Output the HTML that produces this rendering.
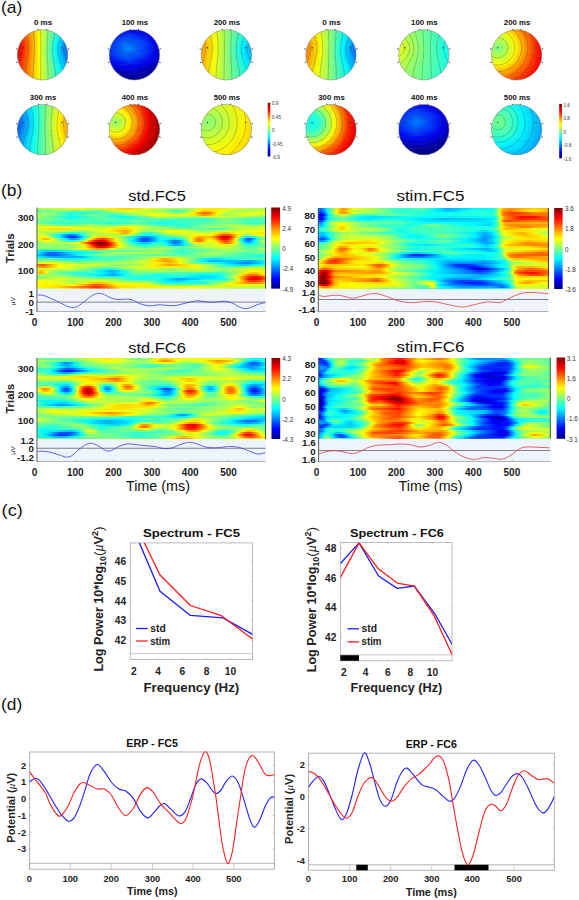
<!DOCTYPE html>
<html><head><meta charset="utf-8"><style>
html,body{margin:0;padding:0;background:#fff;width:579px;height:900px;overflow:hidden}
svg{display:block}
</style></head><body>
<svg width="579" height="900" viewBox="0 0 579 900" font-family="Liberation Sans, sans-serif">
<defs><clipPath id="c1"><circle cx="42.6" cy="54.8" r="25.2"/></clipPath>
<linearGradient id="g2"><stop offset=".000" stop-color="#ff0600"/><stop offset=".431" stop-color="#f6ff09"/><stop offset=".843" stop-color="#00faff"/><stop offset="1.000" stop-color="#009fff"/></linearGradient>
<linearGradient id="g3"><stop offset=".000" stop-color="#ff0200"/><stop offset=".431" stop-color="#f7ff08"/><stop offset=".843" stop-color="#00f4ff"/><stop offset="1.000" stop-color="#0099ff"/></linearGradient>
<linearGradient id="g4"><stop offset=".000" stop-color="#fc0000"/><stop offset=".431" stop-color="#f8ff07"/><stop offset=".824" stop-color="#00faff"/><stop offset="1.000" stop-color="#0091ff"/></linearGradient>
<linearGradient id="g5"><stop offset=".000" stop-color="#f70000"/><stop offset=".431" stop-color="#f9ff06"/><stop offset=".824" stop-color="#00f2ff"/><stop offset="1.000" stop-color="#0087ff"/></linearGradient>
<linearGradient id="g6"><stop offset=".000" stop-color="#f10000"/><stop offset=".176" stop-color="#ff5b00"/><stop offset=".431" stop-color="#faff05"/><stop offset=".804" stop-color="#00f7ff"/><stop offset="1.000" stop-color="#007dff"/></linearGradient>
<linearGradient id="g7"><stop offset=".000" stop-color="#ec0000"/><stop offset=".098" stop-color="#ff2500"/><stop offset=".431" stop-color="#fbff04"/><stop offset=".784" stop-color="#00feff"/><stop offset="1.000" stop-color="#0073ff"/></linearGradient>
<linearGradient id="g8"><stop offset=".000" stop-color="#e80000"/><stop offset=".078" stop-color="#ff1500"/><stop offset=".431" stop-color="#fbff04"/><stop offset=".784" stop-color="#00f6ff"/><stop offset="1.000" stop-color="#0068ff"/></linearGradient>
<linearGradient id="g9"><stop offset=".000" stop-color="#e50000"/><stop offset=".098" stop-color="#ff1d00"/><stop offset=".431" stop-color="#fcff03"/><stop offset=".765" stop-color="#01fffe"/><stop offset="1.000" stop-color="#005fff"/></linearGradient>
<linearGradient id="g10"><stop offset=".000" stop-color="#e20000"/><stop offset=".098" stop-color="#ff1b00"/><stop offset=".431" stop-color="#fcff03"/><stop offset=".765" stop-color="#00fbff"/><stop offset="1.000" stop-color="#0059ff"/></linearGradient>
<linearGradient id="g11"><stop offset=".000" stop-color="#e20000"/><stop offset=".078" stop-color="#ff0f00"/><stop offset=".431" stop-color="#fcff03"/><stop offset=".765" stop-color="#00f9ff"/><stop offset="1.000" stop-color="#0055ff"/></linearGradient>
<linearGradient id="g12"><stop offset=".000" stop-color="#e20000"/><stop offset=".098" stop-color="#ff1b00"/><stop offset=".431" stop-color="#fcff03"/><stop offset=".765" stop-color="#00f9ff"/><stop offset="1.000" stop-color="#0055ff"/></linearGradient>
<linearGradient id="g13"><stop offset=".000" stop-color="#e50000"/><stop offset=".098" stop-color="#ff1e00"/><stop offset=".431" stop-color="#fcff03"/><stop offset=".765" stop-color="#00fbff"/><stop offset="1.000" stop-color="#0058ff"/></linearGradient>
<linearGradient id="g14"><stop offset=".000" stop-color="#e80000"/><stop offset=".078" stop-color="#ff1500"/><stop offset=".431" stop-color="#fbff04"/><stop offset=".765" stop-color="#00ffff"/><stop offset="1.000" stop-color="#005eff"/></linearGradient>
<linearGradient id="g15"><stop offset=".000" stop-color="#ed0000"/><stop offset=".098" stop-color="#ff2600"/><stop offset=".431" stop-color="#faff05"/><stop offset=".784" stop-color="#00f5ff"/><stop offset="1.000" stop-color="#0067ff"/></linearGradient>
<linearGradient id="g16"><stop offset=".000" stop-color="#f20000"/><stop offset=".196" stop-color="#ff6900"/><stop offset=".431" stop-color="#f9ff06"/><stop offset=".784" stop-color="#00fcff"/><stop offset="1.000" stop-color="#0071ff"/></linearGradient>
<linearGradient id="g17"><stop offset=".000" stop-color="#f70000"/><stop offset=".431" stop-color="#f8ff07"/><stop offset=".804" stop-color="#00f6ff"/><stop offset="1.000" stop-color="#007bff"/></linearGradient>
<linearGradient id="g18"><stop offset=".000" stop-color="#fc0000"/><stop offset=".431" stop-color="#f7ff08"/><stop offset=".824" stop-color="#00f1ff"/><stop offset="1.000" stop-color="#0086ff"/></linearGradient>
<linearGradient id="g19"><stop offset=".000" stop-color="#ff0200"/><stop offset=".431" stop-color="#f7ff08"/><stop offset=".824" stop-color="#00f9ff"/><stop offset="1.000" stop-color="#008fff"/></linearGradient>
<linearGradient id="g20"><stop offset=".000" stop-color="#ff0600"/><stop offset=".431" stop-color="#f6ff09"/><stop offset=".843" stop-color="#00f3ff"/><stop offset="1.000" stop-color="#0097ff"/></linearGradient>
<linearGradient id="g21"><stop offset=".000" stop-color="#ff0a00"/><stop offset=".431" stop-color="#f5ff0a"/><stop offset=".843" stop-color="#00f9ff"/><stop offset="1.000" stop-color="#009eff"/></linearGradient>
<linearGradient id="g22"><stop offset=".000" stop-color="#ff0d00"/><stop offset=".431" stop-color="#f5ff0a"/><stop offset=".863" stop-color="#00f2ff"/><stop offset="1.000" stop-color="#00a3ff"/></linearGradient>
<linearGradient id="g23"><stop offset=".000" stop-color="#ff0f00"/><stop offset=".431" stop-color="#f4ff0b"/><stop offset=".863" stop-color="#00f5ff"/><stop offset="1.000" stop-color="#00a7ff"/></linearGradient>
<linearGradient id="g24"><stop offset=".000" stop-color="#ff1100"/><stop offset=".431" stop-color="#f4ff0b"/><stop offset=".863" stop-color="#00f8ff"/><stop offset="1.000" stop-color="#00a9ff"/></linearGradient>
<linearGradient id="g25"><stop offset=".000" stop-color="#ff1200"/><stop offset=".431" stop-color="#f4ff0b"/><stop offset=".863" stop-color="#00f9ff"/><stop offset="1.000" stop-color="#00abff"/></linearGradient>
<linearGradient id="g26"><stop offset=".000" stop-color="#ff1300"/><stop offset=".431" stop-color="#f4ff0b"/><stop offset=".863" stop-color="#00faff"/><stop offset="1.000" stop-color="#00acff"/></linearGradient>
<linearGradient id="g27"><stop offset=".000" stop-color="#ff1300"/><stop offset=".431" stop-color="#f3ff0c"/><stop offset=".863" stop-color="#00fbff"/><stop offset="1.000" stop-color="#00adff"/></linearGradient>
<clipPath id="c28"><circle cx="134.4" cy="54.8" r="25.2"/></clipPath>
<linearGradient id="g29"><stop offset=".000" stop-color="#0000df"/><stop offset=".294" stop-color="#000cff"/><stop offset=".667" stop-color="#0000f0"/><stop offset="1.000" stop-color="#0000a7"/></linearGradient>
<linearGradient id="g30"><stop offset=".000" stop-color="#0000ee"/><stop offset=".314" stop-color="#0021ff"/><stop offset=".745" stop-color="#0000ef"/><stop offset="1.000" stop-color="#0000b0"/></linearGradient>
<linearGradient id="g31"><stop offset=".000" stop-color="#0000fc"/><stop offset=".392" stop-color="#0036ff"/><stop offset=".784" stop-color="#0000f3"/><stop offset="1.000" stop-color="#0000b7"/></linearGradient>
<linearGradient id="g32"><stop offset=".000" stop-color="#000bff"/><stop offset=".353" stop-color="#004aff"/><stop offset=".686" stop-color="#001bff"/><stop offset=".863" stop-color="#0000e9"/><stop offset="1.000" stop-color="#0000be"/></linearGradient>
<linearGradient id="g33"><stop offset=".000" stop-color="#0016ff"/><stop offset=".314" stop-color="#0055ff"/><stop offset=".627" stop-color="#0038ff"/><stop offset=".863" stop-color="#0000f3"/><stop offset="1.000" stop-color="#0000c6"/></linearGradient>
<linearGradient id="g34"><stop offset=".000" stop-color="#0020ff"/><stop offset=".294" stop-color="#005eff"/><stop offset=".627" stop-color="#0045ff"/><stop offset=".882" stop-color="#0000f4"/><stop offset="1.000" stop-color="#0000cd"/></linearGradient>
<linearGradient id="g35"><stop offset=".000" stop-color="#0028ff"/><stop offset=".314" stop-color="#006aff"/><stop offset=".647" stop-color="#004aff"/><stop offset=".902" stop-color="#0000f4"/><stop offset="1.000" stop-color="#0000d2"/></linearGradient>
<linearGradient id="g36"><stop offset=".000" stop-color="#002eff"/><stop offset=".353" stop-color="#0077ff"/><stop offset=".706" stop-color="#003dff"/><stop offset=".922" stop-color="#0000f1"/><stop offset="1.000" stop-color="#0000d5"/></linearGradient>
<linearGradient id="g37"><stop offset=".000" stop-color="#0031ff"/><stop offset=".392" stop-color="#0082ff"/><stop offset=".765" stop-color="#002cff"/><stop offset=".941" stop-color="#0000ec"/><stop offset="1.000" stop-color="#0000d7"/></linearGradient>
<linearGradient id="g38"><stop offset=".000" stop-color="#0031ff"/><stop offset=".392" stop-color="#0084ff"/><stop offset=".784" stop-color="#0025ff"/><stop offset=".941" stop-color="#0000ec"/><stop offset="1.000" stop-color="#0000d7"/></linearGradient>
<linearGradient id="g39"><stop offset=".000" stop-color="#002fff"/><stop offset=".373" stop-color="#007aff"/><stop offset=".745" stop-color="#0031ff"/><stop offset=".922" stop-color="#0000f1"/><stop offset="1.000" stop-color="#0000d6"/></linearGradient>
<linearGradient id="g40"><stop offset=".000" stop-color="#0029ff"/><stop offset=".314" stop-color="#006cff"/><stop offset=".647" stop-color="#004bff"/><stop offset=".902" stop-color="#0000f5"/><stop offset="1.000" stop-color="#0000d2"/></linearGradient>
<linearGradient id="g41"><stop offset=".000" stop-color="#0022ff"/><stop offset=".294" stop-color="#0060ff"/><stop offset=".627" stop-color="#0047ff"/><stop offset=".882" stop-color="#0000f5"/><stop offset="1.000" stop-color="#0000ce"/></linearGradient>
<linearGradient id="g42"><stop offset=".000" stop-color="#0018ff"/><stop offset=".314" stop-color="#0056ff"/><stop offset=".627" stop-color="#003aff"/><stop offset=".863" stop-color="#0000f4"/><stop offset="1.000" stop-color="#0000c7"/></linearGradient>
<linearGradient id="g43"><stop offset=".000" stop-color="#000cff"/><stop offset=".353" stop-color="#004dff"/><stop offset=".686" stop-color="#001dff"/><stop offset=".863" stop-color="#0000ea"/><stop offset="1.000" stop-color="#0000bf"/></linearGradient>
<linearGradient id="g44"><stop offset=".000" stop-color="#0000fe"/><stop offset=".373" stop-color="#0039ff"/><stop offset=".784" stop-color="#0000f5"/><stop offset="1.000" stop-color="#0000b8"/></linearGradient>
<linearGradient id="g45"><stop offset=".000" stop-color="#0000f0"/><stop offset=".451" stop-color="#0023ff"/><stop offset=".745" stop-color="#0000f2"/><stop offset="1.000" stop-color="#0000b1"/></linearGradient>
<linearGradient id="g46"><stop offset=".000" stop-color="#0000e1"/><stop offset=".275" stop-color="#000eff"/><stop offset=".686" stop-color="#0000ef"/><stop offset="1.000" stop-color="#0000a9"/></linearGradient>
<linearGradient id="g47"><stop offset=".000" stop-color="#0000d2"/><stop offset=".412" stop-color="#0000fd"/><stop offset=".922" stop-color="#0000af"/><stop offset="1.000" stop-color="#0000a0"/></linearGradient>
<linearGradient id="g48"><stop offset=".000" stop-color="#0000c2"/><stop offset=".431" stop-color="#0000e8"/><stop offset="1.000" stop-color="#000097"/></linearGradient>
<linearGradient id="g49"><stop offset=".000" stop-color="#0000b4"/><stop offset=".471" stop-color="#0000d3"/><stop offset="1.000" stop-color="#00008d"/></linearGradient>
<linearGradient id="g50"><stop offset=".000" stop-color="#0000a8"/><stop offset=".510" stop-color="#0000bd"/><stop offset="1.000" stop-color="#000089"/></linearGradient>
<linearGradient id="g51"><stop offset=".000" stop-color="#00009c"/><stop offset=".549" stop-color="#0000ad"/><stop offset="1.000" stop-color="#000087"/></linearGradient>
<linearGradient id="g52"><stop offset=".000" stop-color="#00008f"/><stop offset=".569" stop-color="#00009f"/><stop offset="1.000" stop-color="#000086"/></linearGradient>
<linearGradient id="g53"><stop offset=".000" stop-color="#000089"/><stop offset=".647" stop-color="#00008c"/><stop offset="1.000" stop-color="#000084"/></linearGradient>
<linearGradient id="g54"><stop offset=".000" stop-color="#000087"/><stop offset="1.000" stop-color="#000083"/></linearGradient>
<clipPath id="c55"><circle cx="226.4" cy="54.8" r="25.2"/></clipPath>
<linearGradient id="g56"><stop offset=".000" stop-color="#ffb100"/><stop offset=".255" stop-color="#f1ff0e"/><stop offset=".922" stop-color="#00f7ff"/><stop offset="1.000" stop-color="#00dcff"/></linearGradient>
<linearGradient id="g57"><stop offset=".000" stop-color="#ffae00"/><stop offset=".255" stop-color="#f3ff0c"/><stop offset=".922" stop-color="#00f2ff"/><stop offset="1.000" stop-color="#00d8ff"/></linearGradient>
<linearGradient id="g58"><stop offset=".000" stop-color="#ffaa00"/><stop offset=".255" stop-color="#f6ff09"/><stop offset=".902" stop-color="#00f4ff"/><stop offset="1.000" stop-color="#00d2ff"/></linearGradient>
<linearGradient id="g59"><stop offset=".000" stop-color="#ffa600"/><stop offset=".275" stop-color="#f0ff0f"/><stop offset=".882" stop-color="#00f6ff"/><stop offset="1.000" stop-color="#00ccff"/></linearGradient>
<linearGradient id="g60"><stop offset=".000" stop-color="#ffa200"/><stop offset=".275" stop-color="#f3ff0c"/><stop offset=".863" stop-color="#00f7ff"/><stop offset="1.000" stop-color="#00c5ff"/></linearGradient>
<linearGradient id="g61"><stop offset=".000" stop-color="#ff9d00"/><stop offset=".275" stop-color="#f5ff0a"/><stop offset=".843" stop-color="#00f9ff"/><stop offset="1.000" stop-color="#00beff"/></linearGradient>
<linearGradient id="g62"><stop offset=".000" stop-color="#ff9a00"/><stop offset=".275" stop-color="#f8ff07"/><stop offset=".843" stop-color="#00f3ff"/><stop offset="1.000" stop-color="#00b7ff"/></linearGradient>
<linearGradient id="g63"><stop offset=".000" stop-color="#ff9700"/><stop offset=".294" stop-color="#f0ff0f"/><stop offset=".824" stop-color="#00f7ff"/><stop offset="1.000" stop-color="#00b1ff"/></linearGradient>
<linearGradient id="g64"><stop offset=".000" stop-color="#ff9500"/><stop offset=".294" stop-color="#f1ff0e"/><stop offset=".824" stop-color="#00f3ff"/><stop offset="1.000" stop-color="#00adff"/></linearGradient>
<linearGradient id="g65"><stop offset=".000" stop-color="#ff9500"/><stop offset=".294" stop-color="#f2ff0d"/><stop offset=".804" stop-color="#00fbff"/><stop offset="1.000" stop-color="#00abff"/></linearGradient>
<linearGradient id="g66"><stop offset=".000" stop-color="#ff9600"/><stop offset=".294" stop-color="#f1ff0e"/><stop offset=".804" stop-color="#00fbff"/><stop offset="1.000" stop-color="#00aaff"/></linearGradient>
<linearGradient id="g67"><stop offset=".000" stop-color="#ff9700"/><stop offset=".275" stop-color="#f9ff06"/><stop offset=".824" stop-color="#00f3ff"/><stop offset="1.000" stop-color="#00acff"/></linearGradient>
<linearGradient id="g68"><stop offset=".000" stop-color="#ff9a00"/><stop offset=".275" stop-color="#f7ff08"/><stop offset=".824" stop-color="#00f6ff"/><stop offset="1.000" stop-color="#00b1ff"/></linearGradient>
<linearGradient id="g69"><stop offset=".000" stop-color="#ff9e00"/><stop offset=".275" stop-color="#f5ff0a"/><stop offset=".843" stop-color="#00f2ff"/><stop offset="1.000" stop-color="#00b6ff"/></linearGradient>
<linearGradient id="g70"><stop offset=".000" stop-color="#ffa200"/><stop offset=".275" stop-color="#f3ff0c"/><stop offset=".843" stop-color="#00f8ff"/><stop offset="1.000" stop-color="#00bdff"/></linearGradient>
<linearGradient id="g71"><stop offset=".000" stop-color="#ffa600"/><stop offset=".255" stop-color="#f8ff07"/><stop offset=".863" stop-color="#00f6ff"/><stop offset="1.000" stop-color="#00c4ff"/></linearGradient>
<linearGradient id="g72"><stop offset=".000" stop-color="#ffaa00"/><stop offset=".255" stop-color="#f5ff0a"/><stop offset=".882" stop-color="#00f5ff"/><stop offset="1.000" stop-color="#00cbff"/></linearGradient>
<linearGradient id="g73"><stop offset=".000" stop-color="#ffae00"/><stop offset=".255" stop-color="#f3ff0c"/><stop offset=".902" stop-color="#00f3ff"/><stop offset="1.000" stop-color="#00d1ff"/></linearGradient>
<linearGradient id="g74"><stop offset=".000" stop-color="#ffb200"/><stop offset=".255" stop-color="#f0ff0f"/><stop offset=".902" stop-color="#00f9ff"/><stop offset="1.000" stop-color="#00d7ff"/></linearGradient>
<linearGradient id="g75"><stop offset=".000" stop-color="#ffb400"/><stop offset=".255" stop-color="#eeff11"/><stop offset=".922" stop-color="#00f6ff"/><stop offset="1.000" stop-color="#00dbff"/></linearGradient>
<linearGradient id="g76"><stop offset=".000" stop-color="#ffb700"/><stop offset=".235" stop-color="#f4ff0b"/><stop offset=".941" stop-color="#00f3ff"/><stop offset="1.000" stop-color="#00dfff"/></linearGradient>
<linearGradient id="g77"><stop offset=".000" stop-color="#ffb900"/><stop offset=".235" stop-color="#f3ff0c"/><stop offset=".941" stop-color="#00f5ff"/><stop offset="1.000" stop-color="#00e1ff"/></linearGradient>
<linearGradient id="g78"><stop offset=".000" stop-color="#ffba00"/><stop offset=".235" stop-color="#f2ff0d"/><stop offset=".941" stop-color="#00f7ff"/><stop offset="1.000" stop-color="#00e3ff"/></linearGradient>
<linearGradient id="g79"><stop offset=".000" stop-color="#ffbb00"/><stop offset=".235" stop-color="#f1ff0e"/><stop offset=".941" stop-color="#00f8ff"/><stop offset="1.000" stop-color="#00e4ff"/></linearGradient>
<linearGradient id="g80"><stop offset=".000" stop-color="#ffbc00"/><stop offset=".235" stop-color="#f1ff0e"/><stop offset=".961" stop-color="#00f2ff"/><stop offset="1.000" stop-color="#00e5ff"/></linearGradient>
<linearGradient id="g81"><stop offset=".000" stop-color="#ffbc00"/><stop offset=".235" stop-color="#f0ff0f"/><stop offset=".961" stop-color="#00f3ff"/><stop offset="1.000" stop-color="#00e5ff"/></linearGradient>
<clipPath id="c82"><circle cx="42.6" cy="129.6" r="25.2"/></clipPath>
<linearGradient id="g83"><stop offset=".000" stop-color="#0080ff"/><stop offset=".314" stop-color="#0bfff4"/><stop offset=".882" stop-color="#fff500"/><stop offset="1.000" stop-color="#ffc500"/></linearGradient>
<linearGradient id="g84"><stop offset=".000" stop-color="#007aff"/><stop offset=".314" stop-color="#08fff7"/><stop offset=".863" stop-color="#fffa00"/><stop offset="1.000" stop-color="#ffc100"/></linearGradient>
<linearGradient id="g85"><stop offset=".000" stop-color="#0073ff"/><stop offset=".333" stop-color="#0efff1"/><stop offset=".863" stop-color="#fff600"/><stop offset="1.000" stop-color="#ffbd00"/></linearGradient>
<linearGradient id="g86"><stop offset=".000" stop-color="#006cff"/><stop offset=".333" stop-color="#0bfff4"/><stop offset=".843" stop-color="#fffa00"/><stop offset="1.000" stop-color="#ffb800"/></linearGradient>
<linearGradient id="g87"><stop offset=".000" stop-color="#0064ff"/><stop offset=".333" stop-color="#08fff7"/><stop offset=".843" stop-color="#fff500"/><stop offset="1.000" stop-color="#ffb200"/></linearGradient>
<linearGradient id="g88"><stop offset=".000" stop-color="#005dff"/><stop offset=".333" stop-color="#04fffb"/><stop offset=".824" stop-color="#fffa00"/><stop offset="1.000" stop-color="#ffad00"/></linearGradient>
<linearGradient id="g89"><stop offset=".000" stop-color="#0057ff"/><stop offset=".353" stop-color="#0dfff2"/><stop offset=".824" stop-color="#fff600"/><stop offset="1.000" stop-color="#ffa800"/></linearGradient>
<linearGradient id="g90"><stop offset=".000" stop-color="#0052ff"/><stop offset=".353" stop-color="#0bfff4"/><stop offset=".804" stop-color="#fffc00"/><stop offset="1.000" stop-color="#ffa400"/></linearGradient>
<linearGradient id="g91"><stop offset=".000" stop-color="#004fff"/><stop offset=".353" stop-color="#0afff5"/><stop offset=".804" stop-color="#fffa00"/><stop offset="1.000" stop-color="#ffa100"/></linearGradient>
<linearGradient id="g92"><stop offset=".000" stop-color="#004eff"/><stop offset=".353" stop-color="#0afff5"/><stop offset=".804" stop-color="#fff800"/><stop offset="1.000" stop-color="#ffa000"/></linearGradient>
<linearGradient id="g93"><stop offset=".000" stop-color="#004fff"/><stop offset=".353" stop-color="#0afff5"/><stop offset=".804" stop-color="#fff800"/><stop offset="1.000" stop-color="#ff9f00"/></linearGradient>
<linearGradient id="g94"><stop offset=".000" stop-color="#0053ff"/><stop offset=".353" stop-color="#0bfff4"/><stop offset=".804" stop-color="#fff900"/><stop offset="1.000" stop-color="#ffa100"/></linearGradient>
<linearGradient id="g95"><stop offset=".000" stop-color="#0058ff"/><stop offset=".353" stop-color="#0dfff2"/><stop offset=".804" stop-color="#fffc00"/><stop offset="1.000" stop-color="#ffa400"/></linearGradient>
<linearGradient id="g96"><stop offset=".000" stop-color="#005eff"/><stop offset=".333" stop-color="#05fffa"/><stop offset=".824" stop-color="#fff500"/><stop offset="1.000" stop-color="#ffa800"/></linearGradient>
<linearGradient id="g97"><stop offset=".000" stop-color="#0065ff"/><stop offset=".333" stop-color="#08fff7"/><stop offset=".824" stop-color="#fff900"/><stop offset="1.000" stop-color="#ffac00"/></linearGradient>
<linearGradient id="g98"><stop offset=".000" stop-color="#006cff"/><stop offset=".333" stop-color="#0bfff4"/><stop offset=".843" stop-color="#fff400"/><stop offset="1.000" stop-color="#ffb200"/></linearGradient>
<linearGradient id="g99"><stop offset=".000" stop-color="#0074ff"/><stop offset=".314" stop-color="#05fffa"/><stop offset=".843" stop-color="#fff900"/><stop offset="1.000" stop-color="#ffb700"/></linearGradient>
<linearGradient id="g100"><stop offset=".000" stop-color="#007aff"/><stop offset=".314" stop-color="#08fff7"/><stop offset=".863" stop-color="#fff500"/><stop offset="1.000" stop-color="#ffbc00"/></linearGradient>
<linearGradient id="g101"><stop offset=".000" stop-color="#0080ff"/><stop offset=".314" stop-color="#0bfff4"/><stop offset=".863" stop-color="#fff900"/><stop offset="1.000" stop-color="#ffc100"/></linearGradient>
<linearGradient id="g102"><stop offset=".000" stop-color="#0085ff"/><stop offset=".314" stop-color="#0efff1"/><stop offset=".882" stop-color="#fff500"/><stop offset="1.000" stop-color="#ffc500"/></linearGradient>
<linearGradient id="g103"><stop offset=".000" stop-color="#0089ff"/><stop offset=".294" stop-color="#07fff8"/><stop offset=".882" stop-color="#fff800"/><stop offset="1.000" stop-color="#ffc800"/></linearGradient>
<linearGradient id="g104"><stop offset=".000" stop-color="#008dff"/><stop offset=".294" stop-color="#09fff6"/><stop offset=".902" stop-color="#fff300"/><stop offset="1.000" stop-color="#ffcb00"/></linearGradient>
<linearGradient id="g105"><stop offset=".000" stop-color="#008fff"/><stop offset=".294" stop-color="#0afff5"/><stop offset=".902" stop-color="#fff500"/><stop offset="1.000" stop-color="#ffcd00"/></linearGradient>
<linearGradient id="g106"><stop offset=".000" stop-color="#0091ff"/><stop offset=".294" stop-color="#0bfff4"/><stop offset=".902" stop-color="#fff600"/><stop offset="1.000" stop-color="#ffce00"/></linearGradient>
<linearGradient id="g107"><stop offset=".000" stop-color="#0092ff"/><stop offset=".294" stop-color="#0cfff3"/><stop offset=".902" stop-color="#fff700"/><stop offset="1.000" stop-color="#ffcf00"/></linearGradient>
<linearGradient id="g108"><stop offset=".000" stop-color="#0093ff"/><stop offset=".294" stop-color="#0cfff3"/><stop offset=".902" stop-color="#fff800"/><stop offset="1.000" stop-color="#ffd000"/></linearGradient>
<clipPath id="c109"><circle cx="134.4" cy="129.6" r="25.2"/></clipPath>
<linearGradient id="g110"><stop offset=".000" stop-color="#ffb900"/><stop offset=".235" stop-color="#ffbe00"/><stop offset=".529" stop-color="#ff4d00"/><stop offset=".686" stop-color="#f50000"/><stop offset=".961" stop-color="#970000"/><stop offset="1.000" stop-color="#910000"/></linearGradient>
<linearGradient id="g111"><stop offset=".000" stop-color="#ffce00"/><stop offset=".216" stop-color="#ffd700"/><stop offset=".471" stop-color="#ff7d00"/><stop offset=".706" stop-color="#f70000"/><stop offset=".980" stop-color="#960000"/><stop offset="1.000" stop-color="#930000"/></linearGradient>
<linearGradient id="g112"><stop offset=".000" stop-color="#ffe300"/><stop offset=".216" stop-color="#ffed00"/><stop offset=".471" stop-color="#ff8e00"/><stop offset=".725" stop-color="#f60000"/><stop offset="1.000" stop-color="#950000"/></linearGradient>
<linearGradient id="g113"><stop offset=".000" stop-color="#fff800"/><stop offset=".216" stop-color="#fbff04"/><stop offset=".471" stop-color="#ff9d00"/><stop offset=".745" stop-color="#f40000"/><stop offset="1.000" stop-color="#970000"/></linearGradient>
<linearGradient id="g114"><stop offset=".000" stop-color="#f3ff0c"/><stop offset=".176" stop-color="#dfff20"/><stop offset=".333" stop-color="#ffee00"/><stop offset=".745" stop-color="#fc0000"/><stop offset="1.000" stop-color="#980000"/></linearGradient>
<linearGradient id="g115"><stop offset=".000" stop-color="#e2ff1d"/><stop offset=".176" stop-color="#ccff33"/><stop offset=".353" stop-color="#fff300"/><stop offset=".765" stop-color="#f60000"/><stop offset="1.000" stop-color="#990000"/></linearGradient>
<linearGradient id="g116"><stop offset=".000" stop-color="#d4ff2b"/><stop offset=".157" stop-color="#b5ff4a"/><stop offset=".373" stop-color="#fff400"/><stop offset=".765" stop-color="#fb0000"/><stop offset="1.000" stop-color="#9a0000"/></linearGradient>
<linearGradient id="g117"><stop offset=".000" stop-color="#c9ff36"/><stop offset=".137" stop-color="#a0ff5f"/><stop offset=".392" stop-color="#fff000"/><stop offset=".784" stop-color="#f20000"/><stop offset="1.000" stop-color="#9b0000"/></linearGradient>
<linearGradient id="g118"><stop offset=".000" stop-color="#c3ff3c"/><stop offset=".137" stop-color="#8cff73"/><stop offset=".392" stop-color="#fff400"/><stop offset=".784" stop-color="#f30000"/><stop offset="1.000" stop-color="#9b0000"/></linearGradient>
<linearGradient id="g119"><stop offset=".000" stop-color="#c2ff3d"/><stop offset=".137" stop-color="#89ff76"/><stop offset=".392" stop-color="#fff400"/><stop offset=".784" stop-color="#f30000"/><stop offset="1.000" stop-color="#9b0000"/></linearGradient>
<linearGradient id="g120"><stop offset=".000" stop-color="#c8ff37"/><stop offset=".137" stop-color="#9dff62"/><stop offset=".392" stop-color="#fff100"/><stop offset=".784" stop-color="#f20000"/><stop offset="1.000" stop-color="#9b0000"/></linearGradient>
<linearGradient id="g121"><stop offset=".000" stop-color="#d2ff2d"/><stop offset=".157" stop-color="#b3ff4c"/><stop offset=".373" stop-color="#fff500"/><stop offset=".765" stop-color="#fc0000"/><stop offset="1.000" stop-color="#9a0000"/></linearGradient>
<linearGradient id="g122"><stop offset=".000" stop-color="#dfff20"/><stop offset=".176" stop-color="#c9ff36"/><stop offset=".353" stop-color="#fff500"/><stop offset=".765" stop-color="#f70000"/><stop offset="1.000" stop-color="#990000"/></linearGradient>
<linearGradient id="g123"><stop offset=".000" stop-color="#f0ff0f"/><stop offset=".176" stop-color="#dcff23"/><stop offset=".333" stop-color="#fff000"/><stop offset=".745" stop-color="#fe0000"/><stop offset="1.000" stop-color="#980000"/></linearGradient>
<linearGradient id="g124"><stop offset=".000" stop-color="#fffa00"/><stop offset=".216" stop-color="#f8ff07"/><stop offset=".451" stop-color="#ffab00"/><stop offset=".745" stop-color="#f50000"/><stop offset="1.000" stop-color="#970000"/></linearGradient>
<linearGradient id="g125"><stop offset=".000" stop-color="#ffe600"/><stop offset=".216" stop-color="#fff000"/><stop offset=".471" stop-color="#ff9000"/><stop offset=".725" stop-color="#f80000"/><stop offset="1.000" stop-color="#950000"/></linearGradient>
<linearGradient id="g126"><stop offset=".000" stop-color="#ffd100"/><stop offset=".216" stop-color="#ffda00"/><stop offset=".471" stop-color="#ff7f00"/><stop offset=".706" stop-color="#f90000"/><stop offset=".980" stop-color="#960000"/><stop offset="1.000" stop-color="#940000"/></linearGradient>
<linearGradient id="g127"><stop offset=".000" stop-color="#ffbc00"/><stop offset=".235" stop-color="#ffc100"/><stop offset=".510" stop-color="#ff5900"/><stop offset=".686" stop-color="#f70000"/><stop offset=".961" stop-color="#970000"/><stop offset="1.000" stop-color="#920000"/></linearGradient>
<linearGradient id="g128"><stop offset=".000" stop-color="#ffa400"/><stop offset=".235" stop-color="#ffa900"/><stop offset=".549" stop-color="#ff3400"/><stop offset=".667" stop-color="#f40000"/><stop offset=".961" stop-color="#950000"/><stop offset="1.000" stop-color="#8f0000"/></linearGradient>
<linearGradient id="g129"><stop offset=".000" stop-color="#ff8b00"/><stop offset=".235" stop-color="#ff8f00"/><stop offset=".549" stop-color="#ff2100"/><stop offset=".647" stop-color="#ee0000"/><stop offset=".941" stop-color="#950000"/><stop offset="1.000" stop-color="#8d0000"/></linearGradient>
<linearGradient id="g130"><stop offset=".000" stop-color="#ff7100"/><stop offset=".255" stop-color="#ff7200"/><stop offset=".588" stop-color="#fa0000"/><stop offset=".922" stop-color="#950000"/><stop offset="1.000" stop-color="#8a0000"/></linearGradient>
<linearGradient id="g131"><stop offset=".000" stop-color="#ff5700"/><stop offset=".275" stop-color="#ff5400"/><stop offset=".549" stop-color="#f80000"/><stop offset=".902" stop-color="#940000"/><stop offset="1.000" stop-color="#870000"/></linearGradient>
<linearGradient id="g132"><stop offset=".000" stop-color="#ff3d00"/><stop offset=".275" stop-color="#ff3a00"/><stop offset=".510" stop-color="#f40000"/><stop offset=".882" stop-color="#930000"/><stop offset="1.000" stop-color="#840000"/></linearGradient>
<linearGradient id="g133"><stop offset=".000" stop-color="#ff2200"/><stop offset=".294" stop-color="#ff1c00"/><stop offset=".471" stop-color="#eb0000"/><stop offset=".882" stop-color="#8f0000"/><stop offset="1.000" stop-color="#810000"/></linearGradient>
<linearGradient id="g134"><stop offset=".000" stop-color="#ff0800"/><stop offset=".294" stop-color="#ff0200"/><stop offset=".863" stop-color="#8e0000"/><stop offset="1.000" stop-color="#800000"/></linearGradient>
<linearGradient id="g135"><stop offset=".000" stop-color="#ec0000"/><stop offset=".314" stop-color="#e50000"/><stop offset=".941" stop-color="#810000"/><stop offset="1.000" stop-color="#800000"/></linearGradient>
<clipPath id="c136"><circle cx="226.4" cy="129.6" r="25.2"/></clipPath>
<linearGradient id="g137"><stop offset=".000" stop-color="#c9ff36"/><stop offset=".451" stop-color="#e1ff1e"/><stop offset=".824" stop-color="#ffea00"/><stop offset="1.000" stop-color="#ffcf00"/></linearGradient>
<linearGradient id="g138"><stop offset=".000" stop-color="#c1ff3e"/><stop offset=".412" stop-color="#d6ff29"/><stop offset=".824" stop-color="#ffec00"/><stop offset="1.000" stop-color="#ffd200"/></linearGradient>
<linearGradient id="g139"><stop offset=".000" stop-color="#baff45"/><stop offset=".392" stop-color="#cdff32"/><stop offset=".824" stop-color="#ffef00"/><stop offset="1.000" stop-color="#ffd400"/></linearGradient>
<linearGradient id="g140"><stop offset=".000" stop-color="#b2ff4d"/><stop offset=".373" stop-color="#c5ff3a"/><stop offset=".824" stop-color="#fff100"/><stop offset="1.000" stop-color="#ffd500"/></linearGradient>
<linearGradient id="g141"><stop offset=".000" stop-color="#abff54"/><stop offset=".333" stop-color="#b9ff46"/><stop offset=".824" stop-color="#fff300"/><stop offset="1.000" stop-color="#ffd700"/></linearGradient>
<linearGradient id="g142"><stop offset=".000" stop-color="#a5ff5a"/><stop offset=".294" stop-color="#aeff51"/><stop offset=".843" stop-color="#fff100"/><stop offset="1.000" stop-color="#ffd800"/></linearGradient>
<linearGradient id="g143"><stop offset=".000" stop-color="#9fff60"/><stop offset=".255" stop-color="#a3ff5c"/><stop offset=".843" stop-color="#fff200"/><stop offset="1.000" stop-color="#ffd900"/></linearGradient>
<linearGradient id="g144"><stop offset=".000" stop-color="#9aff65"/><stop offset=".216" stop-color="#98ff67"/><stop offset=".843" stop-color="#fff300"/><stop offset="1.000" stop-color="#ffd900"/></linearGradient>
<linearGradient id="g145"><stop offset=".000" stop-color="#97ff68"/><stop offset=".176" stop-color="#8dff72"/><stop offset=".824" stop-color="#fff600"/><stop offset="1.000" stop-color="#ffda00"/></linearGradient>
<linearGradient id="g146"><stop offset=".000" stop-color="#97ff68"/><stop offset=".157" stop-color="#89ff76"/><stop offset=".824" stop-color="#fff600"/><stop offset="1.000" stop-color="#ffda00"/></linearGradient>
<linearGradient id="g147"><stop offset=".000" stop-color="#9aff65"/><stop offset=".196" stop-color="#94ff6b"/><stop offset=".824" stop-color="#fff600"/><stop offset="1.000" stop-color="#ffd900"/></linearGradient>
<linearGradient id="g148"><stop offset=".000" stop-color="#9eff61"/><stop offset=".235" stop-color="#9fff60"/><stop offset=".843" stop-color="#fff200"/><stop offset="1.000" stop-color="#ffd900"/></linearGradient>
<linearGradient id="g149"><stop offset=".000" stop-color="#a4ff5b"/><stop offset=".294" stop-color="#adff52"/><stop offset=".843" stop-color="#fff100"/><stop offset="1.000" stop-color="#ffd800"/></linearGradient>
<linearGradient id="g150"><stop offset=".000" stop-color="#aaff55"/><stop offset=".333" stop-color="#b9ff46"/><stop offset=".824" stop-color="#fff300"/><stop offset="1.000" stop-color="#ffd700"/></linearGradient>
<linearGradient id="g151"><stop offset=".000" stop-color="#b1ff4e"/><stop offset=".353" stop-color="#c1ff3e"/><stop offset=".824" stop-color="#fff100"/><stop offset="1.000" stop-color="#ffd500"/></linearGradient>
<linearGradient id="g152"><stop offset=".000" stop-color="#b9ff46"/><stop offset=".392" stop-color="#ccff33"/><stop offset=".824" stop-color="#ffef00"/><stop offset="1.000" stop-color="#ffd400"/></linearGradient>
<linearGradient id="g153"><stop offset=".000" stop-color="#c0ff3f"/><stop offset=".412" stop-color="#d5ff2a"/><stop offset=".824" stop-color="#ffed00"/><stop offset="1.000" stop-color="#ffd200"/></linearGradient>
<linearGradient id="g154"><stop offset=".000" stop-color="#c8ff37"/><stop offset=".451" stop-color="#e0ff1f"/><stop offset=".824" stop-color="#ffea00"/><stop offset="1.000" stop-color="#ffd000"/></linearGradient>
<linearGradient id="g155"><stop offset=".000" stop-color="#cfff30"/><stop offset=".490" stop-color="#eaff15"/><stop offset=".863" stop-color="#ffe200"/><stop offset="1.000" stop-color="#ffcd00"/></linearGradient>
<linearGradient id="g156"><stop offset=".000" stop-color="#d7ff28"/><stop offset=".529" stop-color="#f3ff0c"/><stop offset="1.000" stop-color="#ffcb00"/></linearGradient>
<linearGradient id="g157"><stop offset=".000" stop-color="#dfff20"/><stop offset=".706" stop-color="#fff100"/><stop offset="1.000" stop-color="#ffc800"/></linearGradient>
<linearGradient id="g158"><stop offset=".000" stop-color="#e7ff18"/><stop offset=".686" stop-color="#ffef00"/><stop offset="1.000" stop-color="#ffc700"/></linearGradient>
<linearGradient id="g159"><stop offset=".000" stop-color="#edff12"/><stop offset=".647" stop-color="#ffef00"/><stop offset="1.000" stop-color="#ffc700"/></linearGradient>
<linearGradient id="g160"><stop offset=".000" stop-color="#f3ff0c"/><stop offset=".627" stop-color="#ffed00"/><stop offset="1.000" stop-color="#ffc700"/></linearGradient>
<linearGradient id="g161"><stop offset=".000" stop-color="#faff05"/><stop offset=".608" stop-color="#ffea00"/><stop offset="1.000" stop-color="#ffc700"/></linearGradient>
<linearGradient id="g162"><stop offset=".000" stop-color="#fffe00"/><stop offset=".706" stop-color="#ffdb00"/><stop offset="1.000" stop-color="#ffc700"/></linearGradient>
<clipPath id="c163"><circle cx="331" cy="54.8" r="25.2"/></clipPath>
<linearGradient id="g164"><stop offset=".000" stop-color="#ffa100"/><stop offset=".235" stop-color="#f8ff07"/><stop offset=".804" stop-color="#00f8ff"/><stop offset="1.000" stop-color="#00a6ff"/></linearGradient>
<linearGradient id="g165"><stop offset=".000" stop-color="#ff9c00"/><stop offset=".255" stop-color="#f3ff0c"/><stop offset=".804" stop-color="#00f4ff"/><stop offset="1.000" stop-color="#00a0ff"/></linearGradient>
<linearGradient id="g166"><stop offset=".000" stop-color="#ff9600"/><stop offset=".255" stop-color="#f7ff08"/><stop offset=".784" stop-color="#00f8ff"/><stop offset="1.000" stop-color="#0099ff"/></linearGradient>
<linearGradient id="g167"><stop offset=".000" stop-color="#ff9000"/><stop offset=".275" stop-color="#f1ff0e"/><stop offset=".784" stop-color="#00f2ff"/><stop offset="1.000" stop-color="#0091ff"/></linearGradient>
<linearGradient id="g168"><stop offset=".000" stop-color="#ff8a00"/><stop offset=".275" stop-color="#f5ff0a"/><stop offset=".765" stop-color="#00f6ff"/><stop offset="1.000" stop-color="#0088ff"/></linearGradient>
<linearGradient id="g169"><stop offset=".000" stop-color="#ff8400"/><stop offset=".275" stop-color="#f9ff06"/><stop offset=".745" stop-color="#00fbff"/><stop offset="1.000" stop-color="#007eff"/></linearGradient>
<linearGradient id="g170"><stop offset=".000" stop-color="#ff7e00"/><stop offset=".294" stop-color="#f1ff0e"/><stop offset=".745" stop-color="#00f5ff"/><stop offset="1.000" stop-color="#0075ff"/></linearGradient>
<linearGradient id="g171"><stop offset=".000" stop-color="#ff7a00"/><stop offset=".294" stop-color="#f3ff0c"/><stop offset=".725" stop-color="#00fdff"/><stop offset="1.000" stop-color="#006dff"/></linearGradient>
<linearGradient id="g172"><stop offset=".000" stop-color="#ff7800"/><stop offset=".294" stop-color="#f5ff0a"/><stop offset=".725" stop-color="#00faff"/><stop offset=".980" stop-color="#006eff"/><stop offset="1.000" stop-color="#0067ff"/></linearGradient>
<linearGradient id="g173"><stop offset=".000" stop-color="#ff7700"/><stop offset=".294" stop-color="#f5ff0a"/><stop offset=".725" stop-color="#00f8ff"/><stop offset=".980" stop-color="#006aff"/><stop offset="1.000" stop-color="#0064ff"/></linearGradient>
<linearGradient id="g174"><stop offset=".000" stop-color="#ff7800"/><stop offset=".294" stop-color="#f5ff0a"/><stop offset=".725" stop-color="#00f8ff"/><stop offset=".980" stop-color="#006aff"/><stop offset="1.000" stop-color="#0064ff"/></linearGradient>
<linearGradient id="g175"><stop offset=".000" stop-color="#ff7b00"/><stop offset=".294" stop-color="#f3ff0c"/><stop offset=".725" stop-color="#00f9ff"/><stop offset=".980" stop-color="#006dff"/><stop offset="1.000" stop-color="#0066ff"/></linearGradient>
<linearGradient id="g176"><stop offset=".000" stop-color="#ff7f00"/><stop offset=".294" stop-color="#f1ff0e"/><stop offset=".725" stop-color="#00fcff"/><stop offset="1.000" stop-color="#006cff"/></linearGradient>
<linearGradient id="g177"><stop offset=".000" stop-color="#ff8400"/><stop offset=".275" stop-color="#f8ff07"/><stop offset=".745" stop-color="#00f5ff"/><stop offset="1.000" stop-color="#0074ff"/></linearGradient>
<linearGradient id="g178"><stop offset=".000" stop-color="#ff8a00"/><stop offset=".275" stop-color="#f4ff0b"/><stop offset=".745" stop-color="#00faff"/><stop offset="1.000" stop-color="#007dff"/></linearGradient>
<linearGradient id="g179"><stop offset=".000" stop-color="#ff9100"/><stop offset=".275" stop-color="#f0ff0f"/><stop offset=".765" stop-color="#00f5ff"/><stop offset="1.000" stop-color="#0086ff"/></linearGradient>
<linearGradient id="g180"><stop offset=".000" stop-color="#ff9700"/><stop offset=".255" stop-color="#f6ff09"/><stop offset=".765" stop-color="#00fbff"/><stop offset="1.000" stop-color="#008fff"/></linearGradient>
<linearGradient id="g181"><stop offset=".000" stop-color="#ff9d00"/><stop offset=".255" stop-color="#f2ff0d"/><stop offset=".784" stop-color="#00f7ff"/><stop offset="1.000" stop-color="#0098ff"/></linearGradient>
<linearGradient id="g182"><stop offset=".000" stop-color="#ffa200"/><stop offset=".235" stop-color="#f8ff07"/><stop offset=".804" stop-color="#00f3ff"/><stop offset="1.000" stop-color="#009fff"/></linearGradient>
<linearGradient id="g183"><stop offset=".000" stop-color="#ffa600"/><stop offset=".235" stop-color="#f5ff0a"/><stop offset=".804" stop-color="#00f8ff"/><stop offset="1.000" stop-color="#00a5ff"/></linearGradient>
<linearGradient id="g184"><stop offset=".000" stop-color="#ffaa00"/><stop offset=".235" stop-color="#f2ff0d"/><stop offset=".824" stop-color="#00f3ff"/><stop offset="1.000" stop-color="#00a9ff"/></linearGradient>
<linearGradient id="g185"><stop offset=".000" stop-color="#ffac00"/><stop offset=".235" stop-color="#f0ff0f"/><stop offset=".824" stop-color="#00f5ff"/><stop offset="1.000" stop-color="#00acff"/></linearGradient>
<linearGradient id="g186"><stop offset=".000" stop-color="#ffae00"/><stop offset=".216" stop-color="#f7ff08"/><stop offset=".824" stop-color="#00f7ff"/><stop offset="1.000" stop-color="#00afff"/></linearGradient>
<linearGradient id="g187"><stop offset=".000" stop-color="#ffb000"/><stop offset=".216" stop-color="#f6ff09"/><stop offset=".824" stop-color="#00f9ff"/><stop offset="1.000" stop-color="#00b0ff"/></linearGradient>
<linearGradient id="g188"><stop offset=".000" stop-color="#ffb100"/><stop offset=".216" stop-color="#f5ff0a"/><stop offset=".824" stop-color="#00f9ff"/><stop offset="1.000" stop-color="#00b1ff"/></linearGradient>
<linearGradient id="g189"><stop offset=".000" stop-color="#ffb100"/><stop offset=".216" stop-color="#f4ff0b"/><stop offset=".843" stop-color="#00f2ff"/><stop offset="1.000" stop-color="#00b2ff"/></linearGradient>
<clipPath id="c190"><circle cx="423.8" cy="54.8" r="25.2"/></clipPath>
<linearGradient id="g191"><stop offset=".000" stop-color="#beff41"/><stop offset="1.000" stop-color="#17ffe8"/></linearGradient>
<linearGradient id="g192"><stop offset=".000" stop-color="#c3ff3c"/><stop offset="1.000" stop-color="#16ffe9"/></linearGradient>
<linearGradient id="g193"><stop offset=".000" stop-color="#c9ff36"/><stop offset="1.000" stop-color="#14ffeb"/></linearGradient>
<linearGradient id="g194"><stop offset=".000" stop-color="#cfff30"/><stop offset="1.000" stop-color="#12ffed"/></linearGradient>
<linearGradient id="g195"><stop offset=".000" stop-color="#d6ff29"/><stop offset="1.000" stop-color="#10ffef"/></linearGradient>
<linearGradient id="g196"><stop offset=".000" stop-color="#dcff23"/><stop offset="1.000" stop-color="#0dfff2"/></linearGradient>
<linearGradient id="g197"><stop offset=".000" stop-color="#e3ff1c"/><stop offset=".373" stop-color="#8aff75"/><stop offset="1.000" stop-color="#0bfff4"/></linearGradient>
<linearGradient id="g198"><stop offset=".000" stop-color="#e7ff18"/><stop offset=".314" stop-color="#9eff61"/><stop offset="1.000" stop-color="#09fff6"/></linearGradient>
<linearGradient id="g199"><stop offset=".000" stop-color="#ebff14"/><stop offset=".294" stop-color="#a6ff59"/><stop offset=".980" stop-color="#0afff5"/><stop offset="1.000" stop-color="#07fff8"/></linearGradient>
<linearGradient id="g200"><stop offset=".000" stop-color="#ecff13"/><stop offset=".294" stop-color="#a7ff58"/><stop offset=".980" stop-color="#09fff6"/><stop offset="1.000" stop-color="#07fff8"/></linearGradient>
<linearGradient id="g201"><stop offset=".000" stop-color="#eaff15"/><stop offset=".294" stop-color="#a6ff59"/><stop offset=".980" stop-color="#0afff5"/><stop offset="1.000" stop-color="#07fff8"/></linearGradient>
<linearGradient id="g202"><stop offset=".000" stop-color="#e7ff18"/><stop offset=".333" stop-color="#98ff67"/><stop offset="1.000" stop-color="#09fff6"/></linearGradient>
<linearGradient id="g203"><stop offset=".000" stop-color="#e2ff1d"/><stop offset=".392" stop-color="#85ff7a"/><stop offset="1.000" stop-color="#0bfff4"/></linearGradient>
<linearGradient id="g204"><stop offset=".000" stop-color="#dcff23"/><stop offset="1.000" stop-color="#0dfff2"/></linearGradient>
<linearGradient id="g205"><stop offset=".000" stop-color="#d5ff2a"/><stop offset="1.000" stop-color="#10ffef"/></linearGradient>
<linearGradient id="g206"><stop offset=".000" stop-color="#ceff31"/><stop offset="1.000" stop-color="#12ffed"/></linearGradient>
<linearGradient id="g207"><stop offset=".000" stop-color="#c8ff37"/><stop offset="1.000" stop-color="#14ffeb"/></linearGradient>
<linearGradient id="g208"><stop offset=".000" stop-color="#c2ff3d"/><stop offset="1.000" stop-color="#16ffe9"/></linearGradient>
<linearGradient id="g209"><stop offset=".000" stop-color="#beff41"/><stop offset="1.000" stop-color="#17ffe8"/></linearGradient>
<linearGradient id="g210"><stop offset=".000" stop-color="#baff45"/><stop offset="1.000" stop-color="#18ffe7"/></linearGradient>
<linearGradient id="g211"><stop offset=".000" stop-color="#b8ff47"/><stop offset="1.000" stop-color="#19ffe6"/></linearGradient>
<linearGradient id="g212"><stop offset=".000" stop-color="#b6ff49"/><stop offset="1.000" stop-color="#19ffe6"/></linearGradient>
<linearGradient id="g213"><stop offset=".000" stop-color="#b4ff4b"/><stop offset="1.000" stop-color="#19ffe6"/></linearGradient>
<linearGradient id="g214"><stop offset=".000" stop-color="#b4ff4b"/><stop offset="1.000" stop-color="#19ffe6"/></linearGradient>
<linearGradient id="g215"><stop offset=".000" stop-color="#b3ff4c"/><stop offset="1.000" stop-color="#19ffe6"/></linearGradient>
<linearGradient id="g216"><stop offset=".000" stop-color="#b3ff4c"/><stop offset="1.000" stop-color="#19ffe6"/></linearGradient>
<clipPath id="c217"><circle cx="516.6" cy="54.8" r="25.2"/></clipPath>
<linearGradient id="g218"><stop offset=".000" stop-color="#fff400"/><stop offset=".255" stop-color="#fff300"/><stop offset=".608" stop-color="#ff7a00"/><stop offset=".882" stop-color="#ff0e00"/><stop offset="1.000" stop-color="#f60000"/></linearGradient>
<linearGradient id="g219"><stop offset=".000" stop-color="#f8ff07"/><stop offset=".235" stop-color="#f5ff0a"/><stop offset=".471" stop-color="#ffc300"/><stop offset=".882" stop-color="#ff1200"/><stop offset="1.000" stop-color="#f70000"/></linearGradient>
<linearGradient id="g220"><stop offset=".000" stop-color="#e5ff1a"/><stop offset=".216" stop-color="#deff21"/><stop offset=".392" stop-color="#ffee00"/><stop offset=".902" stop-color="#ff1100"/><stop offset="1.000" stop-color="#f90000"/></linearGradient>
<linearGradient id="g221"><stop offset=".000" stop-color="#d3ff2c"/><stop offset=".235" stop-color="#d0ff2f"/><stop offset=".412" stop-color="#fff400"/><stop offset=".902" stop-color="#ff1400"/><stop offset="1.000" stop-color="#fa0000"/></linearGradient>
<linearGradient id="g222"><stop offset=".000" stop-color="#c5ff3a"/><stop offset=".216" stop-color="#beff41"/><stop offset=".431" stop-color="#fff700"/><stop offset=".902" stop-color="#ff1700"/><stop offset="1.000" stop-color="#fc0000"/></linearGradient>
<linearGradient id="g223"><stop offset=".000" stop-color="#b8ff47"/><stop offset=".196" stop-color="#acff53"/><stop offset=".451" stop-color="#fff700"/><stop offset=".922" stop-color="#ff1400"/><stop offset="1.000" stop-color="#fe0000"/></linearGradient>
<linearGradient id="g224"><stop offset=".000" stop-color="#adff52"/><stop offset=".176" stop-color="#9aff65"/><stop offset=".471" stop-color="#fff500"/><stop offset=".922" stop-color="#ff1500"/><stop offset="1.000" stop-color="#ff0000"/></linearGradient>
<linearGradient id="g225"><stop offset=".000" stop-color="#a4ff5b"/><stop offset=".157" stop-color="#88ff77"/><stop offset=".471" stop-color="#fff900"/><stop offset=".922" stop-color="#ff1600"/><stop offset="1.000" stop-color="#ff0100"/></linearGradient>
<linearGradient id="g226"><stop offset=".000" stop-color="#9fff60"/><stop offset=".137" stop-color="#76ff89"/><stop offset=".490" stop-color="#fff200"/><stop offset=".922" stop-color="#ff1700"/><stop offset="1.000" stop-color="#ff0200"/></linearGradient>
<linearGradient id="g227"><stop offset=".000" stop-color="#9fff60"/><stop offset=".137" stop-color="#74ff8b"/><stop offset=".490" stop-color="#fff200"/><stop offset=".922" stop-color="#ff1700"/><stop offset="1.000" stop-color="#ff0200"/></linearGradient>
<linearGradient id="g228"><stop offset=".000" stop-color="#a3ff5c"/><stop offset=".157" stop-color="#86ff79"/><stop offset=".471" stop-color="#fffa00"/><stop offset=".922" stop-color="#ff1600"/><stop offset="1.000" stop-color="#ff0100"/></linearGradient>
<linearGradient id="g229"><stop offset=".000" stop-color="#abff54"/><stop offset=".176" stop-color="#98ff67"/><stop offset=".471" stop-color="#fff500"/><stop offset=".922" stop-color="#ff1500"/><stop offset="1.000" stop-color="#ff0000"/></linearGradient>
<linearGradient id="g230"><stop offset=".000" stop-color="#b6ff49"/><stop offset=".196" stop-color="#aaff55"/><stop offset=".451" stop-color="#fff800"/><stop offset=".902" stop-color="#ff1900"/><stop offset="1.000" stop-color="#fe0000"/></linearGradient>
<linearGradient id="g231"><stop offset=".000" stop-color="#c3ff3c"/><stop offset=".216" stop-color="#bcff43"/><stop offset=".431" stop-color="#fff800"/><stop offset=".902" stop-color="#ff1700"/><stop offset="1.000" stop-color="#fc0000"/></linearGradient>
<linearGradient id="g232"><stop offset=".000" stop-color="#d1ff2e"/><stop offset=".235" stop-color="#ceff31"/><stop offset=".431" stop-color="#ffed00"/><stop offset=".902" stop-color="#ff1400"/><stop offset="1.000" stop-color="#fa0000"/></linearGradient>
<linearGradient id="g233"><stop offset=".000" stop-color="#e2ff1d"/><stop offset=".216" stop-color="#dcff23"/><stop offset=".392" stop-color="#fff000"/><stop offset=".902" stop-color="#ff1100"/><stop offset="1.000" stop-color="#f90000"/></linearGradient>
<linearGradient id="g234"><stop offset=".000" stop-color="#f5ff0a"/><stop offset=".235" stop-color="#f2ff0d"/><stop offset=".412" stop-color="#ffdb00"/><stop offset=".882" stop-color="#ff1300"/><stop offset="1.000" stop-color="#f80000"/></linearGradient>
<linearGradient id="g235"><stop offset=".000" stop-color="#fff600"/><stop offset=".275" stop-color="#fff200"/><stop offset=".647" stop-color="#ff6a00"/><stop offset=".882" stop-color="#ff0f00"/><stop offset="1.000" stop-color="#f60000"/></linearGradient>
<linearGradient id="g236"><stop offset=".000" stop-color="#ffe300"/><stop offset=".275" stop-color="#ffdf00"/><stop offset=".667" stop-color="#ff5600"/><stop offset=".922" stop-color="#ff0000"/><stop offset="1.000" stop-color="#f50000"/></linearGradient>
<linearGradient id="g237"><stop offset=".000" stop-color="#ffd000"/><stop offset=".275" stop-color="#ffcc00"/><stop offset=".667" stop-color="#ff4900"/><stop offset=".922" stop-color="#fb0000"/><stop offset="1.000" stop-color="#f30000"/></linearGradient>
<linearGradient id="g238"><stop offset=".000" stop-color="#ffbc00"/><stop offset=".294" stop-color="#ffb400"/><stop offset=".863" stop-color="#ff0400"/><stop offset="1.000" stop-color="#f10000"/></linearGradient>
<linearGradient id="g239"><stop offset=".000" stop-color="#ffa700"/><stop offset=".294" stop-color="#ffa000"/><stop offset=".863" stop-color="#fd0000"/><stop offset="1.000" stop-color="#ef0000"/></linearGradient>
<linearGradient id="g240"><stop offset=".000" stop-color="#ff9200"/><stop offset=".314" stop-color="#ff8800"/><stop offset=".843" stop-color="#fb0000"/><stop offset="1.000" stop-color="#ed0000"/></linearGradient>
<linearGradient id="g241"><stop offset=".000" stop-color="#ff7d00"/><stop offset=".314" stop-color="#ff7400"/><stop offset=".824" stop-color="#fa0000"/><stop offset="1.000" stop-color="#eb0000"/></linearGradient>
<linearGradient id="g242"><stop offset=".000" stop-color="#ff6800"/><stop offset=".333" stop-color="#ff5c00"/><stop offset=".804" stop-color="#f80000"/><stop offset="1.000" stop-color="#e90000"/></linearGradient>
<linearGradient id="g243"><stop offset=".000" stop-color="#ff5300"/><stop offset=".353" stop-color="#ff4400"/><stop offset=".804" stop-color="#f60000"/><stop offset="1.000" stop-color="#e60000"/></linearGradient>
<clipPath id="c244"><circle cx="331" cy="129.6" r="25.2"/></clipPath>
<linearGradient id="g245"><stop offset=".000" stop-color="#b7ff48"/><stop offset=".196" stop-color="#b0ff4f"/><stop offset=".431" stop-color="#fff200"/><stop offset=".784" stop-color="#ff1e00"/><stop offset=".902" stop-color="#ec0000"/><stop offset="1.000" stop-color="#d80000"/></linearGradient>
<linearGradient id="g246"><stop offset=".000" stop-color="#99ff66"/><stop offset=".196" stop-color="#91ff6e"/><stop offset=".471" stop-color="#fff200"/><stop offset=".804" stop-color="#ff1e00"/><stop offset=".922" stop-color="#eb0000"/><stop offset="1.000" stop-color="#db0000"/></linearGradient>
<linearGradient id="g247"><stop offset=".000" stop-color="#7cff83"/><stop offset=".196" stop-color="#74ff8b"/><stop offset=".412" stop-color="#d3ff2c"/><stop offset=".510" stop-color="#ffed00"/><stop offset=".804" stop-color="#ff2500"/><stop offset=".922" stop-color="#f10000"/><stop offset="1.000" stop-color="#dd0000"/></linearGradient>
<linearGradient id="g248"><stop offset=".000" stop-color="#64ff9b"/><stop offset=".176" stop-color="#58ffa7"/><stop offset=".373" stop-color="#a5ff5a"/><stop offset=".529" stop-color="#fff000"/><stop offset=".824" stop-color="#ff2300"/><stop offset=".941" stop-color="#ed0000"/><stop offset="1.000" stop-color="#df0000"/></linearGradient>
<linearGradient id="g249"><stop offset=".000" stop-color="#4dffb2"/><stop offset=".176" stop-color="#3fffc0"/><stop offset=".392" stop-color="#9eff61"/><stop offset=".549" stop-color="#fff000"/><stop offset=".824" stop-color="#ff2800"/><stop offset=".961" stop-color="#e90000"/><stop offset="1.000" stop-color="#e00000"/></linearGradient>
<linearGradient id="g250"><stop offset=".000" stop-color="#38ffc7"/><stop offset=".196" stop-color="#2dffd2"/><stop offset=".431" stop-color="#a9ff56"/><stop offset=".549" stop-color="#fffc00"/><stop offset=".843" stop-color="#ff2400"/><stop offset=".961" stop-color="#ed0000"/><stop offset="1.000" stop-color="#e10000"/></linearGradient>
<linearGradient id="g251"><stop offset=".000" stop-color="#2bffd4"/><stop offset=".235" stop-color="#2bffd4"/><stop offset=".471" stop-color="#bbff44"/><stop offset=".569" stop-color="#fff600"/><stop offset=".843" stop-color="#ff2700"/><stop offset=".961" stop-color="#f00000"/><stop offset="1.000" stop-color="#e30000"/></linearGradient>
<linearGradient id="g252"><stop offset=".000" stop-color="#25ffda"/><stop offset=".196" stop-color="#1effe1"/><stop offset=".314" stop-color="#46ffb9"/><stop offset=".569" stop-color="#fffc00"/><stop offset=".843" stop-color="#ff2900"/><stop offset=".961" stop-color="#f20000"/><stop offset="1.000" stop-color="#e30000"/></linearGradient>
<linearGradient id="g253"><stop offset=".000" stop-color="#21ffde"/><stop offset=".157" stop-color="#11ffee"/><stop offset=".314" stop-color="#3fffc0"/><stop offset=".569" stop-color="#feff01"/><stop offset=".843" stop-color="#ff2b00"/><stop offset=".980" stop-color="#ea0000"/><stop offset="1.000" stop-color="#e40000"/></linearGradient>
<linearGradient id="g254"><stop offset=".000" stop-color="#20ffdf"/><stop offset=".157" stop-color="#0ffff0"/><stop offset=".333" stop-color="#4affb5"/><stop offset=".569" stop-color="#fdff02"/><stop offset=".843" stop-color="#ff2b00"/><stop offset=".980" stop-color="#ea0000"/><stop offset="1.000" stop-color="#e40000"/></linearGradient>
<linearGradient id="g255"><stop offset=".000" stop-color="#22ffdd"/><stop offset=".176" stop-color="#17ffe8"/><stop offset=".314" stop-color="#41ffbe"/><stop offset=".569" stop-color="#ffff00"/><stop offset=".843" stop-color="#ff2a00"/><stop offset=".980" stop-color="#e90000"/><stop offset="1.000" stop-color="#e40000"/></linearGradient>
<linearGradient id="g256"><stop offset=".000" stop-color="#27ffd8"/><stop offset=".216" stop-color="#24ffdb"/><stop offset=".353" stop-color="#61ff9e"/><stop offset=".569" stop-color="#fffa00"/><stop offset=".843" stop-color="#ff2900"/><stop offset=".961" stop-color="#f10000"/><stop offset="1.000" stop-color="#e30000"/></linearGradient>
<linearGradient id="g257"><stop offset=".000" stop-color="#2dffd2"/><stop offset=".235" stop-color="#2effd1"/><stop offset=".471" stop-color="#bfff40"/><stop offset=".569" stop-color="#fff300"/><stop offset=".843" stop-color="#ff2600"/><stop offset=".961" stop-color="#ef0000"/><stop offset="1.000" stop-color="#e20000"/></linearGradient>
<linearGradient id="g258"><stop offset=".000" stop-color="#3fffc0"/><stop offset=".176" stop-color="#2fffd0"/><stop offset=".412" stop-color="#a0ff5f"/><stop offset=".549" stop-color="#fff800"/><stop offset=".843" stop-color="#ff2200"/><stop offset=".961" stop-color="#ec0000"/><stop offset="1.000" stop-color="#e10000"/></linearGradient>
<linearGradient id="g259"><stop offset=".000" stop-color="#55ffaa"/><stop offset=".176" stop-color="#48ffb7"/><stop offset=".392" stop-color="#a4ff5b"/><stop offset=".529" stop-color="#fffa00"/><stop offset=".824" stop-color="#ff2700"/><stop offset=".941" stop-color="#f10000"/><stop offset="1.000" stop-color="#e00000"/></linearGradient>
<linearGradient id="g260"><stop offset=".000" stop-color="#6cff93"/><stop offset=".196" stop-color="#64ff9b"/><stop offset=".392" stop-color="#b9ff46"/><stop offset=".510" stop-color="#fff800"/><stop offset=".824" stop-color="#ff2100"/><stop offset=".941" stop-color="#ec0000"/><stop offset="1.000" stop-color="#de0000"/></linearGradient>
<linearGradient id="g261"><stop offset=".000" stop-color="#85ff7a"/><stop offset=".196" stop-color="#7dff82"/><stop offset=".431" stop-color="#e6ff19"/><stop offset=".510" stop-color="#ffe600"/><stop offset=".804" stop-color="#ff2300"/><stop offset=".922" stop-color="#ef0000"/><stop offset="1.000" stop-color="#dc0000"/></linearGradient>
<linearGradient id="g262"><stop offset=".000" stop-color="#a4ff5b"/><stop offset=".196" stop-color="#9cff63"/><stop offset=".451" stop-color="#fff600"/><stop offset=".784" stop-color="#ff2400"/><stop offset=".902" stop-color="#f10000"/><stop offset="1.000" stop-color="#da0000"/></linearGradient>
<linearGradient id="g263"><stop offset=".000" stop-color="#c2ff3d"/><stop offset=".216" stop-color="#bfff40"/><stop offset=".412" stop-color="#fff400"/><stop offset=".784" stop-color="#ff1b00"/><stop offset=".922" stop-color="#e40000"/><stop offset="1.000" stop-color="#d70000"/></linearGradient>
<linearGradient id="g264"><stop offset=".000" stop-color="#e1ff1e"/><stop offset=".216" stop-color="#deff21"/><stop offset=".373" stop-color="#ffec00"/><stop offset=".765" stop-color="#ff1a00"/><stop offset=".902" stop-color="#e40000"/><stop offset="1.000" stop-color="#d40000"/></linearGradient>
<linearGradient id="g265"><stop offset=".000" stop-color="#fffd00"/><stop offset=".275" stop-color="#fff300"/><stop offset=".588" stop-color="#ff6200"/><stop offset=".804" stop-color="#ff0000"/><stop offset="1.000" stop-color="#d10000"/></linearGradient>
<linearGradient id="g266"><stop offset=".000" stop-color="#ffde00"/><stop offset=".235" stop-color="#ffdd00"/><stop offset=".529" stop-color="#ff6c00"/><stop offset=".784" stop-color="#fd0000"/><stop offset="1.000" stop-color="#ce0000"/></linearGradient>
<linearGradient id="g267"><stop offset=".000" stop-color="#ffbe00"/><stop offset=".255" stop-color="#ffba00"/><stop offset=".569" stop-color="#ff3e00"/><stop offset=".784" stop-color="#f10000"/><stop offset="1.000" stop-color="#cb0000"/></linearGradient>
<linearGradient id="g268"><stop offset=".000" stop-color="#ff9f00"/><stop offset=".255" stop-color="#ff9a00"/><stop offset=".745" stop-color="#f40000"/><stop offset="1.000" stop-color="#c70000"/></linearGradient>
<linearGradient id="g269"><stop offset=".000" stop-color="#ff7f00"/><stop offset=".275" stop-color="#ff7700"/><stop offset=".706" stop-color="#f40000"/><stop offset="1.000" stop-color="#c70000"/></linearGradient>
<linearGradient id="g270"><stop offset=".000" stop-color="#ff5f00"/><stop offset=".275" stop-color="#ff5800"/><stop offset=".667" stop-color="#f30000"/><stop offset="1.000" stop-color="#c70000"/></linearGradient>
<clipPath id="c271"><circle cx="423.8" cy="129.6" r="25.2"/></clipPath>
<linearGradient id="g272"><stop offset=".000" stop-color="#0000dc"/><stop offset=".333" stop-color="#0007ff"/><stop offset=".647" stop-color="#0000e7"/><stop offset="1.000" stop-color="#000099"/></linearGradient>
<linearGradient id="g273"><stop offset=".000" stop-color="#0000ec"/><stop offset=".275" stop-color="#0018ff"/><stop offset=".667" stop-color="#0000f3"/><stop offset="1.000" stop-color="#0000a1"/></linearGradient>
<linearGradient id="g274"><stop offset=".000" stop-color="#0000fa"/><stop offset=".392" stop-color="#002eff"/><stop offset=".745" stop-color="#0000ef"/><stop offset="1.000" stop-color="#0000a8"/></linearGradient>
<linearGradient id="g275"><stop offset=".000" stop-color="#0009ff"/><stop offset=".353" stop-color="#0042ff"/><stop offset=".706" stop-color="#0007ff"/><stop offset="1.000" stop-color="#0000ae"/></linearGradient>
<linearGradient id="g276"><stop offset=".000" stop-color="#0015ff"/><stop offset=".294" stop-color="#004cff"/><stop offset=".608" stop-color="#002eff"/><stop offset=".824" stop-color="#0000ee"/><stop offset="1.000" stop-color="#0000b4"/></linearGradient>
<linearGradient id="g277"><stop offset=".000" stop-color="#001fff"/><stop offset=".294" stop-color="#0057ff"/><stop offset=".627" stop-color="#0035ff"/><stop offset=".843" stop-color="#0000f0"/><stop offset="1.000" stop-color="#0000bb"/></linearGradient>
<linearGradient id="g278"><stop offset=".000" stop-color="#0028ff"/><stop offset=".333" stop-color="#0064ff"/><stop offset=".667" stop-color="#0033ff"/><stop offset=".863" stop-color="#0000ef"/><stop offset="1.000" stop-color="#0000bf"/></linearGradient>
<linearGradient id="g279"><stop offset=".000" stop-color="#002dff"/><stop offset=".373" stop-color="#006fff"/><stop offset=".725" stop-color="#0024ff"/><stop offset=".882" stop-color="#0000ec"/><stop offset="1.000" stop-color="#0000c3"/></linearGradient>
<linearGradient id="g280"><stop offset=".000" stop-color="#0030ff"/><stop offset=".373" stop-color="#0079ff"/><stop offset=".745" stop-color="#0020ff"/><stop offset=".902" stop-color="#0000e7"/><stop offset="1.000" stop-color="#0000c4"/></linearGradient>
<linearGradient id="g281"><stop offset=".000" stop-color="#0030ff"/><stop offset=".373" stop-color="#0078ff"/><stop offset=".745" stop-color="#0020ff"/><stop offset=".902" stop-color="#0000e7"/><stop offset="1.000" stop-color="#0000c4"/></linearGradient>
<linearGradient id="g282"><stop offset=".000" stop-color="#002dff"/><stop offset=".353" stop-color="#006eff"/><stop offset=".706" stop-color="#002bff"/><stop offset=".882" stop-color="#0000ec"/><stop offset="1.000" stop-color="#0000c2"/></linearGradient>
<linearGradient id="g283"><stop offset=".000" stop-color="#0027ff"/><stop offset=".333" stop-color="#0063ff"/><stop offset=".667" stop-color="#0032ff"/><stop offset=".863" stop-color="#0000ef"/><stop offset="1.000" stop-color="#0000bf"/></linearGradient>
<linearGradient id="g284"><stop offset=".000" stop-color="#001eff"/><stop offset=".294" stop-color="#0056ff"/><stop offset=".627" stop-color="#0034ff"/><stop offset=".843" stop-color="#0000ef"/><stop offset="1.000" stop-color="#0000ba"/></linearGradient>
<linearGradient id="g285"><stop offset=".000" stop-color="#0014ff"/><stop offset=".294" stop-color="#004bff"/><stop offset=".608" stop-color="#002dff"/><stop offset=".804" stop-color="#0000f3"/><stop offset="1.000" stop-color="#0000b4"/></linearGradient>
<linearGradient id="g286"><stop offset=".000" stop-color="#0007ff"/><stop offset=".353" stop-color="#0040ff"/><stop offset=".706" stop-color="#0006ff"/><stop offset="1.000" stop-color="#0000ae"/></linearGradient>
<linearGradient id="g287"><stop offset=".000" stop-color="#0000f9"/><stop offset=".392" stop-color="#002cff"/><stop offset=".725" stop-color="#0000f2"/><stop offset="1.000" stop-color="#0000a7"/></linearGradient>
<linearGradient id="g288"><stop offset=".000" stop-color="#0000ea"/><stop offset=".255" stop-color="#0015ff"/><stop offset=".667" stop-color="#0000f2"/><stop offset="1.000" stop-color="#0000a0"/></linearGradient>
<linearGradient id="g289"><stop offset=".000" stop-color="#0000db"/><stop offset=".353" stop-color="#0005ff"/><stop offset=".706" stop-color="#0000da"/><stop offset="1.000" stop-color="#000098"/></linearGradient>
<linearGradient id="g290"><stop offset=".000" stop-color="#0000cb"/><stop offset=".412" stop-color="#0000ef"/><stop offset="1.000" stop-color="#000090"/></linearGradient>
<linearGradient id="g291"><stop offset=".000" stop-color="#0000ba"/><stop offset=".412" stop-color="#0000dc"/><stop offset="1.000" stop-color="#000087"/></linearGradient>
<linearGradient id="g292"><stop offset=".000" stop-color="#0000ac"/><stop offset=".451" stop-color="#0000c6"/><stop offset="1.000" stop-color="#000080"/></linearGradient>
<linearGradient id="g293"><stop offset=".000" stop-color="#00009f"/><stop offset=".529" stop-color="#0000af"/><stop offset="1.000" stop-color="#000080"/></linearGradient>
<linearGradient id="g294"><stop offset=".000" stop-color="#000093"/><stop offset=".549" stop-color="#0000a0"/><stop offset="1.000" stop-color="#000080"/></linearGradient>
<linearGradient id="g295"><stop offset=".000" stop-color="#000086"/><stop offset=".569" stop-color="#000091"/><stop offset="1.000" stop-color="#000080"/></linearGradient>
<linearGradient id="g296"><stop offset=".000" stop-color="#000080"/><stop offset="1.000" stop-color="#000080"/></linearGradient>
<linearGradient id="g297"><stop offset=".000" stop-color="#000080"/><stop offset="1.000" stop-color="#000080"/></linearGradient>
<clipPath id="c298"><circle cx="516.6" cy="129.6" r="25.2"/></clipPath>
<linearGradient id="g299"><stop offset=".000" stop-color="#25ffda"/><stop offset=".314" stop-color="#1dffe2"/><stop offset=".588" stop-color="#00ecff"/><stop offset="1.000" stop-color="#009cff"/></linearGradient>
<linearGradient id="g300"><stop offset=".000" stop-color="#33ffcc"/><stop offset=".294" stop-color="#2dffd2"/><stop offset=".569" stop-color="#00f4ff"/><stop offset="1.000" stop-color="#009eff"/></linearGradient>
<linearGradient id="g301"><stop offset=".000" stop-color="#3fffc0"/><stop offset=".275" stop-color="#3dffc2"/><stop offset=".588" stop-color="#00f5ff"/><stop offset="1.000" stop-color="#00a0ff"/></linearGradient>
<linearGradient id="g302"><stop offset=".000" stop-color="#4cffb3"/><stop offset=".294" stop-color="#45ffba"/><stop offset=".588" stop-color="#00f9ff"/><stop offset="1.000" stop-color="#00a1ff"/></linearGradient>
<linearGradient id="g303"><stop offset=".000" stop-color="#53ffac"/><stop offset=".314" stop-color="#4bffb4"/><stop offset=".608" stop-color="#00f8ff"/><stop offset="1.000" stop-color="#00a3ff"/></linearGradient>
<linearGradient id="g304"><stop offset=".000" stop-color="#59ffa6"/><stop offset=".275" stop-color="#57ffa8"/><stop offset=".627" stop-color="#00f7ff"/><stop offset="1.000" stop-color="#00a4ff"/></linearGradient>
<linearGradient id="g305"><stop offset=".000" stop-color="#5effa1"/><stop offset=".235" stop-color="#62ff9d"/><stop offset=".627" stop-color="#00f9ff"/><stop offset="1.000" stop-color="#00a4ff"/></linearGradient>
<linearGradient id="g306"><stop offset=".000" stop-color="#63ff9c"/><stop offset=".216" stop-color="#6aff95"/><stop offset=".529" stop-color="#16ffe9"/><stop offset=".706" stop-color="#00eaff"/><stop offset="1.000" stop-color="#00a5ff"/></linearGradient>
<linearGradient id="g307"><stop offset=".000" stop-color="#65ff9a"/><stop offset=".176" stop-color="#75ff8a"/><stop offset=".510" stop-color="#1effe1"/><stop offset=".667" stop-color="#00f2ff"/><stop offset="1.000" stop-color="#00a5ff"/></linearGradient>
<linearGradient id="g308"><stop offset=".000" stop-color="#65ff9a"/><stop offset=".176" stop-color="#75ff8a"/><stop offset=".510" stop-color="#1effe1"/><stop offset=".667" stop-color="#00f2ff"/><stop offset="1.000" stop-color="#00a5ff"/></linearGradient>
<linearGradient id="g309"><stop offset=".000" stop-color="#62ff9d"/><stop offset=".216" stop-color="#6aff95"/><stop offset=".529" stop-color="#15ffea"/><stop offset=".706" stop-color="#00eaff"/><stop offset="1.000" stop-color="#00a5ff"/></linearGradient>
<linearGradient id="g310"><stop offset=".000" stop-color="#5effa1"/><stop offset=".255" stop-color="#5fffa0"/><stop offset=".627" stop-color="#00f8ff"/><stop offset="1.000" stop-color="#00a4ff"/></linearGradient>
<linearGradient id="g311"><stop offset=".000" stop-color="#58ffa7"/><stop offset=".294" stop-color="#53ffac"/><stop offset=".627" stop-color="#00f6ff"/><stop offset="1.000" stop-color="#00a4ff"/></linearGradient>
<linearGradient id="g312"><stop offset=".000" stop-color="#52ffad"/><stop offset=".314" stop-color="#4affb5"/><stop offset=".608" stop-color="#00f8ff"/><stop offset="1.000" stop-color="#00a2ff"/></linearGradient>
<linearGradient id="g313"><stop offset=".000" stop-color="#4affb5"/><stop offset=".294" stop-color="#44ffbb"/><stop offset=".588" stop-color="#00f8ff"/><stop offset="1.000" stop-color="#00a1ff"/></linearGradient>
<linearGradient id="g314"><stop offset=".000" stop-color="#3effc1"/><stop offset=".275" stop-color="#3cffc3"/><stop offset=".588" stop-color="#00f4ff"/><stop offset="1.000" stop-color="#009fff"/></linearGradient>
<linearGradient id="g315"><stop offset=".000" stop-color="#31ffce"/><stop offset=".294" stop-color="#2cffd3"/><stop offset=".569" stop-color="#00f4ff"/><stop offset="1.000" stop-color="#009eff"/></linearGradient>
<linearGradient id="g316"><stop offset=".000" stop-color="#24ffdb"/><stop offset=".314" stop-color="#1cffe3"/><stop offset=".588" stop-color="#00ecff"/><stop offset="1.000" stop-color="#009bff"/></linearGradient>
<linearGradient id="g317"><stop offset=".000" stop-color="#17ffe8"/><stop offset=".333" stop-color="#0cfff3"/><stop offset=".804" stop-color="#00bcff"/><stop offset="1.000" stop-color="#0099ff"/></linearGradient>
<linearGradient id="g318"><stop offset=".000" stop-color="#09fff6"/><stop offset=".490" stop-color="#00efff"/><stop offset="1.000" stop-color="#0097ff"/></linearGradient>
<linearGradient id="g319"><stop offset=".000" stop-color="#00ffff"/><stop offset=".510" stop-color="#00e6ff"/><stop offset="1.000" stop-color="#0094ff"/></linearGradient>
<linearGradient id="g320"><stop offset=".000" stop-color="#00f7ff"/><stop offset=".529" stop-color="#00deff"/><stop offset="1.000" stop-color="#0091ff"/></linearGradient>
<linearGradient id="g321"><stop offset=".000" stop-color="#00efff"/><stop offset=".529" stop-color="#00d6ff"/><stop offset="1.000" stop-color="#008eff"/></linearGradient>
<linearGradient id="g322"><stop offset=".000" stop-color="#00e7ff"/><stop offset=".529" stop-color="#00ceff"/><stop offset="1.000" stop-color="#008bff"/></linearGradient>
<linearGradient id="g323"><stop offset=".000" stop-color="#00dfff"/><stop offset=".529" stop-color="#00c6ff"/><stop offset="1.000" stop-color="#008aff"/></linearGradient>
<linearGradient id="g324"><stop offset=".000" stop-color="#00d6ff"/><stop offset=".529" stop-color="#00bdff"/><stop offset="1.000" stop-color="#008aff"/></linearGradient>
<linearGradient id="g325" x1="0" y1="0" x2="0" y2="1"><stop offset="0" stop-color="#800000"/><stop offset="0.06" stop-color="#bf0000"/><stop offset="0.12" stop-color="#ff0000"/><stop offset="0.19" stop-color="#ff4000"/><stop offset="0.25" stop-color="#ff8000"/><stop offset="0.31" stop-color="#ffbf00"/><stop offset="0.38" stop-color="#ffff00"/><stop offset="0.44" stop-color="#bfff40"/><stop offset="0.5" stop-color="#80ff80"/><stop offset="0.56" stop-color="#40ffbf"/><stop offset="0.62" stop-color="#00ffff"/><stop offset="0.69" stop-color="#00bfff"/><stop offset="0.75" stop-color="#0080ff"/><stop offset="0.81" stop-color="#0040ff"/><stop offset="0.88" stop-color="#0000ff"/><stop offset="0.94" stop-color="#0000bf"/><stop offset="1" stop-color="#000080"/></linearGradient>
<linearGradient id="g326" x1="0" y1="0" x2="0" y2="1"><stop offset="0" stop-color="#800000"/><stop offset="0.06" stop-color="#bf0000"/><stop offset="0.12" stop-color="#ff0000"/><stop offset="0.19" stop-color="#ff4000"/><stop offset="0.25" stop-color="#ff8000"/><stop offset="0.31" stop-color="#ffbf00"/><stop offset="0.38" stop-color="#ffff00"/><stop offset="0.44" stop-color="#bfff40"/><stop offset="0.5" stop-color="#80ff80"/><stop offset="0.56" stop-color="#40ffbf"/><stop offset="0.62" stop-color="#00ffff"/><stop offset="0.69" stop-color="#00bfff"/><stop offset="0.75" stop-color="#0080ff"/><stop offset="0.81" stop-color="#0040ff"/><stop offset="0.88" stop-color="#0000ff"/><stop offset="0.94" stop-color="#0000bf"/><stop offset="1" stop-color="#000080"/></linearGradient>
<linearGradient id="g327"><stop offset=".000" stop-color="#b1ff4e"/><stop offset=".100" stop-color="#c7ff38"/><stop offset=".175" stop-color="#ebff14"/><stop offset=".266" stop-color="#d1ff2e"/><stop offset=".328" stop-color="#fff000"/><stop offset=".384" stop-color="#ffd200"/><stop offset=".480" stop-color="#ebff14"/><stop offset=".594" stop-color="#9fff60"/><stop offset=".655" stop-color="#9dff62"/><stop offset=".721" stop-color="#fff400"/><stop offset=".782" stop-color="#ffe600"/><stop offset=".847" stop-color="#eaff15"/><stop offset=".926" stop-color="#baff45"/><stop offset="1.000" stop-color="#b5ff4a"/></linearGradient>
<linearGradient id="g328"><stop offset=".000" stop-color="#61ff9e"/><stop offset=".083" stop-color="#79ff86"/><stop offset=".192" stop-color="#6eff91"/><stop offset=".262" stop-color="#53ffac"/><stop offset=".345" stop-color="#c1ff3e"/><stop offset=".397" stop-color="#ebff14"/><stop offset=".541" stop-color="#91ff6e"/><stop offset=".616" stop-color="#36ffc9"/><stop offset=".655" stop-color="#69ff96"/><stop offset=".703" stop-color="#fff700"/><stop offset=".738" stop-color="#ffbe00"/><stop offset=".795" stop-color="#f1ff0e"/><stop offset=".869" stop-color="#a1ff5e"/><stop offset=".943" stop-color="#afff50"/><stop offset="1.000" stop-color="#cfff30"/></linearGradient>
<linearGradient id="g329"><stop offset=".000" stop-color="#78ff87"/><stop offset=".066" stop-color="#88ff77"/><stop offset=".153" stop-color="#1affe5"/><stop offset=".275" stop-color="#54ffab"/><stop offset=".349" stop-color="#83ff7c"/><stop offset=".445" stop-color="#caff35"/><stop offset=".541" stop-color="#d0ff2f"/><stop offset=".620" stop-color="#86ff79"/><stop offset=".659" stop-color="#c1ff3e"/><stop offset=".681" stop-color="#fff400"/><stop offset=".725" stop-color="#ff6800"/><stop offset=".751" stop-color="#ff7000"/><stop offset=".795" stop-color="#fbff04"/><stop offset=".830" stop-color="#b3ff4c"/><stop offset="1.000" stop-color="#f4ff0b"/></linearGradient>
<linearGradient id="g330"><stop offset=".000" stop-color="#b0ff4f"/><stop offset=".070" stop-color="#8bff74"/><stop offset=".144" stop-color="#1cffe3"/><stop offset=".192" stop-color="#41ffbe"/><stop offset=".245" stop-color="#78ff87"/><stop offset=".341" stop-color="#33ffcc"/><stop offset=".410" stop-color="#77ff88"/><stop offset=".511" stop-color="#ffff00"/><stop offset=".594" stop-color="#e3ff1c"/><stop offset=".655" stop-color="#e1ff1e"/><stop offset=".686" stop-color="#ffe800"/><stop offset=".729" stop-color="#ff9000"/><stop offset=".760" stop-color="#ffb700"/><stop offset=".786" stop-color="#ebff14"/><stop offset=".821" stop-color="#9bff64"/><stop offset=".865" stop-color="#c3ff3c"/><stop offset=".913" stop-color="#efff10"/><stop offset="1.000" stop-color="#aeff51"/></linearGradient>
<linearGradient id="g331"><stop offset=".000" stop-color="#a5ff5a"/><stop offset=".087" stop-color="#49ffb6"/><stop offset=".157" stop-color="#00fdff"/><stop offset=".214" stop-color="#32ffcd"/><stop offset=".271" stop-color="#62ff9d"/><stop offset=".376" stop-color="#00fdff"/><stop offset=".432" stop-color="#34ffcb"/><stop offset=".520" stop-color="#b7ff48"/><stop offset=".598" stop-color="#afff50"/><stop offset=".686" stop-color="#9cff63"/><stop offset=".782" stop-color="#d0ff2f"/><stop offset="1.000" stop-color="#7dff82"/></linearGradient>
<linearGradient id="g332"><stop offset=".000" stop-color="#85ff7a"/><stop offset=".061" stop-color="#6bff94"/><stop offset=".148" stop-color="#23ffdc"/><stop offset=".240" stop-color="#47ffb8"/><stop offset=".306" stop-color="#62ff9d"/><stop offset=".397" stop-color="#2dffd2"/><stop offset=".550" stop-color="#58ffa7"/><stop offset=".686" stop-color="#42ffbd"/><stop offset=".742" stop-color="#3cffc3"/><stop offset=".812" stop-color="#89ff76"/><stop offset=".908" stop-color="#51ffae"/><stop offset=".991" stop-color="#43ffbc"/><stop offset="1.000" stop-color="#3bffc4"/></linearGradient>
<linearGradient id="g333"><stop offset=".000" stop-color="#75ff8a"/><stop offset=".179" stop-color="#45ffba"/><stop offset=".293" stop-color="#52ffad"/><stop offset=".367" stop-color="#4affb5"/><stop offset=".454" stop-color="#76ff89"/><stop offset=".572" stop-color="#26ffd9"/><stop offset=".755" stop-color="#49ffb6"/><stop offset=".825" stop-color="#82ff7d"/><stop offset=".921" stop-color="#41ffbe"/><stop offset="1.000" stop-color="#4affb5"/></linearGradient>
<linearGradient id="g334"><stop offset=".000" stop-color="#7aff85"/><stop offset=".083" stop-color="#2fffd0"/><stop offset=".231" stop-color="#44ffbb"/><stop offset=".341" stop-color="#21ffde"/><stop offset=".441" stop-color="#4cffb3"/><stop offset=".546" stop-color="#16ffe9"/><stop offset=".786" stop-color="#68ff97"/><stop offset=".856" stop-color="#74ff8b"/><stop offset=".948" stop-color="#36ffc9"/><stop offset="1.000" stop-color="#4fffb0"/></linearGradient>
<linearGradient id="g335"><stop offset=".000" stop-color="#bdff42"/><stop offset=".127" stop-color="#5bffa4"/><stop offset=".231" stop-color="#9dff62"/><stop offset=".328" stop-color="#64ff9b"/><stop offset=".419" stop-color="#a0ff5f"/><stop offset=".515" stop-color="#46ffb9"/><stop offset=".633" stop-color="#26ffd9"/><stop offset=".734" stop-color="#65ff9a"/><stop offset=".808" stop-color="#92ff6d"/><stop offset=".865" stop-color="#b4ff4b"/><stop offset=".952" stop-color="#6cff93"/><stop offset="1.000" stop-color="#a3ff5c"/></linearGradient>
<linearGradient id="g336"><stop offset=".000" stop-color="#fbff04"/><stop offset=".293" stop-color="#b2ff4d"/><stop offset=".397" stop-color="#f8ff07"/><stop offset=".572" stop-color="#7eff81"/><stop offset=".638" stop-color="#3bffc4"/><stop offset=".751" stop-color="#8eff71"/><stop offset=".825" stop-color="#8fff70"/><stop offset=".900" stop-color="#bdff42"/><stop offset=".969" stop-color="#c1ff3e"/><stop offset="1.000" stop-color="#e9ff16"/></linearGradient>
<linearGradient id="g337"><stop offset=".000" stop-color="#d7ff28"/><stop offset=".070" stop-color="#ffe900"/><stop offset=".131" stop-color="#ffdf00"/><stop offset=".183" stop-color="#e8ff17"/><stop offset=".319" stop-color="#e5ff1a"/><stop offset=".358" stop-color="#ffe500"/><stop offset=".397" stop-color="#ffd800"/><stop offset=".428" stop-color="#f2ff0d"/><stop offset=".485" stop-color="#9dff62"/><stop offset=".581" stop-color="#91ff6e"/><stop offset=".803" stop-color="#4bffb4"/><stop offset=".900" stop-color="#c5ff3a"/><stop offset="1.000" stop-color="#d2ff2d"/></linearGradient>
<linearGradient id="g338"><stop offset=".000" stop-color="#c4ff3b"/><stop offset=".118" stop-color="#d1ff2e"/><stop offset=".197" stop-color="#8aff75"/><stop offset=".306" stop-color="#fbff04"/><stop offset=".349" stop-color="#ffd100"/><stop offset=".384" stop-color="#ff9e00"/><stop offset=".415" stop-color="#ffe000"/><stop offset=".428" stop-color="#f1ff0e"/><stop offset=".467" stop-color="#96ff69"/><stop offset=".511" stop-color="#a6ff59"/><stop offset=".576" stop-color="#fffb00"/><stop offset=".638" stop-color="#f0ff0f"/><stop offset=".721" stop-color="#8aff75"/><stop offset=".795" stop-color="#b5ff4a"/><stop offset=".882" stop-color="#ddff22"/><stop offset="1.000" stop-color="#fdff02"/></linearGradient>
<linearGradient id="g339"><stop offset=".000" stop-color="#cbff34"/><stop offset=".074" stop-color="#8dff72"/><stop offset=".148" stop-color="#13ffec"/><stop offset=".188" stop-color="#39ffc6"/><stop offset=".258" stop-color="#bfff40"/><stop offset=".332" stop-color="#deff21"/><stop offset=".349" stop-color="#fff400"/><stop offset=".380" stop-color="#ffa700"/><stop offset=".402" stop-color="#ffc300"/><stop offset=".419" stop-color="#f2ff0d"/><stop offset=".459" stop-color="#51ffae"/><stop offset=".489" stop-color="#29ffd6"/><stop offset=".533" stop-color="#79ff86"/><stop offset=".585" stop-color="#e0ff1f"/><stop offset=".659" stop-color="#e2ff1d"/><stop offset=".747" stop-color="#c7ff38"/><stop offset=".786" stop-color="#fff000"/><stop offset=".821" stop-color="#ffb800"/><stop offset=".878" stop-color="#efff10"/><stop offset=".921" stop-color="#d1ff2e"/><stop offset=".961" stop-color="#ffed00"/><stop offset="1.000" stop-color="#ffec00"/></linearGradient>
<linearGradient id="g340"><stop offset=".000" stop-color="#e2ff1d"/><stop offset=".035" stop-color="#c8ff37"/><stop offset=".096" stop-color="#00f9ff"/><stop offset=".140" stop-color="#0078ff"/><stop offset=".166" stop-color="#008dff"/><stop offset=".192" stop-color="#00fcff"/><stop offset=".231" stop-color="#9eff61"/><stop offset=".271" stop-color="#c3ff3c"/><stop offset=".341" stop-color="#aaff55"/><stop offset=".393" stop-color="#d6ff29"/><stop offset=".432" stop-color="#7bff84"/><stop offset=".476" stop-color="#0afff5"/><stop offset=".511" stop-color="#19ffe6"/><stop offset=".581" stop-color="#93ff6c"/><stop offset=".707" stop-color="#fff700"/><stop offset=".764" stop-color="#fff800"/><stop offset=".817" stop-color="#ff4800"/><stop offset=".838" stop-color="#ff4f00"/><stop offset=".886" stop-color="#f0ff0f"/><stop offset=".917" stop-color="#91ff6e"/><stop offset=".939" stop-color="#aaff55"/><stop offset=".969" stop-color="#fffd00"/><stop offset="1.000" stop-color="#fff700"/></linearGradient>
<linearGradient id="g341"><stop offset=".000" stop-color="#c3ff3c"/><stop offset=".026" stop-color="#fffd00"/><stop offset=".048" stop-color="#dbff24"/><stop offset=".096" stop-color="#05fffa"/><stop offset=".144" stop-color="#0030ff"/><stop offset=".166" stop-color="#002dff"/><stop offset=".192" stop-color="#00a3ff"/><stop offset=".205" stop-color="#00faff"/><stop offset=".245" stop-color="#deff21"/><stop offset=".258" stop-color="#fff100"/><stop offset=".288" stop-color="#ffcb00"/><stop offset=".323" stop-color="#f5ff0a"/><stop offset=".428" stop-color="#00f3ff"/><stop offset=".467" stop-color="#008cff"/><stop offset=".498" stop-color="#009fff"/><stop offset=".537" stop-color="#0dfff2"/><stop offset=".585" stop-color="#48ffb7"/><stop offset=".646" stop-color="#94ff6b"/><stop offset=".681" stop-color="#fff400"/><stop offset=".707" stop-color="#ffa400"/><stop offset=".755" stop-color="#ffc400"/><stop offset=".782" stop-color="#ff6b00"/><stop offset=".803" stop-color="#f80000"/><stop offset=".821" stop-color="#c90000"/><stop offset=".838" stop-color="#ea0000"/><stop offset=".847" stop-color="#ff1800"/><stop offset=".878" stop-color="#fffb00"/><stop offset=".908" stop-color="#16ffe9"/><stop offset=".917" stop-color="#00edff"/><stop offset=".934" stop-color="#00eeff"/><stop offset=".948" stop-color="#26ffd9"/><stop offset=".978" stop-color="#a4ff5b"/><stop offset="1.000" stop-color="#beff41"/></linearGradient>
<linearGradient id="g342"><stop offset=".000" stop-color="#b7ff48"/><stop offset=".013" stop-color="#fff600"/><stop offset=".031" stop-color="#ffaf00"/><stop offset=".048" stop-color="#ffbe00"/><stop offset=".066" stop-color="#f7ff08"/><stop offset=".122" stop-color="#00f9ff"/><stop offset=".153" stop-color="#0099ff"/><stop offset=".175" stop-color="#00adff"/><stop offset=".197" stop-color="#11ffee"/><stop offset=".231" stop-color="#f9ff06"/><stop offset=".266" stop-color="#ff5400"/><stop offset=".293" stop-color="#ff3f00"/><stop offset=".328" stop-color="#ffaa00"/><stop offset=".349" stop-color="#f9ff06"/><stop offset=".419" stop-color="#00f9ff"/><stop offset=".459" stop-color="#0053ff"/><stop offset=".480" stop-color="#0042ff"/><stop offset=".511" stop-color="#00a6ff"/><stop offset=".537" stop-color="#0bfff4"/><stop offset=".563" stop-color="#1bffe4"/><stop offset=".598" stop-color="#00e8ff"/><stop offset=".629" stop-color="#13ffec"/><stop offset=".664" stop-color="#b9ff46"/><stop offset=".677" stop-color="#fff200"/><stop offset=".699" stop-color="#ff8000"/><stop offset=".716" stop-color="#ff7e00"/><stop offset=".751" stop-color="#fff000"/><stop offset=".773" stop-color="#ffc900"/><stop offset=".812" stop-color="#ff0300"/><stop offset=".834" stop-color="#ff0c00"/><stop offset=".856" stop-color="#ff9300"/><stop offset=".869" stop-color="#fdff02"/><stop offset=".895" stop-color="#03fffc"/><stop offset=".913" stop-color="#0075ff"/><stop offset=".926" stop-color="#004fff"/><stop offset=".943" stop-color="#008eff"/><stop offset=".961" stop-color="#05fffa"/><stop offset=".987" stop-color="#78ff87"/><stop offset="1.000" stop-color="#96ff69"/></linearGradient>
<linearGradient id="g343"><stop offset=".000" stop-color="#8aff75"/><stop offset=".026" stop-color="#fcff03"/><stop offset=".057" stop-color="#efff10"/><stop offset=".135" stop-color="#26ffd9"/><stop offset=".166" stop-color="#28ffd7"/><stop offset=".197" stop-color="#9bff64"/><stop offset=".214" stop-color="#fffc00"/><stop offset=".253" stop-color="#ff1600"/><stop offset=".275" stop-color="#df0000"/><stop offset=".301" stop-color="#ff1000"/><stop offset=".345" stop-color="#fffa00"/><stop offset=".406" stop-color="#1dffe2"/><stop offset=".419" stop-color="#00ecff"/><stop offset=".463" stop-color="#0053ff"/><stop offset=".485" stop-color="#0057ff"/><stop offset=".537" stop-color="#02fffd"/><stop offset=".563" stop-color="#00e5ff"/><stop offset=".598" stop-color="#0078ff"/><stop offset=".620" stop-color="#008bff"/><stop offset=".642" stop-color="#00f8ff"/><stop offset=".677" stop-color="#feff01"/><stop offset=".699" stop-color="#ff7e00"/><stop offset=".716" stop-color="#ff7d00"/><stop offset=".747" stop-color="#feff01"/><stop offset=".764" stop-color="#eeff11"/><stop offset=".777" stop-color="#ffed00"/><stop offset=".817" stop-color="#ff4800"/><stop offset=".834" stop-color="#ff5100"/><stop offset=".860" stop-color="#ffdb00"/><stop offset=".869" stop-color="#e4ff1b"/><stop offset=".895" stop-color="#0cfff3"/><stop offset=".917" stop-color="#007fff"/><stop offset=".930" stop-color="#007eff"/><stop offset=".952" stop-color="#00fdff"/><stop offset=".978" stop-color="#91ff6e"/><stop offset="1.000" stop-color="#bfff40"/></linearGradient>
<linearGradient id="g344"><stop offset=".000" stop-color="#7eff81"/><stop offset=".044" stop-color="#bcff43"/><stop offset=".131" stop-color="#b5ff4a"/><stop offset=".179" stop-color="#f0ff0f"/><stop offset=".197" stop-color="#ffd300"/><stop offset=".236" stop-color="#f80000"/><stop offset=".262" stop-color="#800000"/><stop offset=".293" stop-color="#8b0000"/><stop offset=".314" stop-color="#fa0000"/><stop offset=".358" stop-color="#f8ff07"/><stop offset=".410" stop-color="#42ffbd"/><stop offset=".437" stop-color="#00f6ff"/><stop offset=".472" stop-color="#00c4ff"/><stop offset=".507" stop-color="#09fff6"/><stop offset=".537" stop-color="#3bffc4"/><stop offset=".563" stop-color="#00feff"/><stop offset=".598" stop-color="#007fff"/><stop offset=".620" stop-color="#008bff"/><stop offset=".646" stop-color="#05fffa"/><stop offset=".690" stop-color="#ffff00"/><stop offset=".712" stop-color="#ffdb00"/><stop offset=".734" stop-color="#ecff13"/><stop offset=".760" stop-color="#c1ff3e"/><stop offset=".786" stop-color="#fff900"/><stop offset=".821" stop-color="#ff7a00"/><stop offset=".843" stop-color="#ff8700"/><stop offset=".869" stop-color="#fffa00"/><stop offset=".908" stop-color="#00ffff"/><stop offset=".926" stop-color="#00c8ff"/><stop offset=".948" stop-color="#02fffd"/><stop offset=".983" stop-color="#84ff7b"/><stop offset="1.000" stop-color="#9cff63"/></linearGradient>
<linearGradient id="g345"><stop offset=".000" stop-color="#86ff79"/><stop offset=".157" stop-color="#9bff64"/><stop offset=".197" stop-color="#e6ff19"/><stop offset=".210" stop-color="#ffe200"/><stop offset=".249" stop-color="#ff0100"/><stop offset=".275" stop-color="#9e0000"/><stop offset=".297" stop-color="#ad0000"/><stop offset=".319" stop-color="#ff0d00"/><stop offset=".362" stop-color="#feff01"/><stop offset=".410" stop-color="#61ff9e"/><stop offset=".463" stop-color="#0efff1"/><stop offset=".537" stop-color="#56ffa9"/><stop offset=".572" stop-color="#00fdff"/><stop offset=".603" stop-color="#00a9ff"/><stop offset=".629" stop-color="#00bfff"/><stop offset=".651" stop-color="#0afff5"/><stop offset=".699" stop-color="#b0ff4f"/><stop offset=".738" stop-color="#beff41"/><stop offset=".782" stop-color="#d7ff28"/><stop offset=".817" stop-color="#fff200"/><stop offset=".852" stop-color="#edff12"/><stop offset=".917" stop-color="#27ffd8"/><stop offset=".943" stop-color="#30ffcf"/><stop offset=".987" stop-color="#62ff9d"/><stop offset="1.000" stop-color="#5bffa4"/></linearGradient>
<linearGradient id="g346"><stop offset=".000" stop-color="#9cff63"/><stop offset=".153" stop-color="#8bff74"/><stop offset=".197" stop-color="#cfff30"/><stop offset=".214" stop-color="#fff000"/><stop offset=".266" stop-color="#ff0300"/><stop offset=".293" stop-color="#f40000"/><stop offset=".314" stop-color="#ff3a00"/><stop offset=".358" stop-color="#fbff04"/><stop offset=".402" stop-color="#99ff66"/><stop offset=".476" stop-color="#41ffbe"/><stop offset=".550" stop-color="#84ff7b"/><stop offset=".616" stop-color="#50ffaf"/><stop offset=".738" stop-color="#c6ff39"/><stop offset=".834" stop-color="#daff25"/><stop offset=".926" stop-color="#4fffb0"/><stop offset=".965" stop-color="#6dff92"/><stop offset=".987" stop-color="#79ff86"/><stop offset="1.000" stop-color="#59ffa6"/></linearGradient>
<linearGradient id="g347"><stop offset=".000" stop-color="#6eff91"/><stop offset=".122" stop-color="#7eff81"/><stop offset=".214" stop-color="#fff700"/><stop offset=".266" stop-color="#ff9300"/><stop offset=".297" stop-color="#ffb000"/><stop offset=".323" stop-color="#f9ff06"/><stop offset=".362" stop-color="#90ff6f"/><stop offset=".502" stop-color="#97ff68"/><stop offset=".555" stop-color="#a9ff56"/><stop offset=".629" stop-color="#46ffb9"/><stop offset=".777" stop-color="#9dff62"/><stop offset=".838" stop-color="#b4ff4b"/><stop offset=".943" stop-color="#4effb1"/><stop offset=".965" stop-color="#88ff77"/><stop offset=".983" stop-color="#bdff42"/><stop offset="1.000" stop-color="#82ff7d"/></linearGradient>
<linearGradient id="g348"><stop offset=".000" stop-color="#00f7ff"/><stop offset=".066" stop-color="#00d4ff"/><stop offset=".140" stop-color="#13ffec"/><stop offset=".293" stop-color="#68ff97"/><stop offset=".419" stop-color="#6bff94"/><stop offset=".528" stop-color="#94ff6b"/><stop offset=".629" stop-color="#2cffd3"/><stop offset=".838" stop-color="#a0ff5f"/><stop offset=".917" stop-color="#7fff80"/><stop offset=".961" stop-color="#71ff8e"/><stop offset=".987" stop-color="#85ff7a"/><stop offset="1.000" stop-color="#6aff95"/></linearGradient>
<linearGradient id="g349"><stop offset=".000" stop-color="#00f9ff"/><stop offset=".048" stop-color="#0074ff"/><stop offset=".083" stop-color="#0071ff"/><stop offset=".170" stop-color="#00eeff"/><stop offset=".240" stop-color="#23ffdc"/><stop offset=".341" stop-color="#a4ff5b"/><stop offset=".445" stop-color="#a7ff58"/><stop offset=".520" stop-color="#b4ff4b"/><stop offset=".629" stop-color="#3bffc4"/><stop offset=".699" stop-color="#6fff90"/><stop offset=".769" stop-color="#aaff55"/><stop offset=".904" stop-color="#52ffad"/><stop offset="1.000" stop-color="#68ff97"/></linearGradient>
<linearGradient id="g350"><stop offset=".000" stop-color="#00daff"/><stop offset=".048" stop-color="#005cff"/><stop offset=".087" stop-color="#0063ff"/><stop offset=".192" stop-color="#0dfff2"/><stop offset=".284" stop-color="#98ff67"/><stop offset=".354" stop-color="#76ff89"/><stop offset=".485" stop-color="#5effa1"/><stop offset=".655" stop-color="#55ffaa"/><stop offset=".738" stop-color="#99ff66"/><stop offset=".978" stop-color="#23ffdc"/><stop offset="1.000" stop-color="#2fffd0"/></linearGradient>
<linearGradient id="g351"><stop offset=".000" stop-color="#00f5ff"/><stop offset=".074" stop-color="#00a1ff"/><stop offset=".188" stop-color="#00b2ff"/><stop offset=".240" stop-color="#0ffff0"/><stop offset=".293" stop-color="#46ffb9"/><stop offset=".380" stop-color="#4fffb0"/><stop offset=".563" stop-color="#c7ff38"/><stop offset=".681" stop-color="#77ff88"/><stop offset=".760" stop-color="#5fffa0"/><stop offset=".834" stop-color="#4affb5"/><stop offset="1.000" stop-color="#2bffd4"/></linearGradient>
<linearGradient id="g352"><stop offset=".000" stop-color="#66ff99"/><stop offset=".061" stop-color="#54ffab"/><stop offset=".140" stop-color="#00f5ff"/><stop offset=".201" stop-color="#10ffef"/><stop offset=".262" stop-color="#3dffc2"/><stop offset=".349" stop-color="#45ffba"/><stop offset=".472" stop-color="#95ff6a"/><stop offset=".520" stop-color="#ffee00"/><stop offset=".559" stop-color="#ffa400"/><stop offset=".598" stop-color="#ffd200"/><stop offset=".620" stop-color="#f4ff0b"/><stop offset=".742" stop-color="#00f4ff"/><stop offset=".786" stop-color="#00e3ff"/><stop offset=".830" stop-color="#18ffe7"/><stop offset=".895" stop-color="#3cffc3"/><stop offset=".983" stop-color="#5effa1"/><stop offset="1.000" stop-color="#69ff96"/></linearGradient>
<linearGradient id="g353"><stop offset=".000" stop-color="#7cff83"/><stop offset=".070" stop-color="#91ff6e"/><stop offset=".175" stop-color="#5affa5"/><stop offset=".253" stop-color="#60ff9f"/><stop offset=".314" stop-color="#59ffa6"/><stop offset=".463" stop-color="#caff35"/><stop offset=".507" stop-color="#ffeb00"/><stop offset=".563" stop-color="#ff9800"/><stop offset=".603" stop-color="#ffc500"/><stop offset=".629" stop-color="#f0ff0f"/><stop offset=".721" stop-color="#00f9ff"/><stop offset=".764" stop-color="#00b7ff"/><stop offset=".860" stop-color="#00caff"/><stop offset=".934" stop-color="#00abff"/><stop offset="1.000" stop-color="#01fffe"/></linearGradient>
<linearGradient id="g354"><stop offset=".000" stop-color="#e2ff1d"/><stop offset=".070" stop-color="#f2ff0d"/><stop offset=".179" stop-color="#8eff71"/><stop offset=".262" stop-color="#a4ff5b"/><stop offset=".345" stop-color="#a5ff5a"/><stop offset=".441" stop-color="#bdff42"/><stop offset=".528" stop-color="#ffef00"/><stop offset=".585" stop-color="#ffbe00"/><stop offset=".629" stop-color="#f4ff0b"/><stop offset=".686" stop-color="#76ff89"/><stop offset=".808" stop-color="#00f1ff"/><stop offset=".913" stop-color="#007eff"/><stop offset=".965" stop-color="#00bfff"/><stop offset="1.000" stop-color="#00ffff"/></linearGradient>
<linearGradient id="g355"><stop offset=".000" stop-color="#ff7200"/><stop offset=".026" stop-color="#ff5500"/><stop offset=".096" stop-color="#feff01"/><stop offset=".183" stop-color="#d1ff2e"/><stop offset=".262" stop-color="#cbff34"/><stop offset=".349" stop-color="#8cff73"/><stop offset=".428" stop-color="#98ff67"/><stop offset=".511" stop-color="#fff300"/><stop offset=".581" stop-color="#ffa000"/><stop offset=".659" stop-color="#ffe900"/><stop offset=".712" stop-color="#ddff22"/><stop offset=".847" stop-color="#00f6ff"/><stop offset=".908" stop-color="#00d1ff"/><stop offset=".974" stop-color="#12ffed"/><stop offset="1.000" stop-color="#28ffd7"/></linearGradient>
<linearGradient id="g356"><stop offset=".000" stop-color="#ffb500"/><stop offset=".026" stop-color="#ff8900"/><stop offset=".096" stop-color="#f9ff06"/><stop offset=".314" stop-color="#72ff8d"/><stop offset=".428" stop-color="#d3ff2c"/><stop offset=".520" stop-color="#ffeb00"/><stop offset=".638" stop-color="#ffe400"/><stop offset=".703" stop-color="#eeff11"/><stop offset=".803" stop-color="#5cffa3"/><stop offset=".882" stop-color="#5cffa3"/><stop offset=".978" stop-color="#a1ff5e"/><stop offset="1.000" stop-color="#9aff65"/></linearGradient>
<linearGradient id="g357"><stop offset=".000" stop-color="#baff45"/><stop offset=".035" stop-color="#dcff23"/><stop offset=".148" stop-color="#cfff30"/><stop offset=".258" stop-color="#4cffb3"/><stop offset=".314" stop-color="#13ffec"/><stop offset=".371" stop-color="#65ff9a"/><stop offset=".441" stop-color="#bdff42"/><stop offset=".511" stop-color="#c8ff37"/><stop offset=".590" stop-color="#8dff72"/><stop offset=".699" stop-color="#c9ff36"/><stop offset=".817" stop-color="#90ff6f"/><stop offset=".948" stop-color="#ecff13"/><stop offset="1.000" stop-color="#c5ff3a"/></linearGradient>
<linearGradient id="g358"><stop offset=".000" stop-color="#fffc00"/><stop offset=".017" stop-color="#ffb700"/><stop offset=".035" stop-color="#ffea00"/><stop offset=".044" stop-color="#e5ff1a"/><stop offset=".066" stop-color="#99ff66"/><stop offset=".236" stop-color="#4affb5"/><stop offset=".284" stop-color="#00f0ff"/><stop offset=".328" stop-color="#00b2ff"/><stop offset=".362" stop-color="#00e4ff"/><stop offset=".380" stop-color="#17ffe8"/><stop offset=".432" stop-color="#8aff75"/><stop offset=".533" stop-color="#a6ff59"/><stop offset=".629" stop-color="#9bff64"/><stop offset=".712" stop-color="#b7ff48"/><stop offset=".817" stop-color="#74ff8b"/><stop offset=".886" stop-color="#baff45"/><stop offset=".952" stop-color="#fcff03"/><stop offset="1.000" stop-color="#daff25"/></linearGradient>
<linearGradient id="g359"><stop offset=".000" stop-color="#ffdf00"/><stop offset=".017" stop-color="#ffa600"/><stop offset=".035" stop-color="#ffe700"/><stop offset=".044" stop-color="#e0ff1f"/><stop offset=".066" stop-color="#85ff7a"/><stop offset=".175" stop-color="#1fffe0"/><stop offset=".253" stop-color="#2fffd0"/><stop offset=".288" stop-color="#00f6ff"/><stop offset=".332" stop-color="#00b9ff"/><stop offset=".371" stop-color="#00f6ff"/><stop offset=".428" stop-color="#72ff8d"/><stop offset=".563" stop-color="#5affa5"/><stop offset=".668" stop-color="#40ffbf"/><stop offset=".803" stop-color="#34ffcb"/><stop offset=".860" stop-color="#89ff76"/><stop offset=".908" stop-color="#fff300"/><stop offset=".948" stop-color="#ffbe00"/><stop offset=".996" stop-color="#f1ff0e"/><stop offset="1.000" stop-color="#e6ff19"/></linearGradient>
<linearGradient id="g360"><stop offset=".000" stop-color="#a5ff5a"/><stop offset=".035" stop-color="#aaff55"/><stop offset=".100" stop-color="#85ff7a"/><stop offset=".266" stop-color="#00f4ff"/><stop offset=".332" stop-color="#00a7ff"/><stop offset=".371" stop-color="#00e0ff"/><stop offset=".393" stop-color="#19ffe6"/><stop offset=".432" stop-color="#50ffaf"/><stop offset=".528" stop-color="#12ffed"/><stop offset=".633" stop-color="#3effc1"/><stop offset=".725" stop-color="#00eeff"/><stop offset=".795" stop-color="#10ffef"/><stop offset=".852" stop-color="#7dff82"/><stop offset=".891" stop-color="#fff300"/><stop offset=".930" stop-color="#ff7500"/><stop offset=".961" stop-color="#ff7700"/><stop offset="1.000" stop-color="#fff500"/></linearGradient>
<linearGradient id="g361"><stop offset=".000" stop-color="#78ff87"/><stop offset=".092" stop-color="#bbff44"/><stop offset=".223" stop-color="#54ffab"/><stop offset=".297" stop-color="#22ffdd"/><stop offset=".603" stop-color="#14ffeb"/><stop offset=".721" stop-color="#00deff"/><stop offset=".777" stop-color="#00e1ff"/><stop offset=".808" stop-color="#14ffeb"/><stop offset=".860" stop-color="#c0ff3f"/><stop offset=".878" stop-color="#fff100"/><stop offset=".926" stop-color="#ff2500"/><stop offset=".956" stop-color="#ff0000"/><stop offset=".987" stop-color="#ff4600"/><stop offset="1.000" stop-color="#ff7900"/></linearGradient>
<linearGradient id="g362"><stop offset=".000" stop-color="#a4ff5b"/><stop offset=".100" stop-color="#ddff22"/><stop offset=".205" stop-color="#a9ff56"/><stop offset=".336" stop-color="#94ff6b"/><stop offset=".428" stop-color="#1cffe3"/><stop offset=".520" stop-color="#29ffd6"/><stop offset=".559" stop-color="#00f0ff"/><stop offset=".624" stop-color="#00a4ff"/><stop offset=".742" stop-color="#00f3ff"/><stop offset=".812" stop-color="#0dfff2"/><stop offset=".852" stop-color="#76ff89"/><stop offset=".882" stop-color="#ffef00"/><stop offset=".926" stop-color="#ff1000"/><stop offset=".956" stop-color="#e40000"/><stop offset=".978" stop-color="#ff1400"/><stop offset="1.000" stop-color="#ff6b00"/></linearGradient>
<linearGradient id="g363"><stop offset=".000" stop-color="#fffc00"/><stop offset=".066" stop-color="#e9ff16"/><stop offset=".162" stop-color="#a7ff58"/><stop offset=".271" stop-color="#e6ff19"/><stop offset=".402" stop-color="#78ff87"/><stop offset=".489" stop-color="#65ff9a"/><stop offset=".568" stop-color="#00f0ff"/><stop offset=".620" stop-color="#00c9ff"/><stop offset=".677" stop-color="#10ffef"/><stop offset=".747" stop-color="#54ffab"/><stop offset=".825" stop-color="#5effa1"/><stop offset=".865" stop-color="#c1ff3e"/><stop offset=".882" stop-color="#fff300"/><stop offset=".926" stop-color="#ff4600"/><stop offset=".956" stop-color="#ff2d00"/><stop offset="1.000" stop-color="#ff9500"/></linearGradient>
<linearGradient id="g364"><stop offset=".000" stop-color="#fff700"/><stop offset=".079" stop-color="#f2ff0d"/><stop offset=".148" stop-color="#b4ff4b"/><stop offset=".201" stop-color="#eaff15"/><stop offset=".236" stop-color="#ffd300"/><stop offset=".279" stop-color="#ffbf00"/><stop offset=".336" stop-color="#efff10"/><stop offset=".406" stop-color="#dbff24"/><stop offset=".472" stop-color="#d6ff29"/><stop offset=".563" stop-color="#20ffdf"/><stop offset=".729" stop-color="#21ffde"/><stop offset=".803" stop-color="#99ff66"/><stop offset=".852" stop-color="#fff800"/><stop offset=".926" stop-color="#ff7e00"/><stop offset=".974" stop-color="#ff8f00"/><stop offset="1.000" stop-color="#ffbd00"/></linearGradient>
<linearGradient id="g365"><stop offset=".000" stop-color="#fdff02"/><stop offset=".092" stop-color="#ffe700"/><stop offset=".170" stop-color="#fffc00"/><stop offset=".253" stop-color="#ff5300"/><stop offset=".288" stop-color="#ff7500"/><stop offset=".349" stop-color="#fff300"/><stop offset=".472" stop-color="#fff000"/><stop offset=".507" stop-color="#daff25"/><stop offset=".568" stop-color="#83ff7c"/><stop offset=".686" stop-color="#77ff88"/><stop offset=".755" stop-color="#8bff74"/><stop offset=".843" stop-color="#fff600"/><stop offset=".987" stop-color="#f1ff0e"/><stop offset="1.000" stop-color="#e0ff1f"/></linearGradient>
<linearGradient id="g366"><stop offset=".000" stop-color="#f9ff06"/><stop offset=".087" stop-color="#ffdf00"/><stop offset=".266" stop-color="#ff2f00"/><stop offset=".310" stop-color="#ff7700"/><stop offset=".362" stop-color="#ffe400"/><stop offset=".559" stop-color="#eeff11"/><stop offset=".716" stop-color="#e9ff16"/><stop offset=".860" stop-color="#cfff30"/><stop offset="1.000" stop-color="#c4ff3b"/></linearGradient>
<linearGradient id="g367"><stop offset=".000" stop-color="#acff53"/><stop offset=".074" stop-color="#bcff43"/><stop offset=".122" stop-color="#ffef00"/><stop offset=".266" stop-color="#ff4400"/><stop offset=".314" stop-color="#ff7400"/><stop offset=".384" stop-color="#f6ff09"/><stop offset=".441" stop-color="#cbff34"/><stop offset=".594" stop-color="#cdff32"/><stop offset=".664" stop-color="#fff600"/><stop offset=".738" stop-color="#e0ff1f"/><stop offset=".812" stop-color="#c4ff3b"/><stop offset=".900" stop-color="#a6ff59"/><stop offset=".991" stop-color="#beff41"/><stop offset="1.000" stop-color="#c2ff3d"/></linearGradient>
<linearGradient id="g368" x1="0" y1="0" x2="0" y2="1"><stop offset="0" stop-color="#800000"/><stop offset="0.06" stop-color="#bf0000"/><stop offset="0.12" stop-color="#ff0000"/><stop offset="0.19" stop-color="#ff4000"/><stop offset="0.25" stop-color="#ff8000"/><stop offset="0.31" stop-color="#ffbf00"/><stop offset="0.38" stop-color="#ffff00"/><stop offset="0.44" stop-color="#bfff40"/><stop offset="0.5" stop-color="#80ff80"/><stop offset="0.56" stop-color="#40ffbf"/><stop offset="0.62" stop-color="#00ffff"/><stop offset="0.69" stop-color="#00bfff"/><stop offset="0.75" stop-color="#0080ff"/><stop offset="0.81" stop-color="#0040ff"/><stop offset="0.88" stop-color="#0000ff"/><stop offset="0.94" stop-color="#0000bf"/><stop offset="1" stop-color="#000080"/></linearGradient>
<linearGradient id="g369"><stop offset=".000" stop-color="#007fff"/><stop offset=".013" stop-color="#0066ff"/><stop offset=".030" stop-color="#00bcff"/><stop offset=".039" stop-color="#00fcff"/><stop offset=".082" stop-color="#fff100"/><stop offset=".104" stop-color="#ff9a00"/><stop offset=".121" stop-color="#ffae00"/><stop offset=".147" stop-color="#f5ff0a"/><stop offset=".238" stop-color="#acff53"/><stop offset=".329" stop-color="#38ffc7"/><stop offset=".403" stop-color="#3bffc4"/><stop offset=".459" stop-color="#51ffae"/><stop offset=".515" stop-color="#00efff"/><stop offset=".563" stop-color="#00afff"/><stop offset=".667" stop-color="#00f2ff"/><stop offset=".758" stop-color="#08fff7"/><stop offset=".775" stop-color="#58ffa7"/><stop offset=".792" stop-color="#fff900"/><stop offset=".805" stop-color="#ffad00"/><stop offset=".840" stop-color="#ff9100"/><stop offset=".939" stop-color="#ffd600"/><stop offset="1.000" stop-color="#ffb100"/></linearGradient>
<linearGradient id="g370"><stop offset=".000" stop-color="#007fff"/><stop offset=".013" stop-color="#005bff"/><stop offset=".026" stop-color="#0096ff"/><stop offset=".039" stop-color="#00feff"/><stop offset=".082" stop-color="#fff100"/><stop offset=".100" stop-color="#ffa600"/><stop offset=".117" stop-color="#ffae00"/><stop offset=".139" stop-color="#f1ff0e"/><stop offset=".165" stop-color="#baff45"/><stop offset=".242" stop-color="#a8ff57"/><stop offset=".351" stop-color="#23ffdc"/><stop offset=".455" stop-color="#34ffcb"/><stop offset=".511" stop-color="#00edff"/><stop offset=".571" stop-color="#00c2ff"/><stop offset=".641" stop-color="#10ffef"/><stop offset=".701" stop-color="#26ffd9"/><stop offset=".753" stop-color="#17ffe8"/><stop offset=".771" stop-color="#4bffb4"/><stop offset=".784" stop-color="#bfff40"/><stop offset=".788" stop-color="#f1ff0e"/><stop offset=".805" stop-color="#ff8d00"/><stop offset=".835" stop-color="#ff7700"/><stop offset=".926" stop-color="#fffb00"/><stop offset=".991" stop-color="#ffc000"/><stop offset="1.000" stop-color="#ffb600"/></linearGradient>
<linearGradient id="g371"><stop offset=".000" stop-color="#0044ff"/><stop offset=".013" stop-color="#001eff"/><stop offset=".026" stop-color="#0067ff"/><stop offset=".043" stop-color="#0cfff3"/><stop offset=".078" stop-color="#f6ff09"/><stop offset=".104" stop-color="#ff9500"/><stop offset=".121" stop-color="#ffaa00"/><stop offset=".143" stop-color="#fbff04"/><stop offset=".177" stop-color="#b7ff48"/><stop offset=".351" stop-color="#40ffbf"/><stop offset=".545" stop-color="#02fffd"/><stop offset=".714" stop-color="#27ffd8"/><stop offset=".758" stop-color="#24ffdb"/><stop offset=".771" stop-color="#4dffb2"/><stop offset=".784" stop-color="#c4ff3b"/><stop offset=".788" stop-color="#faff05"/><stop offset=".801" stop-color="#ff8800"/><stop offset=".823" stop-color="#ff4500"/><stop offset=".870" stop-color="#ff3b00"/><stop offset=".948" stop-color="#ff8700"/><stop offset="1.000" stop-color="#ff7600"/></linearGradient>
<linearGradient id="g372"><stop offset=".000" stop-color="#0000fb"/><stop offset=".013" stop-color="#0000d8"/><stop offset=".022" stop-color="#0006ff"/><stop offset=".048" stop-color="#00ffff"/><stop offset=".082" stop-color="#a7ff58"/><stop offset=".108" stop-color="#d9ff26"/><stop offset=".169" stop-color="#49ffb6"/><stop offset=".229" stop-color="#39ffc6"/><stop offset=".320" stop-color="#67ff98"/><stop offset=".489" stop-color="#13ffec"/><stop offset=".619" stop-color="#20ffdf"/><stop offset=".753" stop-color="#27ffd8"/><stop offset=".771" stop-color="#4fffb0"/><stop offset=".784" stop-color="#bfff40"/><stop offset=".788" stop-color="#f4ff0b"/><stop offset=".805" stop-color="#ff7900"/><stop offset=".840" stop-color="#ff4600"/><stop offset=".922" stop-color="#ff6000"/><stop offset="1.000" stop-color="#ff7200"/></linearGradient>
<linearGradient id="g373"><stop offset=".000" stop-color="#002aff"/><stop offset=".013" stop-color="#0005ff"/><stop offset=".026" stop-color="#0055ff"/><stop offset=".043" stop-color="#00f9ff"/><stop offset=".065" stop-color="#5affa5"/><stop offset=".108" stop-color="#90ff6f"/><stop offset=".190" stop-color="#00f6ff"/><stop offset=".251" stop-color="#00e3ff"/><stop offset=".403" stop-color="#11ffee"/><stop offset=".468" stop-color="#04fffb"/><stop offset=".567" stop-color="#00f0ff"/><stop offset=".766" stop-color="#0afff5"/><stop offset=".779" stop-color="#59ffa6"/><stop offset=".792" stop-color="#f3ff0c"/><stop offset=".810" stop-color="#ff9100"/><stop offset=".883" stop-color="#ff0400"/><stop offset=".939" stop-color="#ff1300"/><stop offset="1.000" stop-color="#ff6100"/></linearGradient>
<linearGradient id="g374"><stop offset=".000" stop-color="#0021ff"/><stop offset=".009" stop-color="#0000f6"/><stop offset=".017" stop-color="#0004ff"/><stop offset=".048" stop-color="#00fcff"/><stop offset=".074" stop-color="#44ffbb"/><stop offset=".121" stop-color="#55ffaa"/><stop offset=".182" stop-color="#00f2ff"/><stop offset=".225" stop-color="#00eaff"/><stop offset=".299" stop-color="#19ffe6"/><stop offset=".433" stop-color="#00edff"/><stop offset=".545" stop-color="#00b9ff"/><stop offset=".667" stop-color="#00c9ff"/><stop offset=".762" stop-color="#00ecff"/><stop offset=".771" stop-color="#0afff5"/><stop offset=".784" stop-color="#7dff82"/><stop offset=".792" stop-color="#edff12"/><stop offset=".810" stop-color="#ff8d00"/><stop offset=".874" stop-color="#ff1e00"/><stop offset=".961" stop-color="#ff3500"/><stop offset="1.000" stop-color="#ff4a00"/></linearGradient>
<linearGradient id="g375"><stop offset=".000" stop-color="#0058ff"/><stop offset=".013" stop-color="#003cff"/><stop offset=".026" stop-color="#008bff"/><stop offset=".039" stop-color="#05fffa"/><stop offset=".056" stop-color="#69ff96"/><stop offset=".095" stop-color="#8eff71"/><stop offset=".134" stop-color="#68ff97"/><stop offset=".199" stop-color="#22ffdd"/><stop offset=".333" stop-color="#44ffbb"/><stop offset=".446" stop-color="#00f0ff"/><stop offset=".532" stop-color="#00d9ff"/><stop offset=".688" stop-color="#00deff"/><stop offset=".745" stop-color="#00ecff"/><stop offset=".762" stop-color="#14ffeb"/><stop offset=".775" stop-color="#58ffa7"/><stop offset=".788" stop-color="#efff10"/><stop offset=".805" stop-color="#ff6700"/><stop offset=".827" stop-color="#ff4600"/><stop offset=".931" stop-color="#ff7900"/><stop offset="1.000" stop-color="#ff6700"/></linearGradient>
<linearGradient id="g376"><stop offset=".000" stop-color="#009aff"/><stop offset=".013" stop-color="#008dff"/><stop offset=".030" stop-color="#02fffd"/><stop offset=".052" stop-color="#a2ff5d"/><stop offset=".082" stop-color="#e9ff16"/><stop offset=".117" stop-color="#f0ff0f"/><stop offset=".195" stop-color="#7dff82"/><stop offset=".359" stop-color="#51ffae"/><stop offset=".437" stop-color="#13ffec"/><stop offset=".528" stop-color="#17ffe8"/><stop offset=".602" stop-color="#07fff8"/><stop offset=".697" stop-color="#00f1ff"/><stop offset=".749" stop-color="#00e3ff"/><stop offset=".771" stop-color="#17ffe8"/><stop offset=".784" stop-color="#7dff82"/><stop offset=".797" stop-color="#fff200"/><stop offset=".810" stop-color="#ffac00"/><stop offset=".861" stop-color="#ffac00"/><stop offset="1.000" stop-color="#ffb700"/></linearGradient>
<linearGradient id="g377"><stop offset=".000" stop-color="#00b8ff"/><stop offset=".013" stop-color="#00aeff"/><stop offset=".030" stop-color="#0cfff3"/><stop offset=".052" stop-color="#8cff73"/><stop offset=".100" stop-color="#fffc00"/><stop offset=".121" stop-color="#e5ff1a"/><stop offset=".165" stop-color="#8eff71"/><stop offset=".277" stop-color="#37ffc8"/><stop offset=".351" stop-color="#36ffc9"/><stop offset=".411" stop-color="#14ffeb"/><stop offset=".494" stop-color="#7eff81"/><stop offset=".602" stop-color="#17ffe8"/><stop offset=".693" stop-color="#00f3ff"/><stop offset=".740" stop-color="#00d7ff"/><stop offset=".766" stop-color="#09fff6"/><stop offset=".779" stop-color="#55ffaa"/><stop offset=".797" stop-color="#fff500"/><stop offset=".810" stop-color="#ffab00"/><stop offset=".853" stop-color="#ff8700"/><stop offset="1.000" stop-color="#ffa000"/></linearGradient>
<linearGradient id="g378"><stop offset=".000" stop-color="#00eaff"/><stop offset=".017" stop-color="#00e4ff"/><stop offset=".030" stop-color="#1bffe4"/><stop offset=".061" stop-color="#8eff71"/><stop offset=".091" stop-color="#fff000"/><stop offset=".104" stop-color="#ffc900"/><stop offset=".126" stop-color="#f3ff0c"/><stop offset=".152" stop-color="#b2ff4d"/><stop offset=".281" stop-color="#48ffb7"/><stop offset=".372" stop-color="#1effe1"/><stop offset=".528" stop-color="#58ffa7"/><stop offset=".649" stop-color="#1affe5"/><stop offset=".758" stop-color="#1cffe3"/><stop offset=".775" stop-color="#48ffb7"/><stop offset=".797" stop-color="#f8ff07"/><stop offset=".818" stop-color="#ffb400"/><stop offset=".892" stop-color="#ff7b00"/><stop offset=".983" stop-color="#ffb700"/><stop offset="1.000" stop-color="#ffae00"/></linearGradient>
<linearGradient id="g379"><stop offset=".000" stop-color="#36ffc9"/><stop offset=".022" stop-color="#45ffba"/><stop offset=".061" stop-color="#b9ff46"/><stop offset=".087" stop-color="#fff600"/><stop offset=".104" stop-color="#ffc800"/><stop offset=".126" stop-color="#f8ff07"/><stop offset=".156" stop-color="#b1ff4e"/><stop offset=".216" stop-color="#bfff40"/><stop offset=".268" stop-color="#a8ff57"/><stop offset=".351" stop-color="#0dfff2"/><stop offset=".424" stop-color="#46ffb9"/><stop offset=".563" stop-color="#41ffbe"/><stop offset=".649" stop-color="#34ffcb"/><stop offset=".710" stop-color="#20ffdf"/><stop offset=".749" stop-color="#2cffd3"/><stop offset=".775" stop-color="#6eff91"/><stop offset=".797" stop-color="#ffef00"/><stop offset=".814" stop-color="#ffb400"/><stop offset=".896" stop-color="#ffd700"/><stop offset=".939" stop-color="#eaff15"/><stop offset=".996" stop-color="#dcff23"/><stop offset="1.000" stop-color="#dfff20"/></linearGradient>
<linearGradient id="g380"><stop offset=".000" stop-color="#00ffff"/><stop offset=".022" stop-color="#19ffe6"/><stop offset=".065" stop-color="#a2ff5d"/><stop offset=".108" stop-color="#e8ff17"/><stop offset=".186" stop-color="#a0ff5f"/><stop offset=".273" stop-color="#8fff70"/><stop offset=".329" stop-color="#34ffcb"/><stop offset=".359" stop-color="#12ffed"/><stop offset=".433" stop-color="#3fffc0"/><stop offset=".554" stop-color="#46ffb9"/><stop offset=".684" stop-color="#15ffea"/><stop offset=".719" stop-color="#00ddff"/><stop offset=".762" stop-color="#10ffef"/><stop offset=".779" stop-color="#54ffab"/><stop offset=".801" stop-color="#f0ff0f"/><stop offset=".848" stop-color="#ffde00"/><stop offset=".918" stop-color="#ffe700"/><stop offset=".965" stop-color="#d9ff26"/><stop offset="1.000" stop-color="#caff35"/></linearGradient>
<linearGradient id="g381"><stop offset=".000" stop-color="#00caff"/><stop offset=".022" stop-color="#00c7ff"/><stop offset=".043" stop-color="#0afff5"/><stop offset=".104" stop-color="#99ff66"/><stop offset=".143" stop-color="#a2ff5d"/><stop offset=".277" stop-color="#3dffc2"/><stop offset=".385" stop-color="#1bffe4"/><stop offset=".498" stop-color="#40ffbf"/><stop offset=".563" stop-color="#42ffbd"/><stop offset=".675" stop-color="#00efff"/><stop offset=".727" stop-color="#00abff"/><stop offset=".766" stop-color="#02fffd"/><stop offset=".784" stop-color="#5bffa4"/><stop offset=".805" stop-color="#f3ff0c"/><stop offset=".887" stop-color="#ffb300"/><stop offset=".931" stop-color="#ffe400"/><stop offset=".957" stop-color="#dcff23"/><stop offset="1.000" stop-color="#a0ff5f"/></linearGradient>
<linearGradient id="g382"><stop offset=".000" stop-color="#00ddff"/><stop offset=".022" stop-color="#00bdff"/><stop offset=".043" stop-color="#03fffc"/><stop offset=".082" stop-color="#81ff7e"/><stop offset=".130" stop-color="#caff35"/><stop offset=".195" stop-color="#adff52"/><stop offset=".320" stop-color="#65ff9a"/><stop offset=".394" stop-color="#02fffd"/><stop offset=".468" stop-color="#26ffd9"/><stop offset=".532" stop-color="#87ff78"/><stop offset=".684" stop-color="#00f2ff"/><stop offset=".723" stop-color="#00a1ff"/><stop offset=".753" stop-color="#00d0ff"/><stop offset=".771" stop-color="#0bfff4"/><stop offset=".792" stop-color="#9bff64"/><stop offset=".810" stop-color="#fbff04"/><stop offset=".892" stop-color="#ffb700"/><stop offset=".944" stop-color="#ffec00"/><stop offset=".996" stop-color="#ccff33"/><stop offset="1.000" stop-color="#caff35"/></linearGradient>
<linearGradient id="g383"><stop offset=".000" stop-color="#00b8ff"/><stop offset=".017" stop-color="#0085ff"/><stop offset=".035" stop-color="#00b5ff"/><stop offset=".048" stop-color="#05fffa"/><stop offset=".074" stop-color="#84ff7b"/><stop offset=".121" stop-color="#cbff34"/><stop offset=".247" stop-color="#c4ff3b"/><stop offset=".299" stop-color="#b1ff4e"/><stop offset=".381" stop-color="#00ffff"/><stop offset=".433" stop-color="#00f1ff"/><stop offset=".476" stop-color="#1dffe2"/><stop offset=".541" stop-color="#7bff84"/><stop offset=".684" stop-color="#00f2ff"/><stop offset=".723" stop-color="#0093ff"/><stop offset=".753" stop-color="#00b6ff"/><stop offset=".779" stop-color="#0dfff2"/><stop offset=".805" stop-color="#aeff51"/><stop offset=".866" stop-color="#fff300"/><stop offset=".918" stop-color="#ffc900"/><stop offset="1.000" stop-color="#fdff02"/></linearGradient>
<linearGradient id="g384"><stop offset=".000" stop-color="#007dff"/><stop offset=".017" stop-color="#0040ff"/><stop offset=".030" stop-color="#005cff"/><stop offset=".056" stop-color="#0dfff2"/><stop offset=".082" stop-color="#81ff7e"/><stop offset=".130" stop-color="#cbff34"/><stop offset=".238" stop-color="#e6ff19"/><stop offset=".320" stop-color="#87ff78"/><stop offset=".407" stop-color="#2effd1"/><stop offset=".481" stop-color="#18ffe7"/><stop offset=".550" stop-color="#3dffc2"/><stop offset=".649" stop-color="#00f2ff"/><stop offset=".723" stop-color="#008fff"/><stop offset=".758" stop-color="#00d9ff"/><stop offset=".775" stop-color="#12ffed"/><stop offset=".805" stop-color="#c3ff3c"/><stop offset=".883" stop-color="#ffee00"/><stop offset=".939" stop-color="#ffe500"/><stop offset="1.000" stop-color="#ffe900"/></linearGradient>
<linearGradient id="g385"><stop offset=".000" stop-color="#00afff"/><stop offset=".017" stop-color="#008fff"/><stop offset=".035" stop-color="#00cbff"/><stop offset=".043" stop-color="#03fffc"/><stop offset=".069" stop-color="#97ff68"/><stop offset=".117" stop-color="#f9ff06"/><stop offset=".208" stop-color="#ffe300"/><stop offset=".255" stop-color="#eaff15"/><stop offset=".450" stop-color="#2dffd2"/><stop offset=".545" stop-color="#73ff8c"/><stop offset=".649" stop-color="#00f2ff"/><stop offset=".723" stop-color="#0093ff"/><stop offset=".758" stop-color="#00d9ff"/><stop offset=".775" stop-color="#15ffea"/><stop offset=".805" stop-color="#e2ff1d"/><stop offset=".827" stop-color="#fff300"/><stop offset=".918" stop-color="#ffc100"/><stop offset="1.000" stop-color="#ffe200"/></linearGradient>
<linearGradient id="g386"><stop offset=".000" stop-color="#29ffd6"/><stop offset=".026" stop-color="#32ffcd"/><stop offset=".078" stop-color="#f6ff09"/><stop offset=".130" stop-color="#ffb600"/><stop offset=".247" stop-color="#ffdd00"/><stop offset=".281" stop-color="#edff12"/><stop offset=".377" stop-color="#2bffd4"/><stop offset=".429" stop-color="#23ffdc"/><stop offset=".528" stop-color="#40ffbf"/><stop offset=".632" stop-color="#02fffd"/><stop offset=".684" stop-color="#00e9ff"/><stop offset=".727" stop-color="#009aff"/><stop offset=".758" stop-color="#00bfff"/><stop offset=".779" stop-color="#0ffff0"/><stop offset=".805" stop-color="#deff21"/><stop offset=".818" stop-color="#fff000"/><stop offset=".905" stop-color="#ff8b00"/><stop offset="1.000" stop-color="#ffab00"/></linearGradient>
<linearGradient id="g387"><stop offset=".000" stop-color="#58ffa7"/><stop offset=".035" stop-color="#7dff82"/><stop offset=".087" stop-color="#fff600"/><stop offset=".121" stop-color="#ffdc00"/><stop offset=".190" stop-color="#fff800"/><stop offset=".247" stop-color="#f4ff0b"/><stop offset=".359" stop-color="#53ffac"/><stop offset=".407" stop-color="#00f9ff"/><stop offset=".468" stop-color="#00e4ff"/><stop offset=".563" stop-color="#19ffe6"/><stop offset=".658" stop-color="#3effc1"/><stop offset=".701" stop-color="#00f3ff"/><stop offset=".732" stop-color="#00c9ff"/><stop offset=".766" stop-color="#0efff1"/><stop offset=".784" stop-color="#64ff9b"/><stop offset=".801" stop-color="#f6ff09"/><stop offset=".823" stop-color="#ffbf00"/><stop offset=".944" stop-color="#ff8200"/><stop offset="1.000" stop-color="#ff8b00"/></linearGradient>
<linearGradient id="g388"><stop offset=".000" stop-color="#51ffae"/><stop offset=".039" stop-color="#7cff83"/><stop offset=".074" stop-color="#fff900"/><stop offset=".100" stop-color="#ff9d00"/><stop offset=".121" stop-color="#ffb500"/><stop offset=".147" stop-color="#fbff04"/><stop offset=".182" stop-color="#e2ff1d"/><stop offset=".221" stop-color="#ffe200"/><stop offset=".251" stop-color="#edff12"/><stop offset=".286" stop-color="#afff50"/><stop offset=".355" stop-color="#7eff81"/><stop offset=".429" stop-color="#1effe1"/><stop offset=".541" stop-color="#37ffc8"/><stop offset=".680" stop-color="#0efff1"/><stop offset=".736" stop-color="#00e1ff"/><stop offset=".762" stop-color="#0ffff0"/><stop offset=".784" stop-color="#62ff9d"/><stop offset=".805" stop-color="#f9ff06"/><stop offset=".835" stop-color="#ffe500"/><stop offset=".909" stop-color="#ffe600"/><stop offset=".991" stop-color="#ffa000"/><stop offset="1.000" stop-color="#ffa200"/></linearGradient>
<linearGradient id="g389"><stop offset=".000" stop-color="#6eff91"/><stop offset=".039" stop-color="#82ff7d"/><stop offset=".065" stop-color="#e8ff17"/><stop offset=".074" stop-color="#ffe000"/><stop offset=".095" stop-color="#ff6e00"/><stop offset=".113" stop-color="#ff6600"/><stop offset=".156" stop-color="#fff100"/><stop offset=".186" stop-color="#ffe700"/><stop offset=".225" stop-color="#ff7300"/><stop offset=".247" stop-color="#ffa500"/><stop offset=".268" stop-color="#f9ff06"/><stop offset=".307" stop-color="#adff52"/><stop offset=".411" stop-color="#0afff5"/><stop offset=".485" stop-color="#2affd5"/><stop offset=".545" stop-color="#37ffc8"/><stop offset=".606" stop-color="#00efff"/><stop offset=".732" stop-color="#00a9ff"/><stop offset=".779" stop-color="#0bfff4"/><stop offset=".810" stop-color="#c5ff3a"/><stop offset=".857" stop-color="#deff21"/><stop offset=".957" stop-color="#ffed00"/><stop offset="1.000" stop-color="#ffd600"/></linearGradient>
<linearGradient id="g390"><stop offset=".000" stop-color="#7fff80"/><stop offset=".061" stop-color="#fffc00"/><stop offset=".095" stop-color="#ff8600"/><stop offset=".117" stop-color="#ff9900"/><stop offset=".147" stop-color="#fbff04"/><stop offset=".177" stop-color="#e4ff1b"/><stop offset=".195" stop-color="#fff300"/><stop offset=".225" stop-color="#ff9200"/><stop offset=".247" stop-color="#ffaf00"/><stop offset=".273" stop-color="#f9ff06"/><stop offset=".411" stop-color="#39ffc6"/><stop offset=".554" stop-color="#44ffbb"/><stop offset=".628" stop-color="#07fff8"/><stop offset=".697" stop-color="#00f3ff"/><stop offset=".749" stop-color="#00bbff"/><stop offset=".779" stop-color="#00efff"/><stop offset=".788" stop-color="#22ffdd"/><stop offset=".810" stop-color="#d9ff26"/><stop offset=".823" stop-color="#fff800"/><stop offset=".983" stop-color="#ffaa00"/><stop offset="1.000" stop-color="#ffab00"/></linearGradient>
<linearGradient id="g391"><stop offset=".000" stop-color="#71ff8e"/><stop offset=".065" stop-color="#fff800"/><stop offset=".100" stop-color="#ffad00"/><stop offset=".126" stop-color="#ffc500"/><stop offset=".156" stop-color="#f6ff09"/><stop offset=".195" stop-color="#dcff23"/><stop offset=".238" stop-color="#ecff13"/><stop offset=".355" stop-color="#32ffcd"/><stop offset=".381" stop-color="#00f6ff"/><stop offset=".424" stop-color="#00bfff"/><stop offset=".489" stop-color="#00f8ff"/><stop offset=".567" stop-color="#5fffa0"/><stop offset=".753" stop-color="#09fff6"/><stop offset=".784" stop-color="#2bffd4"/><stop offset=".797" stop-color="#74ff8b"/><stop offset=".810" stop-color="#f3ff0c"/><stop offset=".827" stop-color="#ffb300"/><stop offset=".970" stop-color="#ff6300"/><stop offset="1.000" stop-color="#ff7100"/></linearGradient>
<linearGradient id="g392"><stop offset=".000" stop-color="#55ffaa"/><stop offset=".069" stop-color="#fff000"/><stop offset=".113" stop-color="#ffb300"/><stop offset=".203" stop-color="#f5ff0a"/><stop offset=".294" stop-color="#86ff79"/><stop offset=".346" stop-color="#00f5ff"/><stop offset=".407" stop-color="#003bff"/><stop offset=".446" stop-color="#0024ff"/><stop offset=".494" stop-color="#007eff"/><stop offset=".545" stop-color="#03fffc"/><stop offset=".593" stop-color="#1effe1"/><stop offset=".662" stop-color="#00ecff"/><stop offset=".766" stop-color="#11ffee"/><stop offset=".792" stop-color="#3dffc2"/><stop offset=".805" stop-color="#9fff60"/><stop offset=".814" stop-color="#fff800"/><stop offset=".827" stop-color="#ff8e00"/><stop offset=".853" stop-color="#ff6400"/><stop offset="1.000" stop-color="#ff6000"/></linearGradient>
<linearGradient id="g393"><stop offset=".000" stop-color="#5cffa3"/><stop offset=".043" stop-color="#fffb00"/><stop offset=".078" stop-color="#ffab00"/><stop offset=".130" stop-color="#ffb700"/><stop offset=".255" stop-color="#f7ff08"/><stop offset=".307" stop-color="#68ff97"/><stop offset=".338" stop-color="#00fcff"/><stop offset=".390" stop-color="#007aff"/><stop offset=".446" stop-color="#0069ff"/><stop offset=".511" stop-color="#00b9ff"/><stop offset=".563" stop-color="#07fff8"/><stop offset=".723" stop-color="#00edff"/><stop offset=".775" stop-color="#1cffe3"/><stop offset=".801" stop-color="#59ffa6"/><stop offset=".814" stop-color="#c6ff39"/><stop offset=".818" stop-color="#f6ff09"/><stop offset=".831" stop-color="#ff9900"/><stop offset=".853" stop-color="#ff6f00"/><stop offset="1.000" stop-color="#ffaa00"/></linearGradient>
<linearGradient id="g394"><stop offset=".000" stop-color="#75ff8a"/><stop offset=".026" stop-color="#fff800"/><stop offset=".056" stop-color="#ff6800"/><stop offset=".082" stop-color="#ff4800"/><stop offset=".173" stop-color="#ffbf00"/><stop offset=".247" stop-color="#f2ff0d"/><stop offset=".333" stop-color="#27ffd8"/><stop offset=".463" stop-color="#00eeff"/><stop offset=".541" stop-color="#00e6ff"/><stop offset=".645" stop-color="#00e5ff"/><stop offset=".727" stop-color="#00f5ff"/><stop offset=".805" stop-color="#46ffb9"/><stop offset=".823" stop-color="#b7ff48"/><stop offset=".831" stop-color="#f9ff06"/><stop offset=".853" stop-color="#ffce00"/><stop offset="1.000" stop-color="#ff9b00"/></linearGradient>
<linearGradient id="g395"><stop offset=".000" stop-color="#caff35"/><stop offset=".013" stop-color="#ffec00"/><stop offset=".048" stop-color="#ff4100"/><stop offset=".074" stop-color="#ff2400"/><stop offset=".152" stop-color="#ffdc00"/><stop offset=".268" stop-color="#edff12"/><stop offset=".372" stop-color="#5dffa2"/><stop offset=".472" stop-color="#1affe5"/><stop offset=".506" stop-color="#00e6ff"/><stop offset=".567" stop-color="#00bbff"/><stop offset=".645" stop-color="#00ceff"/><stop offset=".719" stop-color="#00a5ff"/><stop offset=".810" stop-color="#01fffe"/><stop offset=".827" stop-color="#6bff94"/><stop offset=".844" stop-color="#ccff33"/><stop offset=".926" stop-color="#ffef00"/><stop offset="1.000" stop-color="#ffa600"/></linearGradient>
<linearGradient id="g396"><stop offset=".000" stop-color="#f8ff07"/><stop offset=".048" stop-color="#ff4b00"/><stop offset=".078" stop-color="#ff3c00"/><stop offset=".165" stop-color="#fff600"/><stop offset=".229" stop-color="#fff200"/><stop offset=".273" stop-color="#ffd200"/><stop offset=".303" stop-color="#eeff11"/><stop offset=".359" stop-color="#72ff8d"/><stop offset=".424" stop-color="#57ffa8"/><stop offset=".481" stop-color="#27ffd8"/><stop offset=".511" stop-color="#00eeff"/><stop offset=".580" stop-color="#0090ff"/><stop offset=".732" stop-color="#008cff"/><stop offset=".814" stop-color="#08fff7"/><stop offset=".844" stop-color="#a7ff58"/><stop offset=".944" stop-color="#ccff33"/><stop offset=".996" stop-color="#ffea00"/><stop offset="1.000" stop-color="#ffe600"/></linearGradient>
<linearGradient id="g397"><stop offset=".000" stop-color="#d4ff2b"/><stop offset=".017" stop-color="#fff200"/><stop offset=".056" stop-color="#ffbc00"/><stop offset=".134" stop-color="#ffd600"/><stop offset=".195" stop-color="#ffea00"/><stop offset=".238" stop-color="#ff8500"/><stop offset=".264" stop-color="#ff5400"/><stop offset=".290" stop-color="#ff8800"/><stop offset=".320" stop-color="#f7ff08"/><stop offset=".355" stop-color="#a4ff5b"/><stop offset=".459" stop-color="#61ff9e"/><stop offset=".515" stop-color="#00f7ff"/><stop offset=".597" stop-color="#0036ff"/><stop offset=".645" stop-color="#0029ff"/><stop offset=".797" stop-color="#02fffd"/><stop offset=".823" stop-color="#29ffd6"/><stop offset=".848" stop-color="#c3ff3c"/><stop offset=".883" stop-color="#d6ff29"/><stop offset=".991" stop-color="#d4ff2b"/><stop offset="1.000" stop-color="#d7ff28"/></linearGradient>
<linearGradient id="g398"><stop offset=".000" stop-color="#fbff04"/><stop offset=".026" stop-color="#ffb100"/><stop offset=".143" stop-color="#f4ff0b"/><stop offset=".195" stop-color="#efff10"/><stop offset=".216" stop-color="#ffe500"/><stop offset=".260" stop-color="#ff6a00"/><stop offset=".281" stop-color="#ff7c00"/><stop offset=".316" stop-color="#f4ff0b"/><stop offset=".351" stop-color="#9aff65"/><stop offset=".446" stop-color="#73ff8c"/><stop offset=".519" stop-color="#00f6ff"/><stop offset=".615" stop-color="#0035ff"/><stop offset=".684" stop-color="#0017ff"/><stop offset=".732" stop-color="#0071ff"/><stop offset=".792" stop-color="#00ffff"/><stop offset=".823" stop-color="#37ffc8"/><stop offset=".840" stop-color="#b8ff47"/><stop offset=".848" stop-color="#fffc00"/><stop offset=".866" stop-color="#ffbc00"/><stop offset=".931" stop-color="#ffb800"/><stop offset="1.000" stop-color="#fff900"/></linearGradient>
<linearGradient id="g399"><stop offset=".000" stop-color="#ffc600"/><stop offset=".017" stop-color="#ff6700"/><stop offset=".035" stop-color="#ff5c00"/><stop offset=".078" stop-color="#ffc500"/><stop offset=".208" stop-color="#ffdd00"/><stop offset=".264" stop-color="#ffa300"/><stop offset=".294" stop-color="#ffef00"/><stop offset=".329" stop-color="#9eff61"/><stop offset=".381" stop-color="#86ff79"/><stop offset=".446" stop-color="#5affa5"/><stop offset=".519" stop-color="#00f4ff"/><stop offset=".628" stop-color="#0070ff"/><stop offset=".675" stop-color="#0000f8"/><stop offset=".706" stop-color="#0000d9"/><stop offset=".736" stop-color="#0012ff"/><stop offset=".801" stop-color="#00bbff"/><stop offset=".827" stop-color="#0afff5"/><stop offset=".844" stop-color="#b2ff4d"/><stop offset=".853" stop-color="#fff600"/><stop offset=".870" stop-color="#ffa500"/><stop offset=".922" stop-color="#ff6100"/><stop offset=".974" stop-color="#ff9300"/><stop offset="1.000" stop-color="#ffc100"/></linearGradient>
<linearGradient id="g400"><stop offset=".000" stop-color="#ff5400"/><stop offset=".009" stop-color="#ff0600"/><stop offset=".022" stop-color="#c50000"/><stop offset=".035" stop-color="#d10000"/><stop offset=".048" stop-color="#ff1000"/><stop offset=".074" stop-color="#ff7a00"/><stop offset=".212" stop-color="#ffad00"/><stop offset=".264" stop-color="#ff9500"/><stop offset=".303" stop-color="#f8ff07"/><stop offset=".346" stop-color="#81ff7e"/><stop offset=".502" stop-color="#00f8ff"/><stop offset=".649" stop-color="#007dff"/><stop offset=".701" stop-color="#0026ff"/><stop offset=".740" stop-color="#0052ff"/><stop offset=".814" stop-color="#0bfff4"/><stop offset=".831" stop-color="#5fffa0"/><stop offset=".844" stop-color="#eeff11"/><stop offset=".861" stop-color="#ff7f00"/><stop offset=".896" stop-color="#ff4b00"/><stop offset=".970" stop-color="#ff4d00"/><stop offset="1.000" stop-color="#ff6d00"/></linearGradient>
<linearGradient id="g401"><stop offset=".000" stop-color="#ff3300"/><stop offset=".004" stop-color="#ff0700"/><stop offset=".017" stop-color="#ad0000"/><stop offset=".030" stop-color="#ac0000"/><stop offset=".043" stop-color="#f60000"/><stop offset=".069" stop-color="#ff9600"/><stop offset=".095" stop-color="#ffb600"/><stop offset=".225" stop-color="#ff9900"/><stop offset=".273" stop-color="#ffa100"/><stop offset=".325" stop-color="#faff05"/><stop offset=".398" stop-color="#acff53"/><stop offset=".489" stop-color="#08fff7"/><stop offset=".706" stop-color="#0055ff"/><stop offset=".753" stop-color="#009cff"/><stop offset=".797" stop-color="#05fffa"/><stop offset=".827" stop-color="#59ffa6"/><stop offset=".840" stop-color="#cbff34"/><stop offset=".844" stop-color="#ffff00"/><stop offset=".857" stop-color="#ff7d00"/><stop offset=".879" stop-color="#ff3200"/><stop offset=".935" stop-color="#ff0800"/><stop offset=".987" stop-color="#ff5900"/><stop offset="1.000" stop-color="#ff7600"/></linearGradient>
<linearGradient id="g402"><stop offset=".000" stop-color="#ff2300"/><stop offset=".004" stop-color="#f80000"/><stop offset=".017" stop-color="#a20000"/><stop offset=".030" stop-color="#a70000"/><stop offset=".043" stop-color="#f70000"/><stop offset=".069" stop-color="#ffa500"/><stop offset=".095" stop-color="#ffd200"/><stop offset=".221" stop-color="#ffd100"/><stop offset=".273" stop-color="#ffe500"/><stop offset=".307" stop-color="#dbff24"/><stop offset=".368" stop-color="#b5ff4a"/><stop offset=".442" stop-color="#68ff97"/><stop offset=".511" stop-color="#00f8ff"/><stop offset=".580" stop-color="#00e1ff"/><stop offset=".654" stop-color="#00c8ff"/><stop offset=".719" stop-color="#00a1ff"/><stop offset=".818" stop-color="#07fff8"/><stop offset=".835" stop-color="#57ffa8"/><stop offset=".853" stop-color="#fff700"/><stop offset=".870" stop-color="#ff9900"/><stop offset=".926" stop-color="#ff3d00"/><stop offset=".970" stop-color="#ff5200"/><stop offset="1.000" stop-color="#ff8e00"/></linearGradient>
<linearGradient id="g403"><stop offset=".000" stop-color="#f10000"/><stop offset=".013" stop-color="#8d0000"/><stop offset=".030" stop-color="#850000"/><stop offset=".048" stop-color="#f60000"/><stop offset=".074" stop-color="#ff8c00"/><stop offset=".108" stop-color="#ffa600"/><stop offset=".208" stop-color="#ffeb00"/><stop offset=".264" stop-color="#ffe400"/><stop offset=".290" stop-color="#ecff13"/><stop offset=".346" stop-color="#98ff67"/><stop offset=".502" stop-color="#00f7ff"/><stop offset=".688" stop-color="#00adff"/><stop offset=".801" stop-color="#0efff1"/><stop offset=".831" stop-color="#3fffc0"/><stop offset=".857" stop-color="#f9ff06"/><stop offset=".883" stop-color="#ffd800"/><stop offset="1.000" stop-color="#ffde00"/></linearGradient>
<linearGradient id="g404"><stop offset=".000" stop-color="#ff0200"/><stop offset=".013" stop-color="#9d0000"/><stop offset=".026" stop-color="#8c0000"/><stop offset=".043" stop-color="#f10000"/><stop offset=".069" stop-color="#ff9f00"/><stop offset=".095" stop-color="#ffbe00"/><stop offset=".169" stop-color="#ffa900"/><stop offset=".216" stop-color="#ff9200"/><stop offset=".255" stop-color="#ff6b00"/><stop offset=".290" stop-color="#ffc200"/><stop offset=".312" stop-color="#f2ff0d"/><stop offset=".364" stop-color="#a0ff5f"/><stop offset=".459" stop-color="#29ffd6"/><stop offset=".506" stop-color="#00f6ff"/><stop offset=".584" stop-color="#0091ff"/><stop offset=".654" stop-color="#0096ff"/><stop offset=".758" stop-color="#0cfff3"/><stop offset=".831" stop-color="#5fffa0"/><stop offset=".857" stop-color="#f7ff08"/><stop offset=".892" stop-color="#fff300"/><stop offset=".996" stop-color="#f9ff06"/><stop offset="1.000" stop-color="#fcff03"/></linearGradient>
<linearGradient id="g405"><stop offset=".000" stop-color="#e60000"/><stop offset=".009" stop-color="#910000"/><stop offset=".026" stop-color="#800000"/><stop offset=".035" stop-color="#8c0000"/><stop offset=".048" stop-color="#fe0000"/><stop offset=".069" stop-color="#ffa300"/><stop offset=".091" stop-color="#ffd800"/><stop offset=".212" stop-color="#ff8400"/><stop offset=".255" stop-color="#ff5800"/><stop offset=".290" stop-color="#ffab00"/><stop offset=".320" stop-color="#f3ff0c"/><stop offset=".416" stop-color="#6aff95"/><stop offset=".476" stop-color="#a4ff5b"/><stop offset=".498" stop-color="#7aff85"/><stop offset=".519" stop-color="#00f6ff"/><stop offset=".554" stop-color="#0089ff"/><stop offset=".615" stop-color="#003fff"/><stop offset=".697" stop-color="#0048ff"/><stop offset=".814" stop-color="#02fffd"/><stop offset=".835" stop-color="#3effc1"/><stop offset=".861" stop-color="#fbff04"/><stop offset=".909" stop-color="#ffbc00"/><stop offset=".991" stop-color="#ffcc00"/><stop offset="1.000" stop-color="#ffc700"/></linearGradient>
<linearGradient id="g406"><stop offset=".000" stop-color="#d70000"/><stop offset=".009" stop-color="#800000"/><stop offset=".039" stop-color="#8b0000"/><stop offset=".052" stop-color="#ff0c00"/><stop offset=".069" stop-color="#ff9a00"/><stop offset=".091" stop-color="#ffe800"/><stop offset=".139" stop-color="#fff700"/><stop offset=".273" stop-color="#ffcc00"/><stop offset=".329" stop-color="#edff12"/><stop offset=".416" stop-color="#73ff8c"/><stop offset=".442" stop-color="#a5ff5a"/><stop offset=".472" stop-color="#fffd00"/><stop offset=".494" stop-color="#ffeb00"/><stop offset=".498" stop-color="#fffd00"/><stop offset=".524" stop-color="#0efff1"/><stop offset=".584" stop-color="#0067ff"/><stop offset=".654" stop-color="#0019ff"/><stop offset=".719" stop-color="#002cff"/><stop offset=".797" stop-color="#00c2ff"/><stop offset=".823" stop-color="#06fff9"/><stop offset=".840" stop-color="#65ff9a"/><stop offset=".857" stop-color="#fffd00"/><stop offset=".874" stop-color="#ffbd00"/><stop offset=".913" stop-color="#ff9f00"/><stop offset=".974" stop-color="#fdff02"/><stop offset="1.000" stop-color="#fffd00"/></linearGradient>
<linearGradient id="g407"><stop offset=".000" stop-color="#ff5a00"/><stop offset=".009" stop-color="#ff0100"/><stop offset=".022" stop-color="#b90000"/><stop offset=".035" stop-color="#d30000"/><stop offset=".043" stop-color="#ff0b00"/><stop offset=".069" stop-color="#ffb800"/><stop offset=".100" stop-color="#fdff02"/><stop offset=".169" stop-color="#f5ff0a"/><stop offset=".303" stop-color="#ffea00"/><stop offset=".351" stop-color="#ebff14"/><stop offset=".424" stop-color="#5effa1"/><stop offset=".472" stop-color="#98ff67"/><stop offset=".494" stop-color="#f9ff06"/><stop offset=".502" stop-color="#dbff24"/><stop offset=".519" stop-color="#19ffe6"/><stop offset=".528" stop-color="#00ddff"/><stop offset=".567" stop-color="#0094ff"/><stop offset=".697" stop-color="#003eff"/><stop offset=".797" stop-color="#007cff"/><stop offset=".827" stop-color="#00ddff"/><stop offset=".835" stop-color="#11ffee"/><stop offset=".861" stop-color="#e3ff1c"/><stop offset=".879" stop-color="#fff600"/><stop offset=".935" stop-color="#f1ff0e"/><stop offset=".978" stop-color="#d8ff27"/><stop offset="1.000" stop-color="#e7ff18"/></linearGradient>
<linearGradient id="g408"><stop offset=".000" stop-color="#fff900"/><stop offset=".017" stop-color="#ff8700"/><stop offset=".035" stop-color="#ff7c00"/><stop offset=".074" stop-color="#ffe900"/><stop offset=".156" stop-color="#fffb00"/><stop offset=".307" stop-color="#bfff40"/><stop offset=".368" stop-color="#acff53"/><stop offset=".446" stop-color="#41ffbe"/><stop offset=".472" stop-color="#53ffac"/><stop offset=".494" stop-color="#dfff20"/><stop offset=".502" stop-color="#dbff24"/><stop offset=".524" stop-color="#2affd5"/><stop offset=".541" stop-color="#00fbff"/><stop offset=".623" stop-color="#009dff"/><stop offset=".758" stop-color="#00afff"/><stop offset=".801" stop-color="#006eff"/><stop offset=".827" stop-color="#00bdff"/><stop offset=".840" stop-color="#11ffee"/><stop offset=".861" stop-color="#b8ff47"/><stop offset=".887" stop-color="#d9ff26"/><stop offset="1.000" stop-color="#d2ff2d"/></linearGradient>
<linearGradient id="g409"><stop offset=".000" stop-color="#c9ff36"/><stop offset=".013" stop-color="#fffa00"/><stop offset=".035" stop-color="#ffe000"/><stop offset=".074" stop-color="#f3ff0c"/><stop offset=".169" stop-color="#f0ff0f"/><stop offset=".247" stop-color="#aeff51"/><stop offset=".312" stop-color="#78ff87"/><stop offset=".394" stop-color="#71ff8e"/><stop offset=".472" stop-color="#33ffcc"/><stop offset=".498" stop-color="#88ff77"/><stop offset=".528" stop-color="#05fffa"/><stop offset=".654" stop-color="#00d4ff"/><stop offset=".771" stop-color="#00feff"/><stop offset=".814" stop-color="#0afff5"/><stop offset=".840" stop-color="#67ff98"/><stop offset=".861" stop-color="#efff10"/><stop offset=".896" stop-color="#f8ff07"/><stop offset="1.000" stop-color="#e1ff1e"/></linearGradient>
<linearGradient id="g410" x1="0" y1="0" x2="0" y2="1"><stop offset="0" stop-color="#800000"/><stop offset="0.06" stop-color="#bf0000"/><stop offset="0.12" stop-color="#ff0000"/><stop offset="0.19" stop-color="#ff4000"/><stop offset="0.25" stop-color="#ff8000"/><stop offset="0.31" stop-color="#ffbf00"/><stop offset="0.38" stop-color="#ffff00"/><stop offset="0.44" stop-color="#bfff40"/><stop offset="0.5" stop-color="#80ff80"/><stop offset="0.56" stop-color="#40ffbf"/><stop offset="0.62" stop-color="#00ffff"/><stop offset="0.69" stop-color="#00bfff"/><stop offset="0.75" stop-color="#0080ff"/><stop offset="0.81" stop-color="#0040ff"/><stop offset="0.88" stop-color="#0000ff"/><stop offset="0.94" stop-color="#0000bf"/><stop offset="1" stop-color="#000080"/></linearGradient>
<linearGradient id="g411"><stop offset=".000" stop-color="#74ff8b"/><stop offset=".079" stop-color="#56ffa9"/><stop offset=".144" stop-color="#7dff82"/><stop offset=".240" stop-color="#e3ff1c"/><stop offset=".301" stop-color="#ffea00"/><stop offset=".358" stop-color="#f1ff0e"/><stop offset=".437" stop-color="#75ff8a"/><stop offset=".480" stop-color="#96ff69"/><stop offset=".524" stop-color="#fff700"/><stop offset=".559" stop-color="#ffc000"/><stop offset=".620" stop-color="#f2ff0d"/><stop offset=".830" stop-color="#f3ff0c"/><stop offset=".891" stop-color="#8aff75"/><stop offset=".943" stop-color="#03fffc"/><stop offset=".983" stop-color="#16ffe9"/><stop offset="1.000" stop-color="#33ffcc"/></linearGradient>
<linearGradient id="g412"><stop offset=".000" stop-color="#aaff55"/><stop offset=".087" stop-color="#81ff7e"/><stop offset=".135" stop-color="#3fffc0"/><stop offset=".301" stop-color="#fff900"/><stop offset=".362" stop-color="#e4ff1b"/><stop offset=".459" stop-color="#8eff71"/><stop offset=".498" stop-color="#c0ff3f"/><stop offset=".520" stop-color="#fff300"/><stop offset=".555" stop-color="#ff8e00"/><stop offset=".581" stop-color="#ffa600"/><stop offset=".616" stop-color="#f8ff07"/><stop offset=".659" stop-color="#c5ff3a"/><stop offset=".721" stop-color="#faff05"/><stop offset=".790" stop-color="#ff9300"/><stop offset=".834" stop-color="#ffb800"/><stop offset=".869" stop-color="#ecff13"/><stop offset=".926" stop-color="#00f6ff"/><stop offset=".952" stop-color="#00c2ff"/><stop offset=".987" stop-color="#10ffef"/><stop offset="1.000" stop-color="#3cffc3"/></linearGradient>
<linearGradient id="g413"><stop offset=".000" stop-color="#95ff6a"/><stop offset=".061" stop-color="#4effb1"/><stop offset=".087" stop-color="#00feff"/><stop offset=".122" stop-color="#0091ff"/><stop offset=".144" stop-color="#00a0ff"/><stop offset=".170" stop-color="#02fffd"/><stop offset=".210" stop-color="#73ff8c"/><stop offset=".319" stop-color="#d9ff26"/><stop offset=".393" stop-color="#adff52"/><stop offset=".467" stop-color="#8cff73"/><stop offset=".524" stop-color="#d8ff27"/><stop offset=".563" stop-color="#feff01"/><stop offset=".646" stop-color="#86ff79"/><stop offset=".707" stop-color="#9dff62"/><stop offset=".755" stop-color="#fff700"/><stop offset=".795" stop-color="#ffb700"/><stop offset=".830" stop-color="#ffe600"/><stop offset=".847" stop-color="#e6ff19"/><stop offset=".895" stop-color="#21ffde"/><stop offset=".908" stop-color="#00dbff"/><stop offset=".939" stop-color="#005fff"/><stop offset=".961" stop-color="#005fff"/><stop offset="1.000" stop-color="#00f7ff"/></linearGradient>
<linearGradient id="g414"><stop offset=".000" stop-color="#8dff72"/><stop offset=".048" stop-color="#73ff8c"/><stop offset=".092" stop-color="#00f0ff"/><stop offset=".122" stop-color="#00a6ff"/><stop offset=".148" stop-color="#00cbff"/><stop offset=".166" stop-color="#0afff5"/><stop offset=".205" stop-color="#72ff8d"/><stop offset=".362" stop-color="#9bff64"/><stop offset=".498" stop-color="#3effc1"/><stop offset=".598" stop-color="#7eff81"/><stop offset=".703" stop-color="#45ffba"/><stop offset=".742" stop-color="#9aff65"/><stop offset=".782" stop-color="#ffff00"/><stop offset=".812" stop-color="#e2ff1d"/><stop offset=".886" stop-color="#00f7ff"/><stop offset=".939" stop-color="#0067ff"/><stop offset=".965" stop-color="#007bff"/><stop offset="1.000" stop-color="#00ecff"/></linearGradient>
<linearGradient id="g415"><stop offset=".000" stop-color="#75ff8a"/><stop offset=".044" stop-color="#87ff78"/><stop offset=".083" stop-color="#2fffd0"/><stop offset=".100" stop-color="#00f4ff"/><stop offset=".135" stop-color="#00b4ff"/><stop offset=".175" stop-color="#00edff"/><stop offset=".210" stop-color="#36ffc9"/><stop offset=".341" stop-color="#aeff51"/><stop offset=".406" stop-color="#83ff7c"/><stop offset=".476" stop-color="#41ffbe"/><stop offset=".581" stop-color="#8bff74"/><stop offset=".699" stop-color="#55ffaa"/><stop offset=".747" stop-color="#b6ff49"/><stop offset=".782" stop-color="#f3ff0c"/><stop offset=".812" stop-color="#bfff40"/><stop offset=".869" stop-color="#00faff"/><stop offset=".930" stop-color="#0090ff"/><stop offset=".965" stop-color="#00b8ff"/><stop offset=".996" stop-color="#12ffed"/><stop offset="1.000" stop-color="#1effe1"/></linearGradient>
<linearGradient id="g416"><stop offset=".000" stop-color="#37ffc8"/><stop offset=".052" stop-color="#2fffd0"/><stop offset=".079" stop-color="#00edff"/><stop offset=".127" stop-color="#0057ff"/><stop offset=".157" stop-color="#0067ff"/><stop offset=".218" stop-color="#06fff9"/><stop offset=".354" stop-color="#a7ff58"/><stop offset=".498" stop-color="#a5ff5a"/><stop offset=".563" stop-color="#adff52"/><stop offset=".668" stop-color="#53ffac"/><stop offset=".721" stop-color="#81ff7e"/><stop offset=".786" stop-color="#fbff04"/><stop offset=".825" stop-color="#d6ff29"/><stop offset=".904" stop-color="#00f4ff"/><stop offset=".943" stop-color="#00aaff"/><stop offset=".983" stop-color="#00d4ff"/><stop offset="1.000" stop-color="#00f8ff"/></linearGradient>
<linearGradient id="g417"><stop offset=".000" stop-color="#41ffbe"/><stop offset=".044" stop-color="#2fffd0"/><stop offset=".066" stop-color="#00f5ff"/><stop offset=".122" stop-color="#001dff"/><stop offset=".148" stop-color="#0015ff"/><stop offset=".236" stop-color="#00f9ff"/><stop offset=".402" stop-color="#aeff51"/><stop offset=".476" stop-color="#a3ff5c"/><stop offset=".633" stop-color="#29ffd6"/><stop offset=".703" stop-color="#73ff8c"/><stop offset=".795" stop-color="#cfff30"/><stop offset=".852" stop-color="#a6ff59"/><stop offset=".934" stop-color="#00f7ff"/><stop offset=".987" stop-color="#00efff"/><stop offset="1.000" stop-color="#00f8ff"/></linearGradient>
<linearGradient id="g418"><stop offset=".000" stop-color="#6cff93"/><stop offset=".048" stop-color="#38ffc7"/><stop offset=".074" stop-color="#00f5ff"/><stop offset=".118" stop-color="#009dff"/><stop offset=".153" stop-color="#00c0ff"/><stop offset=".179" stop-color="#09fff6"/><stop offset=".223" stop-color="#59ffa6"/><stop offset=".323" stop-color="#74ff8b"/><stop offset=".441" stop-color="#adff52"/><stop offset=".568" stop-color="#56ffa9"/><stop offset=".716" stop-color="#87ff78"/><stop offset=".830" stop-color="#bdff42"/><stop offset=".930" stop-color="#65ff9a"/><stop offset="1.000" stop-color="#47ffb8"/></linearGradient>
<linearGradient id="g419"><stop offset=".000" stop-color="#a4ff5b"/><stop offset=".109" stop-color="#50ffaf"/><stop offset=".170" stop-color="#a8ff57"/><stop offset=".218" stop-color="#ceff31"/><stop offset=".301" stop-color="#baff45"/><stop offset=".380" stop-color="#eaff15"/><stop offset=".502" stop-color="#a9ff56"/><stop offset=".581" stop-color="#82ff7d"/><stop offset=".729" stop-color="#7fff80"/><stop offset=".847" stop-color="#bdff42"/><stop offset="1.000" stop-color="#76ff89"/></linearGradient>
<linearGradient id="g420"><stop offset=".000" stop-color="#d5ff2a"/><stop offset=".096" stop-color="#d3ff2c"/><stop offset=".148" stop-color="#ffee00"/><stop offset=".210" stop-color="#ffcd00"/><stop offset=".288" stop-color="#ffec00"/><stop offset=".358" stop-color="#ffb800"/><stop offset=".410" stop-color="#f2ff0d"/><stop offset=".498" stop-color="#89ff76"/><stop offset=".563" stop-color="#a2ff5d"/><stop offset=".668" stop-color="#e3ff1c"/><stop offset=".790" stop-color="#c3ff3c"/><stop offset=".878" stop-color="#d6ff29"/><stop offset="1.000" stop-color="#cfff30"/></linearGradient>
<linearGradient id="g421"><stop offset=".000" stop-color="#c2ff3d"/><stop offset=".096" stop-color="#ceff31"/><stop offset=".214" stop-color="#ffee00"/><stop offset=".297" stop-color="#ffac00"/><stop offset=".345" stop-color="#ff6f00"/><stop offset=".380" stop-color="#ffbf00"/><stop offset=".402" stop-color="#f6ff09"/><stop offset=".445" stop-color="#acff53"/><stop offset=".528" stop-color="#9aff65"/><stop offset=".607" stop-color="#fff400"/><stop offset=".664" stop-color="#ffc700"/><stop offset=".716" stop-color="#f3ff0c"/><stop offset=".769" stop-color="#d6ff29"/><stop offset=".852" stop-color="#fdff02"/><stop offset=".934" stop-color="#b3ff4c"/><stop offset="1.000" stop-color="#b9ff46"/></linearGradient>
<linearGradient id="g422"><stop offset=".000" stop-color="#92ff6d"/><stop offset=".144" stop-color="#8dff72"/><stop offset=".210" stop-color="#fff700"/><stop offset=".262" stop-color="#ffe200"/><stop offset=".310" stop-color="#ffc200"/><stop offset=".349" stop-color="#ff8f00"/><stop offset=".384" stop-color="#ffcb00"/><stop offset=".406" stop-color="#efff10"/><stop offset=".459" stop-color="#7dff82"/><stop offset=".533" stop-color="#54ffab"/><stop offset=".585" stop-color="#89ff76"/><stop offset=".633" stop-color="#fff400"/><stop offset=".668" stop-color="#ffc400"/><stop offset=".707" stop-color="#f3ff0c"/><stop offset=".755" stop-color="#8eff71"/><stop offset=".803" stop-color="#a2ff5d"/><stop offset=".852" stop-color="#beff41"/><stop offset=".930" stop-color="#3affc5"/><stop offset="1.000" stop-color="#6aff95"/></linearGradient>
<linearGradient id="g423"><stop offset=".000" stop-color="#4bffb4"/><stop offset=".057" stop-color="#48ffb7"/><stop offset=".122" stop-color="#1dffe2"/><stop offset=".157" stop-color="#5dffa2"/><stop offset=".210" stop-color="#fffb00"/><stop offset=".240" stop-color="#fff200"/><stop offset=".271" stop-color="#cbff34"/><stop offset=".306" stop-color="#99ff66"/><stop offset=".376" stop-color="#fffa00"/><stop offset=".406" stop-color="#e5ff1a"/><stop offset=".454" stop-color="#6fff90"/><stop offset=".572" stop-color="#5affa5"/><stop offset=".651" stop-color="#fffc00"/><stop offset=".686" stop-color="#f2ff0d"/><stop offset=".751" stop-color="#6bff94"/><stop offset=".790" stop-color="#92ff6d"/><stop offset=".843" stop-color="#e0ff1f"/><stop offset=".878" stop-color="#a5ff5a"/><stop offset=".943" stop-color="#02fffd"/><stop offset=".996" stop-color="#00edff"/><stop offset="1.000" stop-color="#00f0ff"/></linearGradient>
<linearGradient id="g424"><stop offset=".000" stop-color="#59ffa6"/><stop offset=".044" stop-color="#6cff93"/><stop offset=".105" stop-color="#00efff"/><stop offset=".131" stop-color="#00dfff"/><stop offset=".148" stop-color="#12ffed"/><stop offset=".197" stop-color="#fffe00"/><stop offset=".223" stop-color="#ffc500"/><stop offset=".253" stop-color="#f0ff0f"/><stop offset=".297" stop-color="#29ffd6"/><stop offset=".314" stop-color="#27ffd8"/><stop offset=".362" stop-color="#fffe00"/><stop offset=".389" stop-color="#ff9f00"/><stop offset=".406" stop-color="#ffab00"/><stop offset=".428" stop-color="#f0ff0f"/><stop offset=".459" stop-color="#7aff85"/><stop offset=".572" stop-color="#27ffd8"/><stop offset=".603" stop-color="#72ff8d"/><stop offset=".638" stop-color="#fff100"/><stop offset=".664" stop-color="#ffae00"/><stop offset=".690" stop-color="#ffce00"/><stop offset=".707" stop-color="#f1ff0e"/><stop offset=".751" stop-color="#49ffb6"/><stop offset=".773" stop-color="#50ffaf"/><stop offset=".830" stop-color="#fffc00"/><stop offset=".852" stop-color="#fff300"/><stop offset=".869" stop-color="#d6ff29"/><stop offset=".913" stop-color="#00feff"/><stop offset=".943" stop-color="#00a8ff"/><stop offset=".974" stop-color="#00b0ff"/><stop offset="1.000" stop-color="#00e5ff"/></linearGradient>
<linearGradient id="g425"><stop offset=".000" stop-color="#74ff8b"/><stop offset=".031" stop-color="#deff21"/><stop offset=".052" stop-color="#d1ff2e"/><stop offset=".092" stop-color="#1bffe4"/><stop offset=".100" stop-color="#00e8ff"/><stop offset=".122" stop-color="#008eff"/><stop offset=".135" stop-color="#0099ff"/><stop offset=".153" stop-color="#06fff9"/><stop offset=".179" stop-color="#f6ff09"/><stop offset=".205" stop-color="#ff4e00"/><stop offset=".223" stop-color="#ff2600"/><stop offset=".240" stop-color="#ff5500"/><stop offset=".262" stop-color="#fff000"/><stop offset=".279" stop-color="#64ff9b"/><stop offset=".288" stop-color="#0efff1"/><stop offset=".306" stop-color="#00a9ff"/><stop offset=".319" stop-color="#00c3ff"/><stop offset=".328" stop-color="#00f9ff"/><stop offset=".362" stop-color="#fdff02"/><stop offset=".389" stop-color="#ff7000"/><stop offset=".406" stop-color="#ff7100"/><stop offset=".432" stop-color="#feff01"/><stop offset=".459" stop-color="#7aff85"/><stop offset=".528" stop-color="#00f3ff"/><stop offset=".563" stop-color="#00c5ff"/><stop offset=".590" stop-color="#01fffe"/><stop offset=".633" stop-color="#fffe00"/><stop offset=".655" stop-color="#ffa500"/><stop offset=".677" stop-color="#ffab00"/><stop offset=".699" stop-color="#f4ff0b"/><stop offset=".738" stop-color="#00f5ff"/><stop offset=".755" stop-color="#00b7ff"/><stop offset=".773" stop-color="#00e4ff"/><stop offset=".782" stop-color="#19ffe6"/><stop offset=".817" stop-color="#fff500"/><stop offset=".838" stop-color="#ff8e00"/><stop offset=".856" stop-color="#ff9500"/><stop offset=".873" stop-color="#fff100"/><stop offset=".895" stop-color="#5fffa0"/><stop offset=".908" stop-color="#00faff"/><stop offset=".934" stop-color="#0075ff"/><stop offset=".956" stop-color="#0069ff"/><stop offset=".996" stop-color="#05fffa"/><stop offset="1.000" stop-color="#17ffe8"/></linearGradient>
<linearGradient id="g426"><stop offset=".000" stop-color="#e1ff1e"/><stop offset=".009" stop-color="#ffea00"/><stop offset=".031" stop-color="#ff8e00"/><stop offset=".048" stop-color="#ffa000"/><stop offset=".066" stop-color="#fbff04"/><stop offset=".096" stop-color="#03fffc"/><stop offset=".118" stop-color="#005eff"/><stop offset=".131" stop-color="#0044ff"/><stop offset=".144" stop-color="#007fff"/><stop offset=".157" stop-color="#00feff"/><stop offset=".179" stop-color="#feff01"/><stop offset=".201" stop-color="#ff3100"/><stop offset=".210" stop-color="#fb0000"/><stop offset=".223" stop-color="#dc0000"/><stop offset=".236" stop-color="#fc0000"/><stop offset=".253" stop-color="#ff7b00"/><stop offset=".266" stop-color="#f9ff06"/><stop offset=".284" stop-color="#23ffdc"/><stop offset=".288" stop-color="#00f0ff"/><stop offset=".301" stop-color="#0085ff"/><stop offset=".314" stop-color="#0082ff"/><stop offset=".332" stop-color="#00feff"/><stop offset=".362" stop-color="#e7ff18"/><stop offset=".371" stop-color="#ffe400"/><stop offset=".393" stop-color="#ff9400"/><stop offset=".410" stop-color="#ffa700"/><stop offset=".432" stop-color="#f5ff0a"/><stop offset=".467" stop-color="#78ff87"/><stop offset=".515" stop-color="#00fcff"/><stop offset=".559" stop-color="#0055ff"/><stop offset=".581" stop-color="#005bff"/><stop offset=".603" stop-color="#00cbff"/><stop offset=".611" stop-color="#11ffee"/><stop offset=".638" stop-color="#f6ff09"/><stop offset=".659" stop-color="#ff8600"/><stop offset=".677" stop-color="#ff7800"/><stop offset=".699" stop-color="#ffd300"/><stop offset=".707" stop-color="#efff10"/><stop offset=".738" stop-color="#00f3ff"/><stop offset=".751" stop-color="#00aaff"/><stop offset=".764" stop-color="#00a8ff"/><stop offset=".782" stop-color="#0afff5"/><stop offset=".812" stop-color="#f6ff09"/><stop offset=".838" stop-color="#ff7200"/><stop offset=".856" stop-color="#ff7000"/><stop offset=".873" stop-color="#ffce00"/><stop offset=".882" stop-color="#e9ff16"/><stop offset=".908" stop-color="#00fbff"/><stop offset=".934" stop-color="#0049ff"/><stop offset=".952" stop-color="#0024ff"/><stop offset=".974" stop-color="#0060ff"/><stop offset="1.000" stop-color="#00ebff"/></linearGradient>
<linearGradient id="g427"><stop offset=".000" stop-color="#b1ff4e"/><stop offset=".013" stop-color="#feff01"/><stop offset=".035" stop-color="#ffae00"/><stop offset=".052" stop-color="#ffcd00"/><stop offset=".061" stop-color="#fffa00"/><stop offset=".096" stop-color="#01fffe"/><stop offset=".118" stop-color="#006cff"/><stop offset=".131" stop-color="#0057ff"/><stop offset=".144" stop-color="#0091ff"/><stop offset=".157" stop-color="#0dfff2"/><stop offset=".179" stop-color="#fff100"/><stop offset=".201" stop-color="#ff1600"/><stop offset=".210" stop-color="#dd0000"/><stop offset=".223" stop-color="#bb0000"/><stop offset=".236" stop-color="#de0000"/><stop offset=".245" stop-color="#ff1800"/><stop offset=".266" stop-color="#ffec00"/><stop offset=".279" stop-color="#7dff82"/><stop offset=".293" stop-color="#00faff"/><stop offset=".306" stop-color="#00b9ff"/><stop offset=".319" stop-color="#00d1ff"/><stop offset=".328" stop-color="#04fffb"/><stop offset=".358" stop-color="#aaff55"/><stop offset=".389" stop-color="#f7ff08"/><stop offset=".419" stop-color="#d7ff28"/><stop offset=".463" stop-color="#87ff78"/><stop offset=".507" stop-color="#5fffa0"/><stop offset=".533" stop-color="#00fdff"/><stop offset=".563" stop-color="#0084ff"/><stop offset=".581" stop-color="#0088ff"/><stop offset=".598" stop-color="#00ddff"/><stop offset=".603" stop-color="#00feff"/><stop offset=".629" stop-color="#fcff03"/><stop offset=".651" stop-color="#ff4800"/><stop offset=".668" stop-color="#ff0d00"/><stop offset=".686" stop-color="#ff3600"/><stop offset=".712" stop-color="#fff100"/><stop offset=".742" stop-color="#0dfff2"/><stop offset=".760" stop-color="#00d3ff"/><stop offset=".777" stop-color="#0bfff4"/><stop offset=".812" stop-color="#f7ff08"/><stop offset=".838" stop-color="#ff7000"/><stop offset=".856" stop-color="#ff6700"/><stop offset=".873" stop-color="#ffbd00"/><stop offset=".882" stop-color="#fbff04"/><stop offset=".908" stop-color="#06fff9"/><stop offset=".934" stop-color="#003eff"/><stop offset=".952" stop-color="#0011ff"/><stop offset=".969" stop-color="#003bff"/><stop offset="1.000" stop-color="#00e9ff"/></linearGradient>
<linearGradient id="g428"><stop offset=".000" stop-color="#70ff8f"/><stop offset=".035" stop-color="#f9ff06"/><stop offset=".057" stop-color="#edff12"/><stop offset=".096" stop-color="#3fffc0"/><stop offset=".109" stop-color="#00fbff"/><stop offset=".127" stop-color="#00c8ff"/><stop offset=".144" stop-color="#00ecff"/><stop offset=".153" stop-color="#21ffde"/><stop offset=".179" stop-color="#fff300"/><stop offset=".205" stop-color="#ff0800"/><stop offset=".223" stop-color="#c20000"/><stop offset=".240" stop-color="#ed0000"/><stop offset=".249" stop-color="#ff2500"/><stop offset=".275" stop-color="#f9ff06"/><stop offset=".297" stop-color="#57ffa8"/><stop offset=".314" stop-color="#2cffd3"/><stop offset=".384" stop-color="#82ff7d"/><stop offset=".493" stop-color="#80ff7f"/><stop offset=".528" stop-color="#1fffe0"/><stop offset=".541" stop-color="#00e7ff"/><stop offset=".568" stop-color="#0099ff"/><stop offset=".590" stop-color="#00b9ff"/><stop offset=".603" stop-color="#02fffd"/><stop offset=".633" stop-color="#fffb00"/><stop offset=".655" stop-color="#ff6000"/><stop offset=".672" stop-color="#ff3800"/><stop offset=".694" stop-color="#ff7900"/><stop offset=".716" stop-color="#fffd00"/><stop offset=".747" stop-color="#5bffa4"/><stop offset=".769" stop-color="#4bffb4"/><stop offset=".799" stop-color="#bcff43"/><stop offset=".812" stop-color="#fffc00"/><stop offset=".838" stop-color="#ff8300"/><stop offset=".856" stop-color="#ff7c00"/><stop offset=".878" stop-color="#ffe400"/><stop offset=".882" stop-color="#faff05"/><stop offset=".913" stop-color="#00f9ff"/><stop offset=".934" stop-color="#0066ff"/><stop offset=".952" stop-color="#0038ff"/><stop offset=".974" stop-color="#0068ff"/><stop offset="1.000" stop-color="#00e4ff"/></linearGradient>
<linearGradient id="g429"><stop offset=".000" stop-color="#4cffb3"/><stop offset=".044" stop-color="#b1ff4e"/><stop offset=".079" stop-color="#93ff6c"/><stop offset=".127" stop-color="#37ffc8"/><stop offset=".148" stop-color="#57ffa8"/><stop offset=".175" stop-color="#e1ff1e"/><stop offset=".179" stop-color="#ffff00"/><stop offset=".210" stop-color="#ff3600"/><stop offset=".227" stop-color="#ff1400"/><stop offset=".249" stop-color="#ff5d00"/><stop offset=".275" stop-color="#fffc00"/><stop offset=".306" stop-color="#88ff77"/><stop offset=".472" stop-color="#5effa1"/><stop offset=".524" stop-color="#00f9ff"/><stop offset=".563" stop-color="#00abff"/><stop offset=".590" stop-color="#00d7ff"/><stop offset=".598" stop-color="#00feff"/><stop offset=".638" stop-color="#fff900"/><stop offset=".659" stop-color="#ff8d00"/><stop offset=".681" stop-color="#ff8600"/><stop offset=".712" stop-color="#f9ff06"/><stop offset=".747" stop-color="#69ff96"/><stop offset=".773" stop-color="#5cffa3"/><stop offset=".808" stop-color="#c0ff3f"/><stop offset=".825" stop-color="#fffa00"/><stop offset=".847" stop-color="#ffd000"/><stop offset=".869" stop-color="#fbff04"/><stop offset=".913" stop-color="#00fdff"/><stop offset=".939" stop-color="#008eff"/><stop offset=".961" stop-color="#0083ff"/><stop offset="1.000" stop-color="#00faff"/></linearGradient>
<linearGradient id="g430"><stop offset=".000" stop-color="#3bffc4"/><stop offset=".070" stop-color="#53ffac"/><stop offset=".131" stop-color="#6eff91"/><stop offset=".170" stop-color="#dcff23"/><stop offset=".183" stop-color="#ffe800"/><stop offset=".214" stop-color="#ff7a00"/><stop offset=".236" stop-color="#ff8400"/><stop offset=".271" stop-color="#fcff03"/><stop offset=".306" stop-color="#b3ff4c"/><stop offset=".437" stop-color="#9bff64"/><stop offset=".493" stop-color="#8aff75"/><stop offset=".559" stop-color="#0efff1"/><stop offset=".590" stop-color="#36ffc9"/><stop offset=".638" stop-color="#fff700"/><stop offset=".664" stop-color="#ffb700"/><stop offset=".690" stop-color="#ffe400"/><stop offset=".703" stop-color="#e9ff16"/><stop offset=".742" stop-color="#6fff90"/><stop offset=".777" stop-color="#70ff8f"/><stop offset=".843" stop-color="#fffa00"/><stop offset=".873" stop-color="#ebff14"/><stop offset=".943" stop-color="#31ffce"/><stop offset=".983" stop-color="#2effd1"/><stop offset="1.000" stop-color="#42ffbd"/></linearGradient>
<linearGradient id="g431"><stop offset=".000" stop-color="#41ffbe"/><stop offset=".105" stop-color="#39ffc6"/><stop offset=".162" stop-color="#84ff7b"/><stop offset=".210" stop-color="#fffb00"/><stop offset=".249" stop-color="#eeff11"/><stop offset=".293" stop-color="#b2ff4d"/><stop offset=".424" stop-color="#aaff55"/><stop offset=".485" stop-color="#edff12"/><stop offset=".520" stop-color="#abff54"/><stop offset=".559" stop-color="#51ffae"/><stop offset=".594" stop-color="#70ff8f"/><stop offset=".655" stop-color="#fbff04"/><stop offset=".690" stop-color="#e2ff1d"/><stop offset=".742" stop-color="#98ff67"/><stop offset=".799" stop-color="#baff45"/><stop offset=".847" stop-color="#fff800"/><stop offset=".886" stop-color="#e7ff18"/><stop offset=".948" stop-color="#83ff7c"/><stop offset="1.000" stop-color="#9dff62"/></linearGradient>
<linearGradient id="g432"><stop offset=".000" stop-color="#14ffeb"/><stop offset=".052" stop-color="#00f1ff"/><stop offset=".127" stop-color="#13ffec"/><stop offset=".183" stop-color="#8eff71"/><stop offset=".223" stop-color="#dcff23"/><stop offset=".428" stop-color="#93ff6c"/><stop offset=".480" stop-color="#fff600"/><stop offset=".507" stop-color="#fff500"/><stop offset=".559" stop-color="#91ff6e"/><stop offset=".672" stop-color="#c3ff3c"/><stop offset=".786" stop-color="#89ff76"/><stop offset=".856" stop-color="#a9ff56"/><stop offset=".926" stop-color="#72ff8d"/><stop offset=".983" stop-color="#cfff30"/><stop offset="1.000" stop-color="#f1ff0e"/></linearGradient>
<linearGradient id="g433"><stop offset=".000" stop-color="#53ffac"/><stop offset=".057" stop-color="#00f2ff"/><stop offset=".114" stop-color="#00d0ff"/><stop offset=".157" stop-color="#0cfff3"/><stop offset=".227" stop-color="#a2ff5d"/><stop offset=".432" stop-color="#ecff13"/><stop offset=".450" stop-color="#ffe600"/><stop offset=".485" stop-color="#ff7500"/><stop offset=".507" stop-color="#ff8100"/><stop offset=".541" stop-color="#f7ff08"/><stop offset=".572" stop-color="#bcff43"/><stop offset=".659" stop-color="#a0ff5f"/><stop offset=".742" stop-color="#5effa1"/><stop offset=".821" stop-color="#9fff60"/><stop offset=".873" stop-color="#aaff55"/><stop offset=".948" stop-color="#6cff93"/><stop offset="1.000" stop-color="#90ff6f"/></linearGradient>
<linearGradient id="g434"><stop offset=".000" stop-color="#33ffcc"/><stop offset=".035" stop-color="#00f1ff"/><stop offset=".100" stop-color="#0099ff"/><stop offset=".148" stop-color="#00bcff"/><stop offset=".188" stop-color="#0dfff2"/><stop offset=".328" stop-color="#fff100"/><stop offset=".376" stop-color="#ffcf00"/><stop offset=".437" stop-color="#ffec00"/><stop offset=".489" stop-color="#ffa100"/><stop offset=".515" stop-color="#ffde00"/><stop offset=".528" stop-color="#e9ff16"/><stop offset=".563" stop-color="#78ff87"/><stop offset=".725" stop-color="#3dffc2"/><stop offset=".886" stop-color="#d5ff2a"/><stop offset=".961" stop-color="#8dff72"/><stop offset="1.000" stop-color="#8aff75"/></linearGradient>
<linearGradient id="g435"><stop offset=".000" stop-color="#6fff90"/><stop offset=".100" stop-color="#2cffd3"/><stop offset=".240" stop-color="#96ff69"/><stop offset=".301" stop-color="#e3ff1c"/><stop offset=".332" stop-color="#ffe500"/><stop offset=".384" stop-color="#ffd800"/><stop offset=".454" stop-color="#ffe600"/><stop offset=".502" stop-color="#ffeb00"/><stop offset=".528" stop-color="#deff21"/><stop offset=".585" stop-color="#87ff78"/><stop offset=".677" stop-color="#7dff82"/><stop offset=".817" stop-color="#a5ff5a"/><stop offset=".856" stop-color="#daff25"/><stop offset=".886" stop-color="#feff01"/><stop offset=".943" stop-color="#86ff79"/><stop offset="1.000" stop-color="#9eff61"/></linearGradient>
<linearGradient id="g436"><stop offset=".000" stop-color="#9cff63"/><stop offset=".061" stop-color="#c0ff3f"/><stop offset=".153" stop-color="#a4ff5b"/><stop offset=".266" stop-color="#d8ff27"/><stop offset=".310" stop-color="#ffee00"/><stop offset=".371" stop-color="#ffe100"/><stop offset=".459" stop-color="#e8ff17"/><stop offset=".541" stop-color="#95ff6a"/><stop offset=".620" stop-color="#53ffac"/><stop offset=".738" stop-color="#84ff7b"/><stop offset=".825" stop-color="#b7ff48"/><stop offset=".856" stop-color="#fff200"/><stop offset=".882" stop-color="#ffba00"/><stop offset=".921" stop-color="#efff10"/><stop offset=".956" stop-color="#c9ff36"/><stop offset="1.000" stop-color="#cfff30"/></linearGradient>
<linearGradient id="g437"><stop offset=".000" stop-color="#b1ff4e"/><stop offset=".061" stop-color="#f3ff0c"/><stop offset=".166" stop-color="#dfff20"/><stop offset=".319" stop-color="#f9ff06"/><stop offset=".397" stop-color="#dfff20"/><stop offset=".476" stop-color="#dbff24"/><stop offset=".572" stop-color="#73ff8c"/><stop offset=".769" stop-color="#a0ff5f"/><stop offset=".852" stop-color="#fff000"/><stop offset=".882" stop-color="#ffd300"/><stop offset=".913" stop-color="#eeff11"/><stop offset=".948" stop-color="#beff41"/><stop offset="1.000" stop-color="#cbff34"/></linearGradient>
<linearGradient id="g438"><stop offset=".000" stop-color="#85ff7a"/><stop offset=".074" stop-color="#e2ff1d"/><stop offset=".166" stop-color="#dfff20"/><stop offset=".218" stop-color="#ffeb00"/><stop offset=".319" stop-color="#ff9300"/><stop offset=".437" stop-color="#f0ff0f"/><stop offset=".511" stop-color="#a5ff5a"/><stop offset=".581" stop-color="#8cff73"/><stop offset=".642" stop-color="#30ffcf"/><stop offset=".686" stop-color="#6dff92"/><stop offset=".738" stop-color="#baff45"/><stop offset=".838" stop-color="#e0ff1f"/><stop offset=".886" stop-color="#f4ff0b"/><stop offset=".956" stop-color="#a5ff5a"/><stop offset="1.000" stop-color="#a0ff5f"/></linearGradient>
<linearGradient id="g439"><stop offset=".000" stop-color="#72ff8d"/><stop offset=".131" stop-color="#b6ff49"/><stop offset=".245" stop-color="#f4ff0b"/><stop offset=".332" stop-color="#ffc300"/><stop offset=".406" stop-color="#f2ff0d"/><stop offset=".498" stop-color="#6fff90"/><stop offset=".563" stop-color="#60ff9f"/><stop offset=".598" stop-color="#00f5ff"/><stop offset=".629" stop-color="#0099ff"/><stop offset=".651" stop-color="#00a2ff"/><stop offset=".677" stop-color="#06fff9"/><stop offset=".716" stop-color="#abff54"/><stop offset=".751" stop-color="#d6ff29"/><stop offset=".904" stop-color="#6cff93"/><stop offset=".978" stop-color="#33ffcc"/><stop offset="1.000" stop-color="#2effd1"/></linearGradient>
<linearGradient id="g440"><stop offset=".000" stop-color="#88ff77"/><stop offset=".153" stop-color="#69ff96"/><stop offset=".253" stop-color="#6eff91"/><stop offset=".323" stop-color="#75ff8a"/><stop offset=".406" stop-color="#32ffcd"/><stop offset=".559" stop-color="#29ffd6"/><stop offset=".607" stop-color="#00e9ff"/><stop offset=".642" stop-color="#00f1ff"/><stop offset=".668" stop-color="#35ffca"/><stop offset=".712" stop-color="#92ff6d"/><stop offset=".838" stop-color="#69ff96"/><stop offset=".948" stop-color="#00f4ff"/><stop offset="1.000" stop-color="#00daff"/></linearGradient>
<linearGradient id="g441"><stop offset=".000" stop-color="#d8ff27"/><stop offset=".092" stop-color="#69ff96"/><stop offset=".332" stop-color="#00f3ff"/><stop offset=".406" stop-color="#11ffee"/><stop offset=".493" stop-color="#54ffab"/><stop offset=".603" stop-color="#4fffb0"/><stop offset=".690" stop-color="#ebff14"/><stop offset=".738" stop-color="#c1ff3e"/><stop offset=".869" stop-color="#0cfff3"/><stop offset=".948" stop-color="#00c1ff"/><stop offset="1.000" stop-color="#00cdff"/></linearGradient>
<linearGradient id="g442"><stop offset=".000" stop-color="#c6ff39"/><stop offset=".227" stop-color="#00f6ff"/><stop offset=".301" stop-color="#00b1ff"/><stop offset=".380" stop-color="#00d5ff"/><stop offset=".428" stop-color="#10ffef"/><stop offset=".476" stop-color="#34ffcb"/><stop offset=".546" stop-color="#39ffc6"/><stop offset=".616" stop-color="#8aff75"/><stop offset=".668" stop-color="#fff500"/><stop offset=".703" stop-color="#ffe300"/><stop offset=".729" stop-color="#ecff13"/><stop offset=".803" stop-color="#4fffb0"/><stop offset=".852" stop-color="#00f2ff"/><stop offset=".913" stop-color="#0066ff"/><stop offset=".952" stop-color="#006dff"/><stop offset="1.000" stop-color="#00e2ff"/></linearGradient>
<linearGradient id="g443"><stop offset=".000" stop-color="#72ff8d"/><stop offset=".162" stop-color="#72ff8d"/><stop offset=".223" stop-color="#16ffe9"/><stop offset=".253" stop-color="#00d9ff"/><stop offset=".310" stop-color="#00b5ff"/><stop offset=".393" stop-color="#00d8ff"/><stop offset=".415" stop-color="#0bfff4"/><stop offset=".459" stop-color="#b2ff4d"/><stop offset=".480" stop-color="#b6ff49"/><stop offset=".533" stop-color="#66ff99"/><stop offset=".585" stop-color="#84ff7b"/><stop offset=".633" stop-color="#fff800"/><stop offset=".672" stop-color="#ff9100"/><stop offset=".699" stop-color="#ffa600"/><stop offset=".725" stop-color="#fdff02"/><stop offset=".769" stop-color="#63ff9c"/><stop offset=".852" stop-color="#00f5ff"/><stop offset=".921" stop-color="#009aff"/><stop offset=".965" stop-color="#00c2ff"/><stop offset=".996" stop-color="#0bfff4"/><stop offset="1.000" stop-color="#15ffea"/></linearGradient>
<linearGradient id="g444"><stop offset=".000" stop-color="#6aff95"/><stop offset=".070" stop-color="#3affc5"/><stop offset=".179" stop-color="#a5ff5a"/><stop offset=".227" stop-color="#62ff9d"/><stop offset=".275" stop-color="#00f9ff"/><stop offset=".349" stop-color="#00d7ff"/><stop offset=".397" stop-color="#0dfff2"/><stop offset=".424" stop-color="#83ff7c"/><stop offset=".441" stop-color="#fdff02"/><stop offset=".463" stop-color="#ff9100"/><stop offset=".480" stop-color="#ff9800"/><stop offset=".515" stop-color="#f5ff0a"/><stop offset=".563" stop-color="#bdff42"/><stop offset=".598" stop-color="#eaff15"/><stop offset=".616" stop-color="#ffd200"/><stop offset=".659" stop-color="#ff0200"/><stop offset=".681" stop-color="#e00000"/><stop offset=".703" stop-color="#ff1500"/><stop offset=".747" stop-color="#fffe00"/><stop offset=".782" stop-color="#86ff79"/><stop offset=".904" stop-color="#07fff8"/><stop offset=".978" stop-color="#48ffb7"/><stop offset="1.000" stop-color="#5effa1"/></linearGradient>
<linearGradient id="g445"><stop offset=".000" stop-color="#43ffbc"/><stop offset=".074" stop-color="#20ffdf"/><stop offset=".192" stop-color="#87ff78"/><stop offset=".240" stop-color="#5dffa2"/><stop offset=".288" stop-color="#26ffd9"/><stop offset=".402" stop-color="#73ff8c"/><stop offset=".428" stop-color="#ddff22"/><stop offset=".437" stop-color="#ffea00"/><stop offset=".459" stop-color="#ff7700"/><stop offset=".476" stop-color="#ff7600"/><stop offset=".511" stop-color="#fffe00"/><stop offset=".555" stop-color="#bbff44"/><stop offset=".590" stop-color="#d8ff27"/><stop offset=".607" stop-color="#fff100"/><stop offset=".659" stop-color="#ff1400"/><stop offset=".690" stop-color="#ff0000"/><stop offset=".725" stop-color="#ff7900"/><stop offset=".755" stop-color="#fffe00"/><stop offset=".795" stop-color="#9bff64"/><stop offset=".882" stop-color="#7aff85"/><stop offset="1.000" stop-color="#7bff84"/></linearGradient>
<linearGradient id="g446"><stop offset=".000" stop-color="#0cfff3"/><stop offset=".175" stop-color="#52ffad"/><stop offset=".223" stop-color="#a8ff57"/><stop offset=".249" stop-color="#71ff8e"/><stop offset=".279" stop-color="#2affd5"/><stop offset=".371" stop-color="#66ff99"/><stop offset=".415" stop-color="#7dff82"/><stop offset=".459" stop-color="#fff800"/><stop offset=".485" stop-color="#ebff14"/><stop offset=".524" stop-color="#8cff73"/><stop offset=".568" stop-color="#9aff65"/><stop offset=".607" stop-color="#fff600"/><stop offset=".659" stop-color="#ff2800"/><stop offset=".686" stop-color="#ff1a00"/><stop offset=".721" stop-color="#ff8700"/><stop offset=".751" stop-color="#f8ff07"/><stop offset=".795" stop-color="#85ff7a"/><stop offset=".843" stop-color="#72ff8d"/><stop offset=".921" stop-color="#e5ff1a"/><stop offset=".956" stop-color="#baff45"/><stop offset="1.000" stop-color="#49ffb6"/></linearGradient>
<linearGradient id="g447"><stop offset=".000" stop-color="#10ffef"/><stop offset=".070" stop-color="#00ecff"/><stop offset=".148" stop-color="#00c3ff"/><stop offset=".183" stop-color="#0efff1"/><stop offset=".223" stop-color="#eeff11"/><stop offset=".240" stop-color="#eaff15"/><stop offset=".275" stop-color="#62ff9d"/><stop offset=".314" stop-color="#57ffa8"/><stop offset=".432" stop-color="#6bff94"/><stop offset=".472" stop-color="#81ff7e"/><stop offset=".533" stop-color="#48ffb7"/><stop offset=".590" stop-color="#6eff91"/><stop offset=".638" stop-color="#fff600"/><stop offset=".672" stop-color="#ff9100"/><stop offset=".699" stop-color="#ff9d00"/><stop offset=".729" stop-color="#fffe00"/><stop offset=".786" stop-color="#3effc1"/><stop offset=".825" stop-color="#15ffea"/><stop offset=".856" stop-color="#4effb1"/><stop offset=".900" stop-color="#fff800"/><stop offset=".926" stop-color="#ffbb00"/><stop offset=".952" stop-color="#ffe100"/><stop offset=".965" stop-color="#f0ff0f"/><stop offset="1.000" stop-color="#78ff87"/></linearGradient>
<linearGradient id="g448"><stop offset=".000" stop-color="#36ffc9"/><stop offset=".044" stop-color="#00efff"/><stop offset=".105" stop-color="#0048ff"/><stop offset=".140" stop-color="#0047ff"/><stop offset=".175" stop-color="#00a2ff"/><stop offset=".192" stop-color="#03fffc"/><stop offset=".223" stop-color="#bcff43"/><stop offset=".240" stop-color="#c8ff37"/><stop offset=".284" stop-color="#5fffa0"/><stop offset=".376" stop-color="#54ffab"/><stop offset=".441" stop-color="#23ffdc"/><stop offset=".594" stop-color="#66ff99"/><stop offset=".664" stop-color="#fff500"/><stop offset=".699" stop-color="#fff600"/><stop offset=".742" stop-color="#95ff6a"/><stop offset=".799" stop-color="#00fdff"/><stop offset=".834" stop-color="#0cfff3"/><stop offset=".860" stop-color="#82ff7d"/><stop offset=".878" stop-color="#f9ff06"/><stop offset=".908" stop-color="#ff5200"/><stop offset=".930" stop-color="#ff3a00"/><stop offset=".956" stop-color="#ff9d00"/><stop offset=".974" stop-color="#fffb00"/><stop offset="1.000" stop-color="#99ff66"/></linearGradient>
<linearGradient id="g449"><stop offset=".000" stop-color="#25ffda"/><stop offset=".031" stop-color="#00efff"/><stop offset=".096" stop-color="#0035ff"/><stop offset=".131" stop-color="#003eff"/><stop offset=".183" stop-color="#00d6ff"/><stop offset=".197" stop-color="#0efff1"/><stop offset=".231" stop-color="#86ff79"/><stop offset=".306" stop-color="#7cff83"/><stop offset=".437" stop-color="#32ffcd"/><stop offset=".607" stop-color="#96ff69"/><stop offset=".677" stop-color="#e9ff16"/><stop offset=".721" stop-color="#baff45"/><stop offset=".790" stop-color="#30ffcf"/><stop offset=".825" stop-color="#3fffc0"/><stop offset=".856" stop-color="#b6ff49"/><stop offset=".869" stop-color="#fff800"/><stop offset=".904" stop-color="#ff2500"/><stop offset=".926" stop-color="#fd0000"/><stop offset=".948" stop-color="#ff3f00"/><stop offset=".983" stop-color="#fdff02"/><stop offset="1.000" stop-color="#b3ff4c"/></linearGradient>
<linearGradient id="g450"><stop offset=".000" stop-color="#30ffcf"/><stop offset=".052" stop-color="#00f4ff"/><stop offset=".100" stop-color="#00a6ff"/><stop offset=".140" stop-color="#00d2ff"/><stop offset=".162" stop-color="#0bfff4"/><stop offset=".223" stop-color="#82ff7d"/><stop offset=".297" stop-color="#7cff83"/><stop offset=".463" stop-color="#2effd1"/><stop offset=".533" stop-color="#5bffa4"/><stop offset=".590" stop-color="#e5ff1a"/><stop offset=".607" stop-color="#ffe700"/><stop offset=".642" stop-color="#ffb400"/><stop offset=".690" stop-color="#fff300"/><stop offset=".790" stop-color="#7dff82"/><stop offset=".834" stop-color="#7dff82"/><stop offset=".865" stop-color="#d0ff2f"/><stop offset=".878" stop-color="#fff300"/><stop offset=".913" stop-color="#ff5d00"/><stop offset=".939" stop-color="#ff4900"/><stop offset=".983" stop-color="#ffcb00"/><stop offset="1.000" stop-color="#faff05"/></linearGradient>
<linearGradient id="g451"><stop offset=".000" stop-color="#97ff68"/><stop offset=".061" stop-color="#6dff92"/><stop offset=".114" stop-color="#3effc1"/><stop offset=".201" stop-color="#6dff92"/><stop offset=".275" stop-color="#75ff8a"/><stop offset=".349" stop-color="#9bff64"/><stop offset=".533" stop-color="#8cff73"/><stop offset=".576" stop-color="#e0ff1f"/><stop offset=".594" stop-color="#ffe600"/><stop offset=".633" stop-color="#ff8500"/><stop offset=".664" stop-color="#ff9f00"/><stop offset=".703" stop-color="#eeff11"/><stop offset=".751" stop-color="#9bff64"/><stop offset=".830" stop-color="#9bff64"/><stop offset=".895" stop-color="#fff400"/><stop offset=".939" stop-color="#ffbe00"/><stop offset="1.000" stop-color="#fbff04"/></linearGradient>
<linearGradient id="g452" x1="0" y1="0" x2="0" y2="1"><stop offset="0" stop-color="#800000"/><stop offset="0.06" stop-color="#bf0000"/><stop offset="0.12" stop-color="#ff0000"/><stop offset="0.19" stop-color="#ff4000"/><stop offset="0.25" stop-color="#ff8000"/><stop offset="0.31" stop-color="#ffbf00"/><stop offset="0.38" stop-color="#ffff00"/><stop offset="0.44" stop-color="#bfff40"/><stop offset="0.5" stop-color="#80ff80"/><stop offset="0.56" stop-color="#40ffbf"/><stop offset="0.62" stop-color="#00ffff"/><stop offset="0.69" stop-color="#00bfff"/><stop offset="0.75" stop-color="#0080ff"/><stop offset="0.81" stop-color="#0040ff"/><stop offset="0.88" stop-color="#0000ff"/><stop offset="0.94" stop-color="#0000bf"/><stop offset="1" stop-color="#000080"/></linearGradient>
<linearGradient id="g453"><stop offset=".000" stop-color="#002cff"/><stop offset=".009" stop-color="#0018ff"/><stop offset=".039" stop-color="#00fbff"/><stop offset=".056" stop-color="#4effb1"/><stop offset=".091" stop-color="#a4ff5b"/><stop offset=".159" stop-color="#5fffa0"/><stop offset=".181" stop-color="#78ff87"/><stop offset=".216" stop-color="#e7ff18"/><stop offset=".228" stop-color="#d5ff2a"/><stop offset=".241" stop-color="#a8ff57"/><stop offset=".254" stop-color="#efff10"/><stop offset=".276" stop-color="#ff8500"/><stop offset=".349" stop-color="#ff0700"/><stop offset=".388" stop-color="#ff6900"/><stop offset=".435" stop-color="#ffde00"/><stop offset=".522" stop-color="#ff7300"/><stop offset=".552" stop-color="#ffa600"/><stop offset=".578" stop-color="#eeff11"/><stop offset=".603" stop-color="#82ff7d"/><stop offset=".642" stop-color="#00f7ff"/><stop offset=".685" stop-color="#008cff"/><stop offset=".789" stop-color="#0098ff"/><stop offset=".806" stop-color="#00a6ff"/><stop offset=".832" stop-color="#00feff"/><stop offset=".858" stop-color="#56ffa9"/><stop offset=".897" stop-color="#72ff8d"/><stop offset="1.000" stop-color="#6fff90"/></linearGradient>
<linearGradient id="g454"><stop offset=".000" stop-color="#0050ff"/><stop offset=".017" stop-color="#002fff"/><stop offset=".022" stop-color="#0022ff"/><stop offset=".052" stop-color="#0ffff0"/><stop offset=".065" stop-color="#60ff9f"/><stop offset=".091" stop-color="#b2ff4d"/><stop offset=".112" stop-color="#82ff7d"/><stop offset=".142" stop-color="#20ffdf"/><stop offset=".185" stop-color="#24ffdb"/><stop offset=".220" stop-color="#a6ff59"/><stop offset=".246" stop-color="#bdff42"/><stop offset=".254" stop-color="#f6ff09"/><stop offset=".276" stop-color="#ff8600"/><stop offset=".336" stop-color="#f70000"/><stop offset=".362" stop-color="#e70000"/><stop offset=".375" stop-color="#ff1600"/><stop offset=".422" stop-color="#ffd100"/><stop offset=".448" stop-color="#fcff03"/><stop offset=".534" stop-color="#ffab00"/><stop offset=".565" stop-color="#ffd700"/><stop offset=".582" stop-color="#f1ff0e"/><stop offset=".612" stop-color="#7dff82"/><stop offset=".664" stop-color="#00fbff"/><stop offset=".703" stop-color="#00c5ff"/><stop offset=".746" stop-color="#0093ff"/><stop offset=".810" stop-color="#0054ff"/><stop offset=".849" stop-color="#03fffc"/><stop offset=".871" stop-color="#63ff9c"/><stop offset=".905" stop-color="#9cff63"/><stop offset="1.000" stop-color="#5dffa2"/></linearGradient>
<linearGradient id="g455"><stop offset=".000" stop-color="#003fff"/><stop offset=".022" stop-color="#0026ff"/><stop offset=".030" stop-color="#0014ff"/><stop offset=".056" stop-color="#00feff"/><stop offset=".069" stop-color="#73ff8c"/><stop offset=".091" stop-color="#c7ff38"/><stop offset=".108" stop-color="#a5ff5a"/><stop offset=".134" stop-color="#34ffcb"/><stop offset=".159" stop-color="#30ffcf"/><stop offset=".198" stop-color="#92ff6d"/><stop offset=".224" stop-color="#ffff00"/><stop offset=".310" stop-color="#ff1f00"/><stop offset=".336" stop-color="#e70000"/><stop offset=".366" stop-color="#dd0000"/><stop offset=".379" stop-color="#ff1500"/><stop offset=".418" stop-color="#ffb500"/><stop offset=".453" stop-color="#ffe700"/><stop offset=".504" stop-color="#ff9c00"/><stop offset=".543" stop-color="#ff9300"/><stop offset=".573" stop-color="#ffdf00"/><stop offset=".586" stop-color="#eaff15"/><stop offset=".616" stop-color="#5affa5"/><stop offset=".659" stop-color="#00f7ff"/><stop offset=".716" stop-color="#008aff"/><stop offset=".780" stop-color="#0022ff"/><stop offset=".819" stop-color="#002aff"/><stop offset=".858" stop-color="#08fff7"/><stop offset=".875" stop-color="#65ff9a"/><stop offset=".909" stop-color="#a7ff58"/><stop offset="1.000" stop-color="#54ffab"/></linearGradient>
<linearGradient id="g456"><stop offset=".000" stop-color="#006dff"/><stop offset=".026" stop-color="#004eff"/><stop offset=".034" stop-color="#0030ff"/><stop offset=".060" stop-color="#11ffee"/><stop offset=".069" stop-color="#68ff97"/><stop offset=".091" stop-color="#abff54"/><stop offset=".112" stop-color="#77ff88"/><stop offset=".138" stop-color="#1fffe0"/><stop offset=".168" stop-color="#44ffbb"/><stop offset=".203" stop-color="#adff52"/><stop offset=".220" stop-color="#fffd00"/><stop offset=".254" stop-color="#ff8500"/><stop offset=".366" stop-color="#ff1400"/><stop offset=".427" stop-color="#ffaa00"/><stop offset=".461" stop-color="#ffc100"/><stop offset=".504" stop-color="#ff9800"/><stop offset=".539" stop-color="#ff7900"/><stop offset=".565" stop-color="#ff8700"/><stop offset=".591" stop-color="#fff600"/><stop offset=".621" stop-color="#4dffb2"/><stop offset=".651" stop-color="#00efff"/><stop offset=".716" stop-color="#004fff"/><stop offset=".776" stop-color="#0018ff"/><stop offset=".823" stop-color="#0036ff"/><stop offset=".858" stop-color="#02fffd"/><stop offset=".879" stop-color="#8bff74"/><stop offset=".914" stop-color="#c8ff37"/><stop offset="1.000" stop-color="#63ff9c"/></linearGradient>
<linearGradient id="g457"><stop offset=".000" stop-color="#008fff"/><stop offset=".026" stop-color="#0093ff"/><stop offset=".039" stop-color="#0068ff"/><stop offset=".060" stop-color="#0afff5"/><stop offset=".073" stop-color="#64ff9b"/><stop offset=".099" stop-color="#50ffaf"/><stop offset=".125" stop-color="#00f4ff"/><stop offset=".147" stop-color="#00daff"/><stop offset=".172" stop-color="#14ffeb"/><stop offset=".207" stop-color="#8fff70"/><stop offset=".228" stop-color="#ffff00"/><stop offset=".259" stop-color="#ff9100"/><stop offset=".379" stop-color="#ff4900"/><stop offset=".440" stop-color="#ffbd00"/><stop offset=".466" stop-color="#ffc800"/><stop offset=".504" stop-color="#ffa300"/><stop offset=".534" stop-color="#ff8e00"/><stop offset=".552" stop-color="#ff6d00"/><stop offset=".578" stop-color="#ffa600"/><stop offset=".595" stop-color="#f9ff06"/><stop offset=".625" stop-color="#34ffcb"/><stop offset=".642" stop-color="#00f4ff"/><stop offset=".694" stop-color="#0051ff"/><stop offset=".720" stop-color="#002aff"/><stop offset=".802" stop-color="#0031ff"/><stop offset=".828" stop-color="#004fff"/><stop offset=".853" stop-color="#00f8ff"/><stop offset=".884" stop-color="#d1ff2e"/><stop offset=".905" stop-color="#fffa00"/><stop offset=".931" stop-color="#e4ff1b"/><stop offset=".978" stop-color="#90ff6f"/><stop offset="1.000" stop-color="#8aff75"/></linearGradient>
<linearGradient id="g458"><stop offset=".000" stop-color="#0079ff"/><stop offset=".017" stop-color="#009aff"/><stop offset=".030" stop-color="#0074ff"/><stop offset=".052" stop-color="#01fffe"/><stop offset=".065" stop-color="#4bffb4"/><stop offset=".099" stop-color="#24ffdb"/><stop offset=".125" stop-color="#00e9ff"/><stop offset=".155" stop-color="#00fbff"/><stop offset=".198" stop-color="#83ff7c"/><stop offset=".224" stop-color="#ffff00"/><stop offset=".250" stop-color="#ffaf00"/><stop offset=".332" stop-color="#ff5a00"/><stop offset=".371" stop-color="#ff3c00"/><stop offset=".444" stop-color="#fdff02"/><stop offset=".474" stop-color="#ffe800"/><stop offset=".530" stop-color="#ffaf00"/><stop offset=".552" stop-color="#ff8a00"/><stop offset=".569" stop-color="#ff9a00"/><stop offset=".591" stop-color="#fff800"/><stop offset=".621" stop-color="#64ff9b"/><stop offset=".651" stop-color="#00f4ff"/><stop offset=".707" stop-color="#0031ff"/><stop offset=".780" stop-color="#001aff"/><stop offset=".823" stop-color="#0039ff"/><stop offset=".858" stop-color="#00f8ff"/><stop offset=".879" stop-color="#6dff92"/><stop offset=".909" stop-color="#b7ff48"/><stop offset="1.000" stop-color="#7dff82"/></linearGradient>
<linearGradient id="g459"><stop offset=".000" stop-color="#0057ff"/><stop offset=".022" stop-color="#006fff"/><stop offset=".043" stop-color="#00feff"/><stop offset=".056" stop-color="#41ffbe"/><stop offset=".103" stop-color="#29ffd6"/><stop offset=".142" stop-color="#17ffe8"/><stop offset=".185" stop-color="#69ff96"/><stop offset=".220" stop-color="#fff400"/><stop offset=".241" stop-color="#ffb000"/><stop offset=".336" stop-color="#fd0000"/><stop offset=".362" stop-color="#ff0e00"/><stop offset=".414" stop-color="#fffc00"/><stop offset=".444" stop-color="#9fff60"/><stop offset=".496" stop-color="#fff300"/><stop offset=".547" stop-color="#ffb200"/><stop offset=".569" stop-color="#ffd300"/><stop offset=".582" stop-color="#faff05"/><stop offset=".608" stop-color="#8cff73"/><stop offset=".655" stop-color="#00f4ff"/><stop offset=".698" stop-color="#0064ff"/><stop offset=".763" stop-color="#0011ff"/><stop offset=".810" stop-color="#001eff"/><stop offset=".853" stop-color="#00feff"/><stop offset=".875" stop-color="#4fffb0"/><stop offset=".905" stop-color="#8eff71"/><stop offset=".966" stop-color="#89ff76"/><stop offset="1.000" stop-color="#57ffa8"/></linearGradient>
<linearGradient id="g460"><stop offset=".000" stop-color="#0059ff"/><stop offset=".009" stop-color="#0058ff"/><stop offset=".030" stop-color="#00e0ff"/><stop offset=".043" stop-color="#20ffdf"/><stop offset=".147" stop-color="#2fffd0"/><stop offset=".177" stop-color="#67ff98"/><stop offset=".211" stop-color="#feff01"/><stop offset=".233" stop-color="#ffc100"/><stop offset=".328" stop-color="#ff1b00"/><stop offset=".349" stop-color="#ff2100"/><stop offset=".401" stop-color="#f6ff09"/><stop offset=".431" stop-color="#82ff7d"/><stop offset=".457" stop-color="#bcff43"/><stop offset=".474" stop-color="#fff500"/><stop offset=".517" stop-color="#ff6600"/><stop offset=".547" stop-color="#ff8500"/><stop offset=".573" stop-color="#fff700"/><stop offset=".599" stop-color="#7fff80"/><stop offset=".634" stop-color="#00fcff"/><stop offset=".685" stop-color="#0035ff"/><stop offset=".728" stop-color="#0000f0"/><stop offset=".784" stop-color="#0000d5"/><stop offset=".802" stop-color="#0000ee"/><stop offset=".819" stop-color="#004fff"/><stop offset=".849" stop-color="#0ffff0"/><stop offset=".888" stop-color="#89ff76"/><stop offset=".957" stop-color="#8cff73"/><stop offset="1.000" stop-color="#59ffa6"/></linearGradient>
<linearGradient id="g461"><stop offset=".000" stop-color="#0013ff"/><stop offset=".004" stop-color="#0010ff"/><stop offset=".022" stop-color="#0082ff"/><stop offset=".043" stop-color="#00c7ff"/><stop offset=".091" stop-color="#11ffee"/><stop offset=".177" stop-color="#93ff6c"/><stop offset=".216" stop-color="#fff100"/><stop offset=".284" stop-color="#ff7800"/><stop offset=".341" stop-color="#ff1700"/><stop offset=".375" stop-color="#ff8300"/><stop offset=".401" stop-color="#ffff00"/><stop offset=".427" stop-color="#9fff60"/><stop offset=".448" stop-color="#cbff34"/><stop offset=".461" stop-color="#fff700"/><stop offset=".504" stop-color="#ff3000"/><stop offset=".522" stop-color="#ff1c00"/><stop offset=".547" stop-color="#ff5d00"/><stop offset=".573" stop-color="#fff900"/><stop offset=".599" stop-color="#65ff9a"/><stop offset=".621" stop-color="#00ffff"/><stop offset=".677" stop-color="#0006ff"/><stop offset=".741" stop-color="#0000d6"/><stop offset=".793" stop-color="#0007ff"/><stop offset=".836" stop-color="#00f5ff"/><stop offset=".862" stop-color="#5cffa3"/><stop offset=".888" stop-color="#8bff74"/><stop offset="1.000" stop-color="#65ff9a"/></linearGradient>
<linearGradient id="g462"><stop offset=".000" stop-color="#0056ff"/><stop offset=".009" stop-color="#004cff"/><stop offset=".026" stop-color="#00a0ff"/><stop offset=".052" stop-color="#00e5ff"/><stop offset=".073" stop-color="#1cffe3"/><stop offset=".121" stop-color="#7cff83"/><stop offset=".177" stop-color="#99ff66"/><stop offset=".211" stop-color="#fffa00"/><stop offset=".233" stop-color="#ffc200"/><stop offset=".328" stop-color="#ff5400"/><stop offset=".349" stop-color="#ff5f00"/><stop offset=".388" stop-color="#fcff03"/><stop offset=".422" stop-color="#78ff87"/><stop offset=".435" stop-color="#71ff8e"/><stop offset=".470" stop-color="#fff200"/><stop offset=".504" stop-color="#ff5e00"/><stop offset=".522" stop-color="#ff3e00"/><stop offset=".547" stop-color="#ff6a00"/><stop offset=".573" stop-color="#fff400"/><stop offset=".599" stop-color="#65ff9a"/><stop offset=".625" stop-color="#00f0ff"/><stop offset=".681" stop-color="#0005ff"/><stop offset=".746" stop-color="#0000c4"/><stop offset=".802" stop-color="#0000ef"/><stop offset=".832" stop-color="#0086ff"/><stop offset=".853" stop-color="#00f4ff"/><stop offset=".897" stop-color="#4cffb3"/><stop offset="1.000" stop-color="#78ff87"/></linearGradient>
<linearGradient id="g463"><stop offset=".000" stop-color="#00abff"/><stop offset=".004" stop-color="#00adff"/><stop offset=".013" stop-color="#00f4ff"/><stop offset=".047" stop-color="#80ff7f"/><stop offset=".091" stop-color="#feff01"/><stop offset=".125" stop-color="#d7ff28"/><stop offset=".168" stop-color="#99ff66"/><stop offset=".207" stop-color="#fff300"/><stop offset=".228" stop-color="#ffbe00"/><stop offset=".328" stop-color="#ff8600"/><stop offset=".345" stop-color="#ff9c00"/><stop offset=".366" stop-color="#fffb00"/><stop offset=".414" stop-color="#1fffe0"/><stop offset=".431" stop-color="#05fffa"/><stop offset=".461" stop-color="#89ff76"/><stop offset=".483" stop-color="#fbff04"/><stop offset=".513" stop-color="#ffb700"/><stop offset=".552" stop-color="#f8ff07"/><stop offset=".595" stop-color="#2fffd0"/><stop offset=".616" stop-color="#00f6ff"/><stop offset=".685" stop-color="#001fff"/><stop offset=".737" stop-color="#0000f1"/><stop offset=".797" stop-color="#0000ec"/><stop offset=".815" stop-color="#0035ff"/><stop offset=".853" stop-color="#00f2ff"/><stop offset=".892" stop-color="#53ffac"/><stop offset="1.000" stop-color="#78ff87"/></linearGradient>
<linearGradient id="g464"><stop offset=".000" stop-color="#00aeff"/><stop offset=".009" stop-color="#07fff8"/><stop offset=".026" stop-color="#6cff93"/><stop offset=".047" stop-color="#93ff6c"/><stop offset=".069" stop-color="#fdff02"/><stop offset=".091" stop-color="#ffbd00"/><stop offset=".112" stop-color="#ffd300"/><stop offset=".129" stop-color="#eeff11"/><stop offset=".155" stop-color="#abff54"/><stop offset=".185" stop-color="#fffc00"/><stop offset=".220" stop-color="#ff8100"/><stop offset=".250" stop-color="#ff6100"/><stop offset=".332" stop-color="#ff5d00"/><stop offset=".379" stop-color="#f2ff0d"/><stop offset=".418" stop-color="#49ffb6"/><stop offset=".444" stop-color="#6aff95"/><stop offset=".483" stop-color="#fffe00"/><stop offset=".504" stop-color="#ffda00"/><stop offset=".526" stop-color="#f0ff0f"/><stop offset=".565" stop-color="#71ff8e"/><stop offset=".582" stop-color="#30ffcf"/><stop offset=".612" stop-color="#00efff"/><stop offset=".677" stop-color="#0024ff"/><stop offset=".716" stop-color="#0000ea"/><stop offset=".784" stop-color="#0000de"/><stop offset=".797" stop-color="#001eff"/><stop offset=".836" stop-color="#00f9ff"/><stop offset=".875" stop-color="#55ffaa"/><stop offset=".987" stop-color="#4bffb4"/><stop offset="1.000" stop-color="#53ffac"/></linearGradient>
<linearGradient id="g465"><stop offset=".000" stop-color="#00b6ff"/><stop offset=".009" stop-color="#03fffc"/><stop offset=".026" stop-color="#59ffa6"/><stop offset=".047" stop-color="#64ff9b"/><stop offset=".086" stop-color="#e6ff19"/><stop offset=".112" stop-color="#deff21"/><stop offset=".155" stop-color="#7dff82"/><stop offset=".194" stop-color="#feff01"/><stop offset=".241" stop-color="#ff5900"/><stop offset=".319" stop-color="#f80000"/><stop offset=".336" stop-color="#ff0e00"/><stop offset=".392" stop-color="#fffd00"/><stop offset=".418" stop-color="#95ff6a"/><stop offset=".448" stop-color="#b3ff4c"/><stop offset=".478" stop-color="#fff500"/><stop offset=".504" stop-color="#ffe200"/><stop offset=".517" stop-color="#f1ff0e"/><stop offset=".578" stop-color="#2bffd4"/><stop offset=".621" stop-color="#00f7ff"/><stop offset=".681" stop-color="#0041ff"/><stop offset=".724" stop-color="#0000f7"/><stop offset=".784" stop-color="#0000fa"/><stop offset=".832" stop-color="#0afff5"/><stop offset=".871" stop-color="#68ff97"/><stop offset=".940" stop-color="#49ffb6"/><stop offset="1.000" stop-color="#83ff7c"/></linearGradient>
<linearGradient id="g466"><stop offset=".000" stop-color="#008fff"/><stop offset=".013" stop-color="#00f2ff"/><stop offset=".039" stop-color="#66ff99"/><stop offset=".095" stop-color="#a0ff5f"/><stop offset=".159" stop-color="#71ff8e"/><stop offset=".194" stop-color="#e0ff1f"/><stop offset=".207" stop-color="#ffe900"/><stop offset=".233" stop-color="#ff9000"/><stop offset=".336" stop-color="#ff1b00"/><stop offset=".405" stop-color="#f9ff06"/><stop offset=".427" stop-color="#c2ff3d"/><stop offset=".461" stop-color="#fff700"/><stop offset=".504" stop-color="#ffa100"/><stop offset=".539" stop-color="#ffde00"/><stop offset=".552" stop-color="#efff10"/><stop offset=".586" stop-color="#53ffac"/><stop offset=".634" stop-color="#00f4ff"/><stop offset=".690" stop-color="#0049ff"/><stop offset=".737" stop-color="#0000fd"/><stop offset=".789" stop-color="#001dff"/><stop offset=".836" stop-color="#0ffff0"/><stop offset=".853" stop-color="#3dffc2"/><stop offset=".884" stop-color="#4bffb4"/><stop offset=".940" stop-color="#30ffcf"/><stop offset="1.000" stop-color="#6fff90"/></linearGradient>
<linearGradient id="g467"><stop offset=".000" stop-color="#005dff"/><stop offset=".013" stop-color="#0050ff"/><stop offset=".039" stop-color="#00f4ff"/><stop offset=".056" stop-color="#2bffd4"/><stop offset=".112" stop-color="#37ffc8"/><stop offset=".164" stop-color="#5dffa2"/><stop offset=".181" stop-color="#8dff72"/><stop offset=".207" stop-color="#fff000"/><stop offset=".233" stop-color="#ff7a00"/><stop offset=".353" stop-color="#ff5000"/><stop offset=".435" stop-color="#fffc00"/><stop offset=".526" stop-color="#ff6d00"/><stop offset=".552" stop-color="#ffa100"/><stop offset=".573" stop-color="#f1ff0e"/><stop offset=".599" stop-color="#56ffa9"/><stop offset=".625" stop-color="#00faff"/><stop offset=".685" stop-color="#003cff"/><stop offset=".754" stop-color="#002fff"/><stop offset=".802" stop-color="#0050ff"/><stop offset=".849" stop-color="#0efff1"/><stop offset=".897" stop-color="#30ffcf"/><stop offset="1.000" stop-color="#4effb1"/></linearGradient>
<linearGradient id="g468"><stop offset=".000" stop-color="#001dff"/><stop offset=".017" stop-color="#0000ec"/><stop offset=".026" stop-color="#0024ff"/><stop offset=".052" stop-color="#00c5ff"/><stop offset=".134" stop-color="#0efff1"/><stop offset=".185" stop-color="#93ff6c"/><stop offset=".203" stop-color="#f9ff06"/><stop offset=".237" stop-color="#ff4d00"/><stop offset=".297" stop-color="#ff3700"/><stop offset=".362" stop-color="#ff6000"/><stop offset=".444" stop-color="#fff600"/><stop offset=".526" stop-color="#ff5000"/><stop offset=".556" stop-color="#ff9e00"/><stop offset=".573" stop-color="#fcff03"/><stop offset=".603" stop-color="#2effd1"/><stop offset=".621" stop-color="#00eeff"/><stop offset=".668" stop-color="#006cff"/><stop offset=".698" stop-color="#0045ff"/><stop offset=".806" stop-color="#000fff"/><stop offset=".853" stop-color="#00f7ff"/><stop offset=".897" stop-color="#66ff99"/><stop offset="1.000" stop-color="#90ff6f"/></linearGradient>
<linearGradient id="g469"><stop offset=".000" stop-color="#000aff"/><stop offset=".017" stop-color="#0000d4"/><stop offset=".026" stop-color="#0011ff"/><stop offset=".052" stop-color="#00c1ff"/><stop offset=".129" stop-color="#11ffee"/><stop offset=".185" stop-color="#6fff90"/><stop offset=".216" stop-color="#fff100"/><stop offset=".237" stop-color="#ff8a00"/><stop offset=".302" stop-color="#ff3e00"/><stop offset=".358" stop-color="#ff4e00"/><stop offset=".440" stop-color="#fff000"/><stop offset=".526" stop-color="#ff6e00"/><stop offset=".556" stop-color="#ffbb00"/><stop offset=".573" stop-color="#edff12"/><stop offset=".603" stop-color="#3effc1"/><stop offset=".629" stop-color="#00f2ff"/><stop offset=".698" stop-color="#003fff"/><stop offset=".759" stop-color="#0000f5"/><stop offset=".806" stop-color="#0000f5"/><stop offset=".823" stop-color="#004cff"/><stop offset=".853" stop-color="#01fffe"/><stop offset=".879" stop-color="#5dffa2"/><stop offset=".905" stop-color="#87ff78"/><stop offset="1.000" stop-color="#9aff65"/></linearGradient>
<linearGradient id="g470"><stop offset=".000" stop-color="#0000fb"/><stop offset=".009" stop-color="#0000e2"/><stop offset=".013" stop-color="#0000ff"/><stop offset=".043" stop-color="#00caff"/><stop offset=".121" stop-color="#10ffef"/><stop offset=".172" stop-color="#4fffb0"/><stop offset=".211" stop-color="#fff700"/><stop offset=".228" stop-color="#ffa500"/><stop offset=".341" stop-color="#ff2b00"/><stop offset=".405" stop-color="#ff8200"/><stop offset=".435" stop-color="#ff7b00"/><stop offset=".478" stop-color="#ff3200"/><stop offset=".522" stop-color="#ff4b00"/><stop offset=".556" stop-color="#ffc700"/><stop offset=".569" stop-color="#f8ff07"/><stop offset=".595" stop-color="#7aff85"/><stop offset=".634" stop-color="#01fffe"/><stop offset=".685" stop-color="#0050ff"/><stop offset=".754" stop-color="#000aff"/><stop offset=".797" stop-color="#0012ff"/><stop offset=".845" stop-color="#09fff6"/><stop offset=".884" stop-color="#5effa1"/><stop offset=".953" stop-color="#5bffa4"/><stop offset="1.000" stop-color="#8eff71"/></linearGradient>
<linearGradient id="g471"><stop offset=".000" stop-color="#0000d4"/><stop offset=".009" stop-color="#0000fc"/><stop offset=".034" stop-color="#00b1ff"/><stop offset=".091" stop-color="#0cfff3"/><stop offset=".168" stop-color="#a3ff5c"/><stop offset=".190" stop-color="#fffd00"/><stop offset=".224" stop-color="#ff5300"/><stop offset=".328" stop-color="#f80000"/><stop offset=".349" stop-color="#ff1f00"/><stop offset=".405" stop-color="#ffad00"/><stop offset=".427" stop-color="#ffb900"/><stop offset=".487" stop-color="#ff5900"/><stop offset=".513" stop-color="#ff5800"/><stop offset=".543" stop-color="#ffaf00"/><stop offset=".560" stop-color="#fffe00"/><stop offset=".586" stop-color="#7bff84"/><stop offset=".621" stop-color="#00f5ff"/><stop offset=".672" stop-color="#002eff"/><stop offset=".776" stop-color="#002dff"/><stop offset=".793" stop-color="#0034ff"/><stop offset=".841" stop-color="#04fffb"/><stop offset=".879" stop-color="#40ffbf"/><stop offset=".940" stop-color="#37ffc8"/><stop offset="1.000" stop-color="#98ff67"/></linearGradient>
<linearGradient id="g472"><stop offset=".000" stop-color="#0000a0"/><stop offset=".004" stop-color="#00008a"/><stop offset=".017" stop-color="#0000e9"/><stop offset=".026" stop-color="#003fff"/><stop offset=".039" stop-color="#00b2ff"/><stop offset=".073" stop-color="#10ffef"/><stop offset=".116" stop-color="#4effb1"/><stop offset=".168" stop-color="#74ff8b"/><stop offset=".194" stop-color="#f5ff0a"/><stop offset=".224" stop-color="#ff3800"/><stop offset=".246" stop-color="#ff1500"/><stop offset=".276" stop-color="#ef0000"/><stop offset=".323" stop-color="#a70000"/><stop offset=".345" stop-color="#ba0000"/><stop offset=".366" stop-color="#ff0f00"/><stop offset=".418" stop-color="#ffc700"/><stop offset=".435" stop-color="#ffd500"/><stop offset=".517" stop-color="#ff5f00"/><stop offset=".543" stop-color="#ff9600"/><stop offset=".565" stop-color="#fbff04"/><stop offset=".591" stop-color="#52ffad"/><stop offset=".612" stop-color="#00f3ff"/><stop offset=".655" stop-color="#003eff"/><stop offset=".681" stop-color="#0006ff"/><stop offset=".797" stop-color="#003aff"/><stop offset=".841" stop-color="#00feff"/><stop offset=".879" stop-color="#4fffb0"/><stop offset=".935" stop-color="#4affb5"/><stop offset="1.000" stop-color="#9bff64"/></linearGradient>
<linearGradient id="g473"><stop offset=".000" stop-color="#0000c0"/><stop offset=".009" stop-color="#0000aa"/><stop offset=".017" stop-color="#0000f8"/><stop offset=".039" stop-color="#00d0ff"/><stop offset=".065" stop-color="#00ffff"/><stop offset=".159" stop-color="#42ffbd"/><stop offset=".177" stop-color="#76ff89"/><stop offset=".198" stop-color="#f8ff07"/><stop offset=".224" stop-color="#ff3700"/><stop offset=".241" stop-color="#ff1200"/><stop offset=".272" stop-color="#f40000"/><stop offset=".319" stop-color="#800000"/><stop offset=".349" stop-color="#8a0000"/><stop offset=".379" stop-color="#ff0e00"/><stop offset=".418" stop-color="#ff8400"/><stop offset=".435" stop-color="#ff8d00"/><stop offset=".491" stop-color="#ff5300"/><stop offset=".517" stop-color="#ff5a00"/><stop offset=".547" stop-color="#ffd000"/><stop offset=".556" stop-color="#fcff03"/><stop offset=".595" stop-color="#06fff9"/><stop offset=".664" stop-color="#0010ff"/><stop offset=".707" stop-color="#0000e6"/><stop offset=".780" stop-color="#0015ff"/><stop offset=".802" stop-color="#0037ff"/><stop offset=".845" stop-color="#05fffa"/><stop offset=".888" stop-color="#61ff9e"/><stop offset=".978" stop-color="#8dff72"/><stop offset="1.000" stop-color="#7dff82"/></linearGradient>
<linearGradient id="g474"><stop offset=".000" stop-color="#0000d3"/><stop offset=".009" stop-color="#0000a2"/><stop offset=".017" stop-color="#0000ec"/><stop offset=".030" stop-color="#007bff"/><stop offset=".043" stop-color="#00deff"/><stop offset=".099" stop-color="#11ffee"/><stop offset=".177" stop-color="#9eff61"/><stop offset=".198" stop-color="#fff100"/><stop offset=".224" stop-color="#ff3c00"/><stop offset=".241" stop-color="#ff3000"/><stop offset=".267" stop-color="#ff4400"/><stop offset=".302" stop-color="#f00000"/><stop offset=".345" stop-color="#9b0000"/><stop offset=".384" stop-color="#ff0d00"/><stop offset=".431" stop-color="#ff8200"/><stop offset=".491" stop-color="#ff5b00"/><stop offset=".522" stop-color="#ff7c00"/><stop offset=".552" stop-color="#feff01"/><stop offset=".595" stop-color="#00ffff"/><stop offset=".668" stop-color="#0000fd"/><stop offset=".690" stop-color="#0000ca"/><stop offset=".737" stop-color="#0000dc"/><stop offset=".763" stop-color="#0014ff"/><stop offset=".802" stop-color="#005fff"/><stop offset=".832" stop-color="#00f7ff"/><stop offset=".853" stop-color="#68ff97"/><stop offset=".888" stop-color="#b1ff4e"/><stop offset=".978" stop-color="#aeff51"/><stop offset="1.000" stop-color="#8cff73"/></linearGradient>
<linearGradient id="g475"><stop offset=".000" stop-color="#0000d7"/><stop offset=".009" stop-color="#00009d"/><stop offset=".017" stop-color="#0000da"/><stop offset=".022" stop-color="#000eff"/><stop offset=".039" stop-color="#00c1ff"/><stop offset=".047" stop-color="#00f1ff"/><stop offset=".147" stop-color="#72ff8d"/><stop offset=".177" stop-color="#7aff85"/><stop offset=".207" stop-color="#fdff02"/><stop offset=".228" stop-color="#ff7f00"/><stop offset=".272" stop-color="#ff7600"/><stop offset=".328" stop-color="#ef0000"/><stop offset=".353" stop-color="#cf0000"/><stop offset=".388" stop-color="#ff0e00"/><stop offset=".440" stop-color="#ff8000"/><stop offset=".526" stop-color="#ff8e00"/><stop offset=".560" stop-color="#ffee00"/><stop offset=".573" stop-color="#d8ff27"/><stop offset=".599" stop-color="#68ff97"/><stop offset=".634" stop-color="#00feff"/><stop offset=".690" stop-color="#0028ff"/><stop offset=".728" stop-color="#0000f0"/><stop offset=".793" stop-color="#0010ff"/><stop offset=".806" stop-color="#003cff"/><stop offset=".836" stop-color="#01fffe"/><stop offset=".858" stop-color="#93ff6c"/><stop offset=".888" stop-color="#f6ff09"/><stop offset=".974" stop-color="#99ff66"/><stop offset="1.000" stop-color="#61ff9e"/></linearGradient>
<linearGradient id="g476"><stop offset=".000" stop-color="#0000b3"/><stop offset=".004" stop-color="#000091"/><stop offset=".009" stop-color="#000095"/><stop offset=".017" stop-color="#0000e5"/><stop offset=".026" stop-color="#0052ff"/><stop offset=".039" stop-color="#00d7ff"/><stop offset=".060" stop-color="#08fff7"/><stop offset=".147" stop-color="#5dffa2"/><stop offset=".177" stop-color="#66ff99"/><stop offset=".207" stop-color="#ccff33"/><stop offset=".220" stop-color="#ffec00"/><stop offset=".241" stop-color="#ffd400"/><stop offset=".267" stop-color="#ffd400"/><stop offset=".345" stop-color="#ff1000"/><stop offset=".435" stop-color="#ff9500"/><stop offset=".522" stop-color="#ff7a00"/><stop offset=".552" stop-color="#ffc600"/><stop offset=".569" stop-color="#edff12"/><stop offset=".595" stop-color="#7bff84"/><stop offset=".647" stop-color="#00f3ff"/><stop offset=".694" stop-color="#0082ff"/><stop offset=".759" stop-color="#0006ff"/><stop offset=".793" stop-color="#0009ff"/><stop offset=".819" stop-color="#00a3ff"/><stop offset=".832" stop-color="#09fff6"/><stop offset=".853" stop-color="#b5ff4a"/><stop offset=".871" stop-color="#fff300"/><stop offset=".888" stop-color="#ffc800"/><stop offset=".931" stop-color="#f3ff0c"/><stop offset="1.000" stop-color="#60ff9f"/></linearGradient>
<linearGradient id="g477"><stop offset=".000" stop-color="#0000bd"/><stop offset=".004" stop-color="#0000b4"/><stop offset=".013" stop-color="#0000f1"/><stop offset=".034" stop-color="#00f2ff"/><stop offset=".069" stop-color="#3cffc3"/><stop offset=".138" stop-color="#5dffa2"/><stop offset=".172" stop-color="#8bff74"/><stop offset=".203" stop-color="#fffe00"/><stop offset=".224" stop-color="#ff9e00"/><stop offset=".284" stop-color="#ff7b00"/><stop offset=".341" stop-color="#ff2700"/><stop offset=".427" stop-color="#ffc900"/><stop offset=".513" stop-color="#ff8000"/><stop offset=".543" stop-color="#ffd200"/><stop offset=".556" stop-color="#edff12"/><stop offset=".591" stop-color="#29ffd6"/><stop offset=".608" stop-color="#00f4ff"/><stop offset=".655" stop-color="#007fff"/><stop offset=".716" stop-color="#0045ff"/><stop offset=".754" stop-color="#0000f3"/><stop offset=".789" stop-color="#0000ed"/><stop offset=".802" stop-color="#0028ff"/><stop offset=".836" stop-color="#0afff5"/><stop offset=".853" stop-color="#68ff97"/><stop offset=".884" stop-color="#c3ff3c"/><stop offset=".940" stop-color="#95ff6a"/><stop offset="1.000" stop-color="#4affb5"/></linearGradient>
<linearGradient id="g478"><stop offset=".000" stop-color="#0000e0"/><stop offset=".009" stop-color="#0000ae"/><stop offset=".017" stop-color="#0000fc"/><stop offset=".039" stop-color="#00e1ff"/><stop offset=".043" stop-color="#00ffff"/><stop offset=".086" stop-color="#00f1ff"/><stop offset=".112" stop-color="#00d4ff"/><stop offset=".134" stop-color="#0cfff3"/><stop offset=".181" stop-color="#a0ff5f"/><stop offset=".203" stop-color="#fff400"/><stop offset=".228" stop-color="#ff7700"/><stop offset=".345" stop-color="#ff0900"/><stop offset=".431" stop-color="#ffeb00"/><stop offset=".522" stop-color="#ffbc00"/><stop offset=".547" stop-color="#f2ff0d"/><stop offset=".591" stop-color="#00f2ff"/><stop offset=".647" stop-color="#0065ff"/><stop offset=".690" stop-color="#0064ff"/><stop offset=".720" stop-color="#005bff"/><stop offset=".767" stop-color="#0017ff"/><stop offset=".797" stop-color="#0033ff"/><stop offset=".832" stop-color="#00f9ff"/><stop offset=".853" stop-color="#6bff94"/><stop offset=".888" stop-color="#a2ff5d"/><stop offset=".974" stop-color="#44ffbb"/><stop offset="1.000" stop-color="#5bffa4"/></linearGradient>
<linearGradient id="g479"><stop offset=".000" stop-color="#0056ff"/><stop offset=".013" stop-color="#0012ff"/><stop offset=".039" stop-color="#00faff"/><stop offset=".052" stop-color="#2fffd0"/><stop offset=".082" stop-color="#00f0ff"/><stop offset=".112" stop-color="#0093ff"/><stop offset=".138" stop-color="#00cdff"/><stop offset=".159" stop-color="#0efff1"/><stop offset=".185" stop-color="#54ffab"/><stop offset=".220" stop-color="#fff700"/><stop offset=".237" stop-color="#ffb500"/><stop offset=".323" stop-color="#ff4700"/><stop offset=".353" stop-color="#ff3b00"/><stop offset=".440" stop-color="#fffe00"/><stop offset=".526" stop-color="#ffa900"/><stop offset=".556" stop-color="#f0ff0f"/><stop offset=".599" stop-color="#0cfff3"/><stop offset=".664" stop-color="#00d7ff"/><stop offset=".716" stop-color="#00c5ff"/><stop offset=".763" stop-color="#004aff"/><stop offset=".797" stop-color="#0058ff"/><stop offset=".815" stop-color="#00a3ff"/><stop offset=".832" stop-color="#04fffb"/><stop offset=".858" stop-color="#90ff6f"/><stop offset=".892" stop-color="#bfff40"/><stop offset=".931" stop-color="#5cffa3"/><stop offset=".957" stop-color="#00fdff"/><stop offset=".983" stop-color="#10ffef"/><stop offset="1.000" stop-color="#54ffab"/></linearGradient>
<linearGradient id="g480"><stop offset=".000" stop-color="#0084ff"/><stop offset=".009" stop-color="#004fff"/><stop offset=".017" stop-color="#0083ff"/><stop offset=".030" stop-color="#00f9ff"/><stop offset=".043" stop-color="#49ffb6"/><stop offset=".082" stop-color="#0afff5"/><stop offset=".116" stop-color="#00beff"/><stop offset=".172" stop-color="#06fff9"/><stop offset=".224" stop-color="#fff100"/><stop offset=".289" stop-color="#ff4f00"/><stop offset=".349" stop-color="#ff4600"/><stop offset=".427" stop-color="#feff01"/><stop offset=".483" stop-color="#ffd400"/><stop offset=".522" stop-color="#ff8800"/><stop offset=".547" stop-color="#ffd300"/><stop offset=".556" stop-color="#f2ff0d"/><stop offset=".595" stop-color="#0afff5"/><stop offset=".707" stop-color="#00d0ff"/><stop offset=".767" stop-color="#004aff"/><stop offset=".802" stop-color="#0068ff"/><stop offset=".832" stop-color="#08fff7"/><stop offset=".853" stop-color="#72ff8d"/><stop offset=".892" stop-color="#a5ff5a"/><stop offset=".927" stop-color="#69ff96"/><stop offset=".957" stop-color="#00f4ff"/><stop offset=".974" stop-color="#00f2ff"/><stop offset=".987" stop-color="#24ffdb"/><stop offset="1.000" stop-color="#66ff99"/></linearGradient>
<linearGradient id="g481"><stop offset=".000" stop-color="#003dff"/><stop offset=".004" stop-color="#0025ff"/><stop offset=".034" stop-color="#02fffd"/><stop offset=".043" stop-color="#1cffe3"/><stop offset=".129" stop-color="#00feff"/><stop offset=".172" stop-color="#41ffbe"/><stop offset=".216" stop-color="#fffa00"/><stop offset=".293" stop-color="#ff6700"/><stop offset=".345" stop-color="#ff4700"/><stop offset=".427" stop-color="#f3ff0c"/><stop offset=".461" stop-color="#ffdb00"/><stop offset=".500" stop-color="#ff6d00"/><stop offset=".517" stop-color="#ff2d00"/><stop offset=".539" stop-color="#ff4700"/><stop offset=".565" stop-color="#f8ff07"/><stop offset=".586" stop-color="#60ff9f"/><stop offset=".647" stop-color="#00f6ff"/><stop offset=".728" stop-color="#0033ff"/><stop offset=".772" stop-color="#0024ff"/><stop offset=".793" stop-color="#0050ff"/><stop offset=".819" stop-color="#00f4ff"/><stop offset=".849" stop-color="#8aff75"/><stop offset=".888" stop-color="#b5ff4a"/><stop offset=".940" stop-color="#7dff82"/><stop offset=".974" stop-color="#50ffaf"/><stop offset="1.000" stop-color="#7dff82"/></linearGradient>
<linearGradient id="g482"><stop offset=".000" stop-color="#0023ff"/><stop offset=".004" stop-color="#000bff"/><stop offset=".022" stop-color="#0078ff"/><stop offset=".039" stop-color="#00ecff"/><stop offset=".125" stop-color="#0efff1"/><stop offset=".172" stop-color="#71ff8e"/><stop offset=".207" stop-color="#feff01"/><stop offset=".228" stop-color="#ffc500"/><stop offset=".328" stop-color="#ff4700"/><stop offset=".349" stop-color="#ff4f00"/><stop offset=".431" stop-color="#ffda00"/><stop offset=".491" stop-color="#ff7600"/><stop offset=".517" stop-color="#ff0400"/><stop offset=".539" stop-color="#ff0a00"/><stop offset=".573" stop-color="#fff400"/><stop offset=".595" stop-color="#a0ff5f"/><stop offset=".659" stop-color="#00f3ff"/><stop offset=".703" stop-color="#003bff"/><stop offset=".724" stop-color="#0000f7"/><stop offset=".767" stop-color="#0000bc"/><stop offset=".793" stop-color="#0000e3"/><stop offset=".802" stop-color="#0018ff"/><stop offset=".836" stop-color="#00fcff"/><stop offset=".853" stop-color="#50ffaf"/><stop offset=".888" stop-color="#90ff6f"/><stop offset="1.000" stop-color="#92ff6d"/></linearGradient>
<linearGradient id="g483"><stop offset=".000" stop-color="#0054ff"/><stop offset=".013" stop-color="#0032ff"/><stop offset=".039" stop-color="#00f4ff"/><stop offset=".052" stop-color="#24ffdb"/><stop offset=".108" stop-color="#1bffe4"/><stop offset=".142" stop-color="#34ffcb"/><stop offset=".185" stop-color="#8eff71"/><stop offset=".220" stop-color="#fff600"/><stop offset=".293" stop-color="#ff5f00"/><stop offset=".345" stop-color="#ff6d00"/><stop offset=".397" stop-color="#ffe400"/><stop offset=".440" stop-color="#fff100"/><stop offset=".500" stop-color="#ff7400"/><stop offset=".522" stop-color="#ff1a00"/><stop offset=".543" stop-color="#ff3b00"/><stop offset=".573" stop-color="#fff900"/><stop offset=".599" stop-color="#87ff78"/><stop offset=".659" stop-color="#1bffe4"/><stop offset=".672" stop-color="#00ebff"/><stop offset=".716" stop-color="#0055ff"/><stop offset=".746" stop-color="#0000fa"/><stop offset=".780" stop-color="#0000c0"/><stop offset=".802" stop-color="#0000d2"/><stop offset=".810" stop-color="#0005ff"/><stop offset=".853" stop-color="#00f1ff"/><stop offset=".897" stop-color="#24ffdb"/><stop offset=".974" stop-color="#3affc5"/><stop offset="1.000" stop-color="#4affb5"/></linearGradient>
<linearGradient id="g484"><stop offset=".000" stop-color="#0096ff"/><stop offset=".022" stop-color="#0087ff"/><stop offset=".039" stop-color="#05fffa"/><stop offset=".060" stop-color="#77ff88"/><stop offset=".095" stop-color="#44ffbb"/><stop offset=".116" stop-color="#00f3ff"/><stop offset=".138" stop-color="#00e5ff"/><stop offset=".164" stop-color="#22ffdd"/><stop offset=".194" stop-color="#69ff96"/><stop offset=".228" stop-color="#fff700"/><stop offset=".250" stop-color="#ffb800"/><stop offset=".315" stop-color="#ff7800"/><stop offset=".362" stop-color="#ff8400"/><stop offset=".409" stop-color="#f6ff09"/><stop offset=".448" stop-color="#c6ff39"/><stop offset=".487" stop-color="#ffed00"/><stop offset=".534" stop-color="#ff6600"/><stop offset=".565" stop-color="#ffd900"/><stop offset=".578" stop-color="#e2ff1d"/><stop offset=".608" stop-color="#54ffab"/><stop offset=".659" stop-color="#09fff6"/><stop offset=".690" stop-color="#009aff"/><stop offset=".746" stop-color="#0006ff"/><stop offset=".789" stop-color="#0000f1"/><stop offset=".815" stop-color="#0014ff"/><stop offset=".866" stop-color="#02fffd"/><stop offset=".909" stop-color="#28ffd7"/><stop offset="1.000" stop-color="#23ffdc"/></linearGradient>
<linearGradient id="g485"><stop offset=".000" stop-color="#009dff"/><stop offset=".030" stop-color="#0096ff"/><stop offset=".039" stop-color="#0092ff"/><stop offset=".056" stop-color="#03fffc"/><stop offset=".073" stop-color="#4cffb3"/><stop offset=".108" stop-color="#00f8ff"/><stop offset=".134" stop-color="#00c8ff"/><stop offset=".168" stop-color="#0efff1"/><stop offset=".203" stop-color="#57ffa8"/><stop offset=".237" stop-color="#fff800"/><stop offset=".259" stop-color="#ffa200"/><stop offset=".336" stop-color="#ff2700"/><stop offset=".375" stop-color="#ff2f00"/><stop offset=".422" stop-color="#ffff00"/><stop offset=".461" stop-color="#e7ff18"/><stop offset=".491" stop-color="#ffd800"/><stop offset=".539" stop-color="#ff7600"/><stop offset=".556" stop-color="#ff9400"/><stop offset=".586" stop-color="#f3ff0c"/><stop offset=".621" stop-color="#50ffaf"/><stop offset=".664" stop-color="#00faff"/><stop offset=".716" stop-color="#003bff"/><stop offset=".759" stop-color="#0000f4"/><stop offset=".823" stop-color="#000fff"/><stop offset=".871" stop-color="#0bfff4"/><stop offset=".888" stop-color="#54ffab"/><stop offset=".918" stop-color="#9dff62"/><stop offset=".970" stop-color="#8fff70"/><stop offset="1.000" stop-color="#61ff9e"/></linearGradient>
<linearGradient id="g486"><stop offset=".000" stop-color="#005dff"/><stop offset=".026" stop-color="#003eff"/><stop offset=".034" stop-color="#003cff"/><stop offset=".065" stop-color="#00f8ff"/><stop offset=".103" stop-color="#00e5ff"/><stop offset=".142" stop-color="#00cdff"/><stop offset=".181" stop-color="#11ffee"/><stop offset=".203" stop-color="#5effa1"/><stop offset=".228" stop-color="#f7ff08"/><stop offset=".254" stop-color="#ff8900"/><stop offset=".328" stop-color="#ff0600"/><stop offset=".362" stop-color="#ff1200"/><stop offset=".379" stop-color="#ff5c00"/><stop offset=".401" stop-color="#fff400"/><stop offset=".422" stop-color="#92ff6d"/><stop offset=".444" stop-color="#93ff6c"/><stop offset=".474" stop-color="#fffa00"/><stop offset=".539" stop-color="#ff4d00"/><stop offset=".573" stop-color="#ff9800"/><stop offset=".595" stop-color="#fffd00"/><stop offset=".621" stop-color="#86ff79"/><stop offset=".668" stop-color="#00f5ff"/><stop offset=".711" stop-color="#0056ff"/><stop offset=".772" stop-color="#0000fe"/><stop offset=".819" stop-color="#0014ff"/><stop offset=".858" stop-color="#01fffe"/><stop offset=".879" stop-color="#81ff7e"/><stop offset=".914" stop-color="#ceff31"/><stop offset="1.000" stop-color="#64ff9b"/></linearGradient>
<linearGradient id="g487"><stop offset=".000" stop-color="#0050ff"/><stop offset=".013" stop-color="#001eff"/><stop offset=".047" stop-color="#00d6ff"/><stop offset=".134" stop-color="#00d3ff"/><stop offset=".172" stop-color="#10ffef"/><stop offset=".203" stop-color="#a8ff57"/><stop offset=".220" stop-color="#fff300"/><stop offset=".241" stop-color="#ff9d00"/><stop offset=".297" stop-color="#ff4800"/><stop offset=".353" stop-color="#ff1d00"/><stop offset=".388" stop-color="#ff9900"/><stop offset=".409" stop-color="#f4ff0b"/><stop offset=".431" stop-color="#b3ff4c"/><stop offset=".448" stop-color="#d8ff27"/><stop offset=".466" stop-color="#ffe900"/><stop offset=".517" stop-color="#ffa400"/><stop offset=".543" stop-color="#ffc800"/><stop offset=".560" stop-color="#f5ff0a"/><stop offset=".599" stop-color="#2bffd4"/><stop offset=".625" stop-color="#00ecff"/><stop offset=".694" stop-color="#0049ff"/><stop offset=".780" stop-color="#000cff"/><stop offset=".806" stop-color="#0028ff"/><stop offset=".841" stop-color="#0cfff3"/><stop offset=".858" stop-color="#83ff7c"/><stop offset=".892" stop-color="#e5ff1a"/><stop offset=".991" stop-color="#75ff8a"/><stop offset="1.000" stop-color="#76ff89"/></linearGradient>
<linearGradient id="g488"><stop offset=".000" stop-color="#0078ff"/><stop offset=".009" stop-color="#005eff"/><stop offset=".034" stop-color="#00fbff"/><stop offset=".047" stop-color="#23ffdc"/><stop offset=".099" stop-color="#1bffe4"/><stop offset=".177" stop-color="#73ff8c"/><stop offset=".216" stop-color="#fffa00"/><stop offset=".246" stop-color="#ffb800"/><stop offset=".349" stop-color="#ff4800"/><stop offset=".418" stop-color="#ffd700"/><stop offset=".435" stop-color="#fff000"/><stop offset=".491" stop-color="#ffc500"/><stop offset=".522" stop-color="#ffc700"/><stop offset=".547" stop-color="#f3ff0c"/><stop offset=".595" stop-color="#00ffff"/><stop offset=".681" stop-color="#0034ff"/><stop offset=".789" stop-color="#000bff"/><stop offset=".802" stop-color="#0021ff"/><stop offset=".836" stop-color="#09fff6"/><stop offset=".853" stop-color="#80ff7f"/><stop offset=".888" stop-color="#e2ff1d"/><stop offset="1.000" stop-color="#c9ff36"/></linearGradient>
<linearGradient id="g489"><stop offset=".000" stop-color="#006cff"/><stop offset=".017" stop-color="#0081ff"/><stop offset=".030" stop-color="#00efff"/><stop offset=".052" stop-color="#44ffbb"/><stop offset=".082" stop-color="#20ffdf"/><stop offset=".168" stop-color="#bdff42"/><stop offset=".185" stop-color="#d3ff2c"/><stop offset=".203" stop-color="#fff300"/><stop offset=".237" stop-color="#ff8c00"/><stop offset=".310" stop-color="#ff4300"/><stop offset=".358" stop-color="#ff3500"/><stop offset=".444" stop-color="#ffbf00"/><stop offset=".530" stop-color="#ff9800"/><stop offset=".560" stop-color="#ffdf00"/><stop offset=".573" stop-color="#ecff13"/><stop offset=".603" stop-color="#59ffa6"/><stop offset=".647" stop-color="#00f7ff"/><stop offset=".698" stop-color="#0087ff"/><stop offset=".784" stop-color="#0000f7"/><stop offset=".810" stop-color="#0008ff"/><stop offset=".849" stop-color="#0efff1"/><stop offset=".862" stop-color="#56ffa9"/><stop offset=".897" stop-color="#a0ff5f"/><stop offset="1.000" stop-color="#c5ff3a"/></linearGradient>
<linearGradient id="g490"><stop offset=".000" stop-color="#0083ff"/><stop offset=".022" stop-color="#00d8ff"/><stop offset=".026" stop-color="#00feff"/><stop offset=".039" stop-color="#38ffc7"/><stop offset=".056" stop-color="#20ffdf"/><stop offset=".065" stop-color="#00ecff"/><stop offset=".082" stop-color="#00b9ff"/><stop offset=".103" stop-color="#00deff"/><stop offset=".116" stop-color="#16ffe9"/><stop offset=".151" stop-color="#a0ff5f"/><stop offset=".194" stop-color="#fffa00"/><stop offset=".237" stop-color="#ff5100"/><stop offset=".302" stop-color="#ff3a00"/><stop offset=".366" stop-color="#ff6700"/><stop offset=".414" stop-color="#ffac00"/><stop offset=".448" stop-color="#ffa700"/><stop offset=".496" stop-color="#ff6a00"/><stop offset=".534" stop-color="#ff7200"/><stop offset=".565" stop-color="#ffd300"/><stop offset=".578" stop-color="#f4ff0b"/><stop offset=".608" stop-color="#72ff8d"/><stop offset=".664" stop-color="#00efff"/><stop offset=".703" stop-color="#0080ff"/><stop offset=".780" stop-color="#0000f7"/><stop offset=".806" stop-color="#0000e0"/><stop offset=".815" stop-color="#0002ff"/><stop offset=".853" stop-color="#0efff1"/><stop offset=".871" stop-color="#65ff9a"/><stop offset=".905" stop-color="#dcff23"/><stop offset=".935" stop-color="#fff800"/><stop offset=".966" stop-color="#deff21"/><stop offset="1.000" stop-color="#a3ff5c"/></linearGradient>
<linearGradient id="g491"><stop offset=".000" stop-color="#009cff"/><stop offset=".017" stop-color="#00e2ff"/><stop offset=".022" stop-color="#0efff1"/><stop offset=".034" stop-color="#53ffac"/><stop offset=".047" stop-color="#3cffc3"/><stop offset=".056" stop-color="#00f8ff"/><stop offset=".078" stop-color="#0065ff"/><stop offset=".095" stop-color="#004bff"/><stop offset=".116" stop-color="#0098ff"/><stop offset=".134" stop-color="#02fffd"/><stop offset=".168" stop-color="#8eff71"/><stop offset=".198" stop-color="#fff600"/><stop offset=".233" stop-color="#ff7b00"/><stop offset=".358" stop-color="#ff8300"/><stop offset=".409" stop-color="#ffe600"/><stop offset=".440" stop-color="#ffda00"/><stop offset=".483" stop-color="#ff6400"/><stop offset=".526" stop-color="#ff5200"/><stop offset=".560" stop-color="#ffcb00"/><stop offset=".573" stop-color="#f4ff0b"/><stop offset=".599" stop-color="#6aff95"/><stop offset=".642" stop-color="#00fbff"/><stop offset=".694" stop-color="#0056ff"/><stop offset=".784" stop-color="#0000f6"/><stop offset=".806" stop-color="#0000e4"/><stop offset=".819" stop-color="#0027ff"/><stop offset=".853" stop-color="#0bfff4"/><stop offset=".901" stop-color="#f5ff0a"/><stop offset=".931" stop-color="#ffaf00"/><stop offset=".957" stop-color="#ffd200"/><stop offset=".974" stop-color="#eeff11"/><stop offset="1.000" stop-color="#a3ff5c"/></linearGradient>
<linearGradient id="g492"><stop offset=".000" stop-color="#00a4ff"/><stop offset=".009" stop-color="#00c2ff"/><stop offset=".013" stop-color="#00f1ff"/><stop offset=".030" stop-color="#6fff90"/><stop offset=".043" stop-color="#6fff90"/><stop offset=".060" stop-color="#00f2ff"/><stop offset=".086" stop-color="#006bff"/><stop offset=".108" stop-color="#004dff"/><stop offset=".129" stop-color="#00adff"/><stop offset=".142" stop-color="#00fdff"/><stop offset=".203" stop-color="#fff800"/><stop offset=".228" stop-color="#ffa900"/><stop offset=".345" stop-color="#ff5700"/><stop offset=".405" stop-color="#ffd400"/><stop offset=".431" stop-color="#ffd700"/><stop offset=".478" stop-color="#ff6900"/><stop offset=".517" stop-color="#ff6200"/><stop offset=".547" stop-color="#ffcc00"/><stop offset=".560" stop-color="#edff12"/><stop offset=".591" stop-color="#39ffc6"/><stop offset=".616" stop-color="#00f3ff"/><stop offset=".685" stop-color="#003cff"/><stop offset=".784" stop-color="#001bff"/><stop offset=".797" stop-color="#0014ff"/><stop offset=".845" stop-color="#08fff7"/><stop offset=".897" stop-color="#a6ff59"/><stop offset=".940" stop-color="#f3ff0c"/><stop offset=".987" stop-color="#b5ff4a"/><stop offset="1.000" stop-color="#9dff62"/></linearGradient>
<linearGradient id="g493"><stop offset=".000" stop-color="#00d0ff"/><stop offset=".004" stop-color="#00cdff"/><stop offset=".009" stop-color="#00f4ff"/><stop offset=".030" stop-color="#91ff6e"/><stop offset=".039" stop-color="#b0ff4f"/><stop offset=".099" stop-color="#00f9ff"/><stop offset=".134" stop-color="#0ffff0"/><stop offset=".177" stop-color="#55ffaa"/><stop offset=".228" stop-color="#f5ff0a"/><stop offset=".328" stop-color="#ff2700"/><stop offset=".345" stop-color="#ff1d00"/><stop offset=".431" stop-color="#ffce00"/><stop offset=".517" stop-color="#ff6300"/><stop offset=".543" stop-color="#ffaf00"/><stop offset=".556" stop-color="#fff900"/><stop offset=".591" stop-color="#1effe1"/><stop offset=".603" stop-color="#00ecff"/><stop offset=".659" stop-color="#003dff"/><stop offset=".685" stop-color="#001bff"/><stop offset=".797" stop-color="#0064ff"/><stop offset=".836" stop-color="#0efff1"/><stop offset=".853" stop-color="#4affb5"/><stop offset=".892" stop-color="#89ff76"/><stop offset=".948" stop-color="#93ff6c"/><stop offset="1.000" stop-color="#6cff93"/></linearGradient>
<linearGradient id="g494" x1="0" y1="0" x2="0" y2="1"><stop offset="0" stop-color="#800000"/><stop offset="0.06" stop-color="#bf0000"/><stop offset="0.12" stop-color="#ff0000"/><stop offset="0.19" stop-color="#ff4000"/><stop offset="0.25" stop-color="#ff8000"/><stop offset="0.31" stop-color="#ffbf00"/><stop offset="0.38" stop-color="#ffff00"/><stop offset="0.44" stop-color="#bfff40"/><stop offset="0.5" stop-color="#80ff80"/><stop offset="0.56" stop-color="#40ffbf"/><stop offset="0.62" stop-color="#00ffff"/><stop offset="0.69" stop-color="#00bfff"/><stop offset="0.75" stop-color="#0080ff"/><stop offset="0.81" stop-color="#0040ff"/><stop offset="0.88" stop-color="#0000ff"/><stop offset="0.94" stop-color="#0000bf"/><stop offset="1" stop-color="#000080"/></linearGradient>
<clipPath id="c495"><rect x="130.2" y="542.9" width="122.3" height="116.5"/></clipPath>
<clipPath id="c496"><rect x="340.4" y="542.6" width="111.6" height="118.2"/></clipPath>
<clipPath id="c497"><rect x="29.6" y="751" width="244.8" height="118.2"/></clipPath>
<clipPath id="c498"><rect x="308.5" y="752.2" width="245.8" height="118.1"/></clipPath></defs>
<text x="1" y="12.6" font-size="16.2" text-anchor="start" textLength="21.2" lengthAdjust="spacingAndGlyphs" fill="#111">(a)</text>
<text x="1" y="196.2" font-size="16.2" text-anchor="start" textLength="21.2" lengthAdjust="spacingAndGlyphs" fill="#111">(b)</text>
<text x="1.6" y="515.5" font-size="16.2" text-anchor="start" textLength="21.2" lengthAdjust="spacingAndGlyphs" fill="#111">(c)</text>
<text x="1" y="709.6" font-size="16.2" text-anchor="start" textLength="21.2" lengthAdjust="spacingAndGlyphs" fill="#111">(d)</text>
<g clip-path="url(#c1)" shape-rendering="crispEdges"><rect x="17.4" y="29.6" width="50.4" height="2.3" fill="url(#g2)"/><rect x="17.4" y="31.6" width="50.4" height="2.3" fill="url(#g3)"/><rect x="17.4" y="33.6" width="50.4" height="2.3" fill="url(#g4)"/><rect x="17.4" y="35.6" width="50.4" height="2.3" fill="url(#g5)"/><rect x="17.4" y="37.6" width="50.4" height="2.3" fill="url(#g6)"/><rect x="17.4" y="39.6" width="50.4" height="2.3" fill="url(#g7)"/><rect x="17.4" y="41.6" width="50.4" height="2.3" fill="url(#g8)"/><rect x="17.4" y="43.6" width="50.4" height="2.3" fill="url(#g9)"/><rect x="17.4" y="45.6" width="50.4" height="2.3" fill="url(#g10)"/><rect x="17.4" y="47.6" width="50.4" height="2.3" fill="url(#g11)"/><rect x="17.4" y="49.6" width="50.4" height="2.3" fill="url(#g12)"/><rect x="17.4" y="51.6" width="50.4" height="2.3" fill="url(#g13)"/><rect x="17.4" y="53.6" width="50.4" height="2.3" fill="url(#g14)"/><rect x="17.4" y="55.6" width="50.4" height="2.3" fill="url(#g15)"/><rect x="17.4" y="57.6" width="50.4" height="2.3" fill="url(#g16)"/><rect x="17.4" y="59.6" width="50.4" height="2.3" fill="url(#g17)"/><rect x="17.4" y="61.6" width="50.4" height="2.3" fill="url(#g18)"/><rect x="17.4" y="63.6" width="50.4" height="2.3" fill="url(#g19)"/><rect x="17.4" y="65.6" width="50.4" height="2.3" fill="url(#g20)"/><rect x="17.4" y="67.6" width="50.4" height="2.3" fill="url(#g21)"/><rect x="17.4" y="69.6" width="50.4" height="2.3" fill="url(#g22)"/><rect x="17.4" y="71.6" width="50.4" height="2.3" fill="url(#g23)"/><rect x="17.4" y="73.6" width="50.4" height="2.3" fill="url(#g24)"/><rect x="17.4" y="75.6" width="50.4" height="2.3" fill="url(#g25)"/><rect x="17.4" y="77.6" width="50.4" height="2.3" fill="url(#g26)"/><rect x="17.4" y="79.6" width="50.4" height="0.4" fill="url(#g27)"/></g>
<path d="M69.1 34.6 L64.6 43.9 L63.8 47.0 L63.5 49.7 L63.7 52.3 L64.6 55.4 L69.1 65.0 M62.9 28.3 L61.8 32.9 L58.4 43.6 L57.8 47.0 L57.7 50.0 L57.9 53.1 L58.6 56.5 L61.7 66.0 L62.7 70.2 L63.4 75.2 L63.7 81.3 M55.5 28.3 L52.9 43.6 L52.5 50.0 L53.0 56.5 L55.4 70.6 L55.9 81.3 M48.1 28.3 L46.9 50.0 L48.0 70.2 L48.2 81.3 M40.6 28.3 L40.9 47.4 L40.5 81.3 M33.2 28.3 L34.4 42.0 L34.6 49.3 L33.1 70.2 L32.8 81.3 M25.8 28.3 L28.0 42.0 L28.4 49.3 L27.9 55.4 L25.6 70.2 L25.1 81.3 M18.2 28.3 L21.2 42.8 L21.7 48.9 L21.1 54.6 L18.1 69.5 L17.3 81.3" fill="none" stroke="#444" stroke-width="0.4" opacity="0.75" clip-path="url(#c1)"/>
<circle cx="42.6" cy="54.8" r="25.2" fill="none" stroke="#777" stroke-width="0.5"/>
<circle cx="23.7" cy="47.74" r="0.65" fill="#222"/>
<circle cx="62" cy="47.74" r="0.65" fill="#222"/>
<path d="M38.8 30.1 l-0.6 -1.2 M46.4 30.1 l0.6 -1.2 M17.7 49.5 l-1.9 -1.2 M18.1 61.9 l-1.9 0.8 M67.5 49.5 l1.9 -1.2 M67.1 61.9 l1.9 0.8" stroke="#333" stroke-width="0.75" fill="none"/>
<text x="43.1" y="24.8" font-size="7.9" text-anchor="middle" font-weight="bold" textLength="18.4" lengthAdjust="spacingAndGlyphs" fill="#111">0 ms</text>
<g clip-path="url(#c28)" shape-rendering="crispEdges"><rect x="109.2" y="29.6" width="50.4" height="2.3" fill="url(#g29)"/><rect x="109.2" y="31.6" width="50.4" height="2.3" fill="url(#g30)"/><rect x="109.2" y="33.6" width="50.4" height="2.3" fill="url(#g31)"/><rect x="109.2" y="35.6" width="50.4" height="2.3" fill="url(#g32)"/><rect x="109.2" y="37.6" width="50.4" height="2.3" fill="url(#g33)"/><rect x="109.2" y="39.6" width="50.4" height="2.3" fill="url(#g34)"/><rect x="109.2" y="41.6" width="50.4" height="2.3" fill="url(#g35)"/><rect x="109.2" y="43.6" width="50.4" height="2.3" fill="url(#g36)"/><rect x="109.2" y="45.6" width="50.4" height="2.3" fill="url(#g37)"/><rect x="109.2" y="47.6" width="50.4" height="2.3" fill="url(#g38)"/><rect x="109.2" y="49.6" width="50.4" height="2.3" fill="url(#g39)"/><rect x="109.2" y="51.6" width="50.4" height="2.3" fill="url(#g40)"/><rect x="109.2" y="53.6" width="50.4" height="2.3" fill="url(#g41)"/><rect x="109.2" y="55.6" width="50.4" height="2.3" fill="url(#g42)"/><rect x="109.2" y="57.6" width="50.4" height="2.3" fill="url(#g43)"/><rect x="109.2" y="59.6" width="50.4" height="2.3" fill="url(#g44)"/><rect x="109.2" y="61.6" width="50.4" height="2.3" fill="url(#g45)"/><rect x="109.2" y="63.6" width="50.4" height="2.3" fill="url(#g46)"/><rect x="109.2" y="65.6" width="50.4" height="2.3" fill="url(#g47)"/><rect x="109.2" y="67.6" width="50.4" height="2.3" fill="url(#g48)"/><rect x="109.2" y="69.6" width="50.4" height="2.3" fill="url(#g49)"/><rect x="109.2" y="71.6" width="50.4" height="2.3" fill="url(#g50)"/><rect x="109.2" y="73.6" width="50.4" height="2.3" fill="url(#g51)"/><rect x="109.2" y="75.6" width="50.4" height="2.3" fill="url(#g52)"/><rect x="109.2" y="77.6" width="50.4" height="2.3" fill="url(#g53)"/><rect x="109.2" y="79.6" width="50.4" height="0.4" fill="url(#g54)"/></g>
<path d="M153.4 28.3 L157.7 31.8 L160.9 35.4 M160.9 60.1 L156.7 64.6 L151.3 68.5 L144.9 71.5 L137.6 73.5 L130.0 74.3 L122.4 74.1 L114.8 72.6 L107.9 70.1 M107.9 31.3 L113.8 28.3 M142.4 28.3 L147.5 30.8 L152.1 34.2 L155.5 38.2 L157.7 42.4 L158.6 47.0 L158.1 51.6 L156.3 56.1 L153.1 60.3 L149.0 63.7 L143.7 66.6 L138.0 68.5 L131.5 69.6 L125.1 69.6 L119.0 68.7 L113.3 66.9 L107.9 64.2 M107.9 37.7 L110.4 35.6 L113.3 33.7 L116.7 32.1 L120.1 31.1 L123.9 30.4 L127.7 30.1 L131.5 30.3 L135.4 30.9 L138.8 31.9 L142.2 33.3 L145.3 35.2 L147.9 37.4 L149.9 39.8 L151.5 42.4 L152.3 45.1 L152.6 47.8 L152.3 50.4 L151.4 53.1 L149.9 55.8 L147.9 58.1 L145.3 60.3 L142.2 62.2 L138.8 63.6 L135.4 64.6 L131.5 65.2 L127.7 65.4 L123.9 65.1 L120.1 64.4 L116.7 63.4 L113.3 61.8 L110.4 59.9 L107.9 57.8 M132.3 60.7 L126.6 61.0 L120.9 60.0 L115.9 57.8 L112.3 54.6 L110.9 52.7 L110.1 50.8 L109.7 48.9 L109.7 46.6 L110.1 44.7 L111.0 42.7 L112.2 40.9 L114.0 39.1 L117.1 37.1 L120.9 35.5 L125.1 34.6 L129.6 34.5 L133.8 35.1 L138.0 36.5 L141.4 38.5 L144.0 40.9 L145.8 43.9 L146.6 47.0 L146.3 50.0 L145.0 53.1 L142.9 55.8 L139.9 58.0 L136.5 59.6 L132.3 60.7 M131.2 55.0 L127.7 55.3 L124.7 54.9 L121.6 53.7 L119.4 52.0 L117.9 49.7 L117.6 47.4 L118.2 45.1 L119.7 43.2 L121.3 42.0 L123.5 40.9 L125.8 40.3 L128.5 40.2 L131.2 40.5 L133.4 41.2 L135.4 42.3 L136.9 43.6 L138.0 45.1 L138.6 47.0 L138.5 48.9 L137.9 50.4 L136.9 51.9 L135.4 53.2 L133.4 54.3 L131.2 55.0" fill="none" stroke="#444" stroke-width="0.4" opacity="0.75" clip-path="url(#c28)"/>
<circle cx="134.4" cy="54.8" r="25.2" fill="none" stroke="#777" stroke-width="0.5"/>
<circle cx="115.5" cy="47.74" r="0.65" fill="#222"/>
<circle cx="153.8" cy="47.74" r="0.65" fill="#222"/>
<path d="M130.6 30.1 l-0.6 -1.2 M138.2 30.1 l0.6 -1.2 M109.5 49.5 l-1.9 -1.2 M109.9 61.9 l-1.9 0.8 M159.3 49.5 l1.9 -1.2 M158.9 61.9 l1.9 0.8" stroke="#333" stroke-width="0.75" fill="none"/>
<text x="134.9" y="24.8" font-size="7.9" text-anchor="middle" font-weight="bold" textLength="26.5" lengthAdjust="spacingAndGlyphs" fill="#111">100 ms</text>
<g clip-path="url(#c55)" shape-rendering="crispEdges"><rect x="201.2" y="29.6" width="50.4" height="2.3" fill="url(#g56)"/><rect x="201.2" y="31.6" width="50.4" height="2.3" fill="url(#g57)"/><rect x="201.2" y="33.6" width="50.4" height="2.3" fill="url(#g58)"/><rect x="201.2" y="35.6" width="50.4" height="2.3" fill="url(#g59)"/><rect x="201.2" y="37.6" width="50.4" height="2.3" fill="url(#g60)"/><rect x="201.2" y="39.6" width="50.4" height="2.3" fill="url(#g61)"/><rect x="201.2" y="41.6" width="50.4" height="2.3" fill="url(#g62)"/><rect x="201.2" y="43.6" width="50.4" height="2.3" fill="url(#g63)"/><rect x="201.2" y="45.6" width="50.4" height="2.3" fill="url(#g64)"/><rect x="201.2" y="47.6" width="50.4" height="2.3" fill="url(#g65)"/><rect x="201.2" y="49.6" width="50.4" height="2.3" fill="url(#g66)"/><rect x="201.2" y="51.6" width="50.4" height="2.3" fill="url(#g67)"/><rect x="201.2" y="53.6" width="50.4" height="2.3" fill="url(#g68)"/><rect x="201.2" y="55.6" width="50.4" height="2.3" fill="url(#g69)"/><rect x="201.2" y="57.6" width="50.4" height="2.3" fill="url(#g70)"/><rect x="201.2" y="59.6" width="50.4" height="2.3" fill="url(#g71)"/><rect x="201.2" y="61.6" width="50.4" height="2.3" fill="url(#g72)"/><rect x="201.2" y="63.6" width="50.4" height="2.3" fill="url(#g73)"/><rect x="201.2" y="65.6" width="50.4" height="2.3" fill="url(#g74)"/><rect x="201.2" y="67.6" width="50.4" height="2.3" fill="url(#g75)"/><rect x="201.2" y="69.6" width="50.4" height="2.3" fill="url(#g76)"/><rect x="201.2" y="71.6" width="50.4" height="2.3" fill="url(#g77)"/><rect x="201.2" y="73.6" width="50.4" height="2.3" fill="url(#g78)"/><rect x="201.2" y="75.6" width="50.4" height="2.3" fill="url(#g79)"/><rect x="201.2" y="77.6" width="50.4" height="2.3" fill="url(#g80)"/><rect x="201.2" y="79.6" width="50.4" height="0.4" fill="url(#g81)"/></g>
<path d="M252.9 35.5 L248.3 44.2 L247.5 47.0 L247.2 49.7 L247.4 52.3 L248.3 55.4 L252.9 64.0 M247.0 28.3 L245.8 32.9 L242.2 43.2 L241.5 46.6 L241.3 50.0 L241.6 53.1 L242.3 56.5 L245.8 66.4 L246.9 70.6 L247.5 75.2 L247.8 81.3 M239.3 28.3 L236.6 43.2 L236.1 50.0 L236.6 56.5 L239.3 71.0 L239.8 81.3 M231.7 28.3 L230.6 50.4 L231.7 70.2 L231.9 81.3 M224.1 28.3 L224.5 48.1 L223.9 81.3 M216.5 28.3 L218.0 41.7 L218.3 49.3 L218.0 55.8 L216.3 70.6 L215.9 81.3 M208.9 28.3 L211.7 42.0 L212.3 49.3 L211.6 55.8 L208.6 70.6 L207.9 81.3 M201.0 28.3 L204.9 42.4 L205.5 45.9 L205.7 48.9 L204.9 54.6 L202.0 64.5 L200.9 69.1 L200.3 74.0 L199.9 79.9" fill="none" stroke="#444" stroke-width="0.4" opacity="0.75" clip-path="url(#c55)"/>
<circle cx="226.4" cy="54.8" r="25.2" fill="none" stroke="#777" stroke-width="0.5"/>
<circle cx="207.5" cy="47.74" r="0.65" fill="#222"/>
<circle cx="245.8" cy="47.74" r="0.65" fill="#222"/>
<path d="M222.6 30.1 l-0.6 -1.2 M230.2 30.1 l0.6 -1.2 M201.5 49.5 l-1.9 -1.2 M201.9 61.9 l-1.9 0.8 M251.3 49.5 l1.9 -1.2 M250.9 61.9 l1.9 0.8" stroke="#333" stroke-width="0.75" fill="none"/>
<text x="226.9" y="24.8" font-size="7.9" text-anchor="middle" font-weight="bold" textLength="26.5" lengthAdjust="spacingAndGlyphs" fill="#111">200 ms</text>
<g clip-path="url(#c82)" shape-rendering="crispEdges"><rect x="17.4" y="104.4" width="50.4" height="2.3" fill="url(#g83)"/><rect x="17.4" y="106.4" width="50.4" height="2.3" fill="url(#g84)"/><rect x="17.4" y="108.4" width="50.4" height="2.3" fill="url(#g85)"/><rect x="17.4" y="110.4" width="50.4" height="2.3" fill="url(#g86)"/><rect x="17.4" y="112.4" width="50.4" height="2.3" fill="url(#g87)"/><rect x="17.4" y="114.4" width="50.4" height="2.3" fill="url(#g88)"/><rect x="17.4" y="116.4" width="50.4" height="2.3" fill="url(#g89)"/><rect x="17.4" y="118.4" width="50.4" height="2.3" fill="url(#g90)"/><rect x="17.4" y="120.4" width="50.4" height="2.3" fill="url(#g91)"/><rect x="17.4" y="122.4" width="50.4" height="2.3" fill="url(#g92)"/><rect x="17.4" y="124.4" width="50.4" height="2.3" fill="url(#g93)"/><rect x="17.4" y="126.4" width="50.4" height="2.3" fill="url(#g94)"/><rect x="17.4" y="128.4" width="50.4" height="2.3" fill="url(#g95)"/><rect x="17.4" y="130.4" width="50.4" height="2.3" fill="url(#g96)"/><rect x="17.4" y="132.4" width="50.4" height="2.3" fill="url(#g97)"/><rect x="17.4" y="134.4" width="50.4" height="2.3" fill="url(#g98)"/><rect x="17.4" y="136.4" width="50.4" height="2.3" fill="url(#g99)"/><rect x="17.4" y="138.4" width="50.4" height="2.3" fill="url(#g100)"/><rect x="17.4" y="140.4" width="50.4" height="2.3" fill="url(#g101)"/><rect x="17.4" y="142.4" width="50.4" height="2.3" fill="url(#g102)"/><rect x="17.4" y="144.4" width="50.4" height="2.3" fill="url(#g103)"/><rect x="17.4" y="146.4" width="50.4" height="2.3" fill="url(#g104)"/><rect x="17.4" y="148.4" width="50.4" height="2.3" fill="url(#g105)"/><rect x="17.4" y="150.4" width="50.4" height="2.3" fill="url(#g106)"/><rect x="17.4" y="152.4" width="50.4" height="2.3" fill="url(#g107)"/><rect x="17.4" y="154.4" width="50.4" height="0.4" fill="url(#g108)"/></g>
<path d="M16.1 139.9 L20.7 129.8 L21.7 126.4 L22.0 123.3 L21.7 120.3 L20.8 116.8 L16.1 106.7 M21.5 156.1 L21.8 150.3 L22.5 145.8 L23.6 141.6 L27.1 130.9 L27.8 127.5 L28.1 124.1 L27.9 120.3 L27.2 116.1 L23.1 103.1 M29.5 156.1 L30.1 146.2 L32.9 130.9 L33.5 124.1 L33.0 116.1 L30.5 103.1 M37.5 156.1 L37.7 145.8 L39.1 123.7 L38.9 116.1 L37.9 103.1 M45.5 156.1 L45.0 126.7 L45.4 103.1 M53.5 156.1 L53.0 146.9 L51.3 132.1 L50.9 125.2 L51.3 117.6 L53.0 103.1 M61.5 156.1 L60.7 146.5 L57.5 131.7 L56.9 125.2 L57.4 118.0 L60.6 103.1 M69.1 149.1 L67.7 142.0 L64.1 130.2 L63.4 124.8 L64.1 118.7 L67.5 108.1 L68.6 103.1" fill="none" stroke="#444" stroke-width="0.4" opacity="0.75" clip-path="url(#c82)"/>
<circle cx="42.6" cy="129.6" r="25.2" fill="none" stroke="#777" stroke-width="0.5"/>
<circle cx="23.7" cy="122.54" r="0.65" fill="#222"/>
<circle cx="62" cy="122.54" r="0.65" fill="#222"/>
<path d="M38.8 104.9 l-0.6 -1.2 M46.4 104.9 l0.6 -1.2 M17.7 124.3 l-1.9 -1.2 M18.1 136.7 l-1.9 0.8 M67.5 124.3 l1.9 -1.2 M67.1 136.7 l1.9 0.8" stroke="#333" stroke-width="0.75" fill="none"/>
<text x="43.1" y="99.6" font-size="7.9" text-anchor="middle" font-weight="bold" textLength="26.5" lengthAdjust="spacingAndGlyphs" fill="#111">300 ms</text>
<g clip-path="url(#c109)" shape-rendering="crispEdges"><rect x="109.2" y="104.4" width="50.4" height="2.3" fill="url(#g110)"/><rect x="109.2" y="106.4" width="50.4" height="2.3" fill="url(#g111)"/><rect x="109.2" y="108.4" width="50.4" height="2.3" fill="url(#g112)"/><rect x="109.2" y="110.4" width="50.4" height="2.3" fill="url(#g113)"/><rect x="109.2" y="112.4" width="50.4" height="2.3" fill="url(#g114)"/><rect x="109.2" y="114.4" width="50.4" height="2.3" fill="url(#g115)"/><rect x="109.2" y="116.4" width="50.4" height="2.3" fill="url(#g116)"/><rect x="109.2" y="118.4" width="50.4" height="2.3" fill="url(#g117)"/><rect x="109.2" y="120.4" width="50.4" height="2.3" fill="url(#g118)"/><rect x="109.2" y="122.4" width="50.4" height="2.3" fill="url(#g119)"/><rect x="109.2" y="124.4" width="50.4" height="2.3" fill="url(#g120)"/><rect x="109.2" y="126.4" width="50.4" height="2.3" fill="url(#g121)"/><rect x="109.2" y="128.4" width="50.4" height="2.3" fill="url(#g122)"/><rect x="109.2" y="130.4" width="50.4" height="2.3" fill="url(#g123)"/><rect x="109.2" y="132.4" width="50.4" height="2.3" fill="url(#g124)"/><rect x="109.2" y="134.4" width="50.4" height="2.3" fill="url(#g125)"/><rect x="109.2" y="136.4" width="50.4" height="2.3" fill="url(#g126)"/><rect x="109.2" y="138.4" width="50.4" height="2.3" fill="url(#g127)"/><rect x="109.2" y="140.4" width="50.4" height="2.3" fill="url(#g128)"/><rect x="109.2" y="142.4" width="50.4" height="2.3" fill="url(#g129)"/><rect x="109.2" y="144.4" width="50.4" height="2.3" fill="url(#g130)"/><rect x="109.2" y="146.4" width="50.4" height="2.3" fill="url(#g131)"/><rect x="109.2" y="148.4" width="50.4" height="2.3" fill="url(#g132)"/><rect x="109.2" y="150.4" width="50.4" height="2.3" fill="url(#g133)"/><rect x="109.2" y="152.4" width="50.4" height="2.3" fill="url(#g134)"/><rect x="109.2" y="154.4" width="50.4" height="0.4" fill="url(#g135)"/></g>
<path d="M107.9 128.4 L110.2 130.6 L112.9 131.9 L115.9 132.3 L119.0 131.8 L121.6 130.3 L123.7 128.3 L125.0 125.6 L125.5 122.6 L125.0 119.5 L123.7 116.8 L121.6 114.8 L119.0 113.3 L115.9 112.8 L112.9 113.2 L110.1 114.6 L107.9 116.7 M107.9 137.4 L112.1 138.9 L116.3 139.3 L120.5 138.6 L124.3 137.0 L127.7 134.4 L130.3 130.9 L132.0 126.7 L132.5 122.6 L132.0 118.4 L130.3 114.2 L127.7 110.8 L124.3 108.1 L120.5 106.5 L116.3 105.8 L112.1 106.2 L107.9 107.7 M107.9 144.2 L112.1 145.3 L116.3 145.6 L120.5 145.1 L124.3 144.0 L128.1 142.0 L131.5 139.4 L134.3 136.3 L136.4 132.8 L137.9 129.0 L138.7 124.8 L138.7 120.7 L138.0 116.5 L136.5 112.5 L134.3 108.9 L131.5 105.7 L128.2 103.1 M107.9 150.5 L112.5 151.4 L117.1 151.6 L121.6 151.0 L126.2 149.6 L130.4 147.6 L134.2 145.0 L137.6 141.6 L140.5 137.8 L142.6 133.6 L144.1 129.0 L144.7 124.5 L144.7 119.9 L143.9 115.3 L142.3 110.8 L140.3 106.9 L137.4 103.1 M128.1 156.1 L131.9 154.4 L135.4 152.4 L138.6 150.0 L141.4 147.3 L144.1 144.3 L146.2 141.2 L148.0 137.8 L149.6 134.0 L150.6 130.2 L151.3 126.0 L151.5 121.8 L151.2 118.0 L150.5 114.2 L149.3 110.4 L147.7 106.6 L145.7 103.1 M153.4 156.1 L157.6 150.7 L160.9 145.1" fill="none" stroke="#444" stroke-width="0.4" opacity="0.75" clip-path="url(#c109)"/>
<circle cx="134.4" cy="129.6" r="25.2" fill="none" stroke="#777" stroke-width="0.5"/>
<circle cx="115.5" cy="122.54" r="0.65" fill="#222"/>
<circle cx="153.8" cy="122.54" r="0.65" fill="#222"/>
<path d="M130.6 104.9 l-0.6 -1.2 M138.2 104.9 l0.6 -1.2 M109.5 124.3 l-1.9 -1.2 M109.9 136.7 l-1.9 0.8 M159.3 124.3 l1.9 -1.2 M158.9 136.7 l1.9 0.8" stroke="#333" stroke-width="0.75" fill="none"/>
<text x="134.9" y="99.6" font-size="7.9" text-anchor="middle" font-weight="bold" textLength="26.5" lengthAdjust="spacingAndGlyphs" fill="#111">400 ms</text>
<g clip-path="url(#c136)" shape-rendering="crispEdges"><rect x="201.2" y="104.4" width="50.4" height="2.3" fill="url(#g137)"/><rect x="201.2" y="106.4" width="50.4" height="2.3" fill="url(#g138)"/><rect x="201.2" y="108.4" width="50.4" height="2.3" fill="url(#g139)"/><rect x="201.2" y="110.4" width="50.4" height="2.3" fill="url(#g140)"/><rect x="201.2" y="112.4" width="50.4" height="2.3" fill="url(#g141)"/><rect x="201.2" y="114.4" width="50.4" height="2.3" fill="url(#g142)"/><rect x="201.2" y="116.4" width="50.4" height="2.3" fill="url(#g143)"/><rect x="201.2" y="118.4" width="50.4" height="2.3" fill="url(#g144)"/><rect x="201.2" y="120.4" width="50.4" height="2.3" fill="url(#g145)"/><rect x="201.2" y="122.4" width="50.4" height="2.3" fill="url(#g146)"/><rect x="201.2" y="124.4" width="50.4" height="2.3" fill="url(#g147)"/><rect x="201.2" y="126.4" width="50.4" height="2.3" fill="url(#g148)"/><rect x="201.2" y="128.4" width="50.4" height="2.3" fill="url(#g149)"/><rect x="201.2" y="130.4" width="50.4" height="2.3" fill="url(#g150)"/><rect x="201.2" y="132.4" width="50.4" height="2.3" fill="url(#g151)"/><rect x="201.2" y="134.4" width="50.4" height="2.3" fill="url(#g152)"/><rect x="201.2" y="136.4" width="50.4" height="2.3" fill="url(#g153)"/><rect x="201.2" y="138.4" width="50.4" height="2.3" fill="url(#g154)"/><rect x="201.2" y="140.4" width="50.4" height="2.3" fill="url(#g155)"/><rect x="201.2" y="142.4" width="50.4" height="2.3" fill="url(#g156)"/><rect x="201.2" y="144.4" width="50.4" height="2.3" fill="url(#g157)"/><rect x="201.2" y="146.4" width="50.4" height="2.3" fill="url(#g158)"/><rect x="201.2" y="148.4" width="50.4" height="2.3" fill="url(#g159)"/><rect x="201.2" y="150.4" width="50.4" height="2.3" fill="url(#g160)"/><rect x="201.2" y="152.4" width="50.4" height="2.3" fill="url(#g161)"/><rect x="201.2" y="154.4" width="50.4" height="0.4" fill="url(#g162)"/></g>
<path d="M199.9 127.2 L201.8 129.3 L204.1 130.5 L206.8 131.0 L209.5 130.7 L212.0 129.4 L213.9 127.5 L215.0 125.2 L215.5 122.6 L215.1 119.9 L213.9 117.6 L212.0 115.7 L209.5 114.4 L206.8 114.1 L204.1 114.6 L201.8 115.8 L199.9 117.8 M199.9 136.2 L203.7 137.6 L207.6 137.9 L211.4 137.3 L215.2 135.6 L218.2 133.1 L220.5 129.9 L221.9 126.4 L222.4 122.6 L221.9 118.7 L220.5 115.1 L218.2 112.0 L215.2 109.5 L211.4 107.8 L207.6 107.2 L203.7 107.5 L199.9 108.9 M199.9 143.7 L203.7 144.6 L207.9 144.8 L212.1 144.3 L215.9 143.0 L219.7 140.9 L222.8 138.3 L225.4 135.1 L227.4 131.7 L228.7 127.9 L229.3 123.7 L229.1 119.5 L228.2 115.7 L226.6 111.9 L224.3 108.5 L221.3 105.4 L218.0 103.1 M199.9 152.0 L204.5 152.7 L209.5 152.7 L214.0 152.0 L218.6 150.5 L222.8 148.3 L226.6 145.6 L229.8 142.4 L232.7 138.5 L234.8 134.4 L236.4 129.8 L237.1 125.2 L237.2 120.3 L236.5 115.7 L235.0 111.1 L232.9 106.9 L230.2 103.1 M226.7 156.1 L230.0 153.9 L233.0 151.5 L238.0 146.0 L241.9 139.7 L243.4 136.3 L244.6 132.5 L245.4 128.6 L245.8 124.8 L245.5 117.2 L243.8 110.0 L240.7 103.1 M252.9 110.0 L250.4 103.1 M240.7 156.1 L244.9 151.3 L248.3 146.2 L250.9 140.8 L252.9 135.0" fill="none" stroke="#444" stroke-width="0.4" opacity="0.75" clip-path="url(#c136)"/>
<circle cx="226.4" cy="129.6" r="25.2" fill="none" stroke="#777" stroke-width="0.5"/>
<circle cx="207.5" cy="122.54" r="0.65" fill="#222"/>
<circle cx="245.8" cy="122.54" r="0.65" fill="#222"/>
<path d="M222.6 104.9 l-0.6 -1.2 M230.2 104.9 l0.6 -1.2 M201.5 124.3 l-1.9 -1.2 M201.9 136.7 l-1.9 0.8 M251.3 124.3 l1.9 -1.2 M250.9 136.7 l1.9 0.8" stroke="#333" stroke-width="0.75" fill="none"/>
<text x="226.9" y="99.6" font-size="7.9" text-anchor="middle" font-weight="bold" textLength="26.5" lengthAdjust="spacingAndGlyphs" fill="#111">500 ms</text>
<g clip-path="url(#c163)" shape-rendering="crispEdges"><rect x="305.8" y="29.6" width="50.4" height="2.3" fill="url(#g164)"/><rect x="305.8" y="31.6" width="50.4" height="2.3" fill="url(#g165)"/><rect x="305.8" y="33.6" width="50.4" height="2.3" fill="url(#g166)"/><rect x="305.8" y="35.6" width="50.4" height="2.3" fill="url(#g167)"/><rect x="305.8" y="37.6" width="50.4" height="2.3" fill="url(#g168)"/><rect x="305.8" y="39.6" width="50.4" height="2.3" fill="url(#g169)"/><rect x="305.8" y="41.6" width="50.4" height="2.3" fill="url(#g170)"/><rect x="305.8" y="43.6" width="50.4" height="2.3" fill="url(#g171)"/><rect x="305.8" y="45.6" width="50.4" height="2.3" fill="url(#g172)"/><rect x="305.8" y="47.6" width="50.4" height="2.3" fill="url(#g173)"/><rect x="305.8" y="49.6" width="50.4" height="2.3" fill="url(#g174)"/><rect x="305.8" y="51.6" width="50.4" height="2.3" fill="url(#g175)"/><rect x="305.8" y="53.6" width="50.4" height="2.3" fill="url(#g176)"/><rect x="305.8" y="55.6" width="50.4" height="2.3" fill="url(#g177)"/><rect x="305.8" y="57.6" width="50.4" height="2.3" fill="url(#g178)"/><rect x="305.8" y="59.6" width="50.4" height="2.3" fill="url(#g179)"/><rect x="305.8" y="61.6" width="50.4" height="2.3" fill="url(#g180)"/><rect x="305.8" y="63.6" width="50.4" height="2.3" fill="url(#g181)"/><rect x="305.8" y="65.6" width="50.4" height="2.3" fill="url(#g182)"/><rect x="305.8" y="67.6" width="50.4" height="2.3" fill="url(#g183)"/><rect x="305.8" y="69.6" width="50.4" height="2.3" fill="url(#g184)"/><rect x="305.8" y="71.6" width="50.4" height="2.3" fill="url(#g185)"/><rect x="305.8" y="73.6" width="50.4" height="2.3" fill="url(#g186)"/><rect x="305.8" y="75.6" width="50.4" height="2.3" fill="url(#g187)"/><rect x="305.8" y="77.6" width="50.4" height="2.3" fill="url(#g188)"/><rect x="305.8" y="79.6" width="50.4" height="0.4" fill="url(#g189)"/></g>
<path d="M357.5 36.7 L352.9 44.1 L351.9 47.0 L351.6 49.7 L351.9 52.3 L352.9 55.4 L357.5 62.9 M352.1 28.3 L350.9 32.5 L346.7 43.2 L346.0 46.6 L345.8 50.0 L346.0 53.2 L346.8 56.6 L350.8 66.8 L352.0 70.6 L352.7 75.2 L353.1 81.3 M344.1 28.3 L341.1 43.2 L340.6 50.4 L341.2 56.9 L344.1 71.0 L344.7 81.3 M336.3 28.3 L335.1 50.4 L336.2 70.2 L336.4 81.3 M328.4 28.3 L329.0 48.5 L328.1 81.3 M320.6 28.3 L322.5 41.7 L322.9 49.3 L322.4 56.1 L320.3 71.0 L319.8 81.3 M312.8 28.3 L316.3 41.7 L316.9 45.5 L317.0 49.3 L316.2 55.8 L312.4 71.0 L311.5 81.3 M304.5 28.5 L305.8 32.5 L309.5 42.2 L310.2 45.5 L310.5 48.5 L310.2 51.6 L309.5 54.8 L305.8 64.5 L304.5 68.5" fill="none" stroke="#444" stroke-width="0.4" opacity="0.75" clip-path="url(#c163)"/>
<circle cx="331" cy="54.8" r="25.2" fill="none" stroke="#777" stroke-width="0.5"/>
<circle cx="312.1" cy="47.74" r="0.65" fill="#222"/>
<circle cx="350.4" cy="47.74" r="0.65" fill="#222"/>
<path d="M327.2 30.1 l-0.6 -1.2 M334.8 30.1 l0.6 -1.2 M306.1 49.5 l-1.9 -1.2 M306.5 61.9 l-1.9 0.8 M355.9 49.5 l1.9 -1.2 M355.5 61.9 l1.9 0.8" stroke="#333" stroke-width="0.75" fill="none"/>
<text x="331.5" y="24.8" font-size="7.9" text-anchor="middle" font-weight="bold" textLength="18.4" lengthAdjust="spacingAndGlyphs" fill="#111">0 ms</text>
<g clip-path="url(#c190)" shape-rendering="crispEdges"><rect x="398.6" y="29.6" width="50.4" height="2.3" fill="url(#g191)"/><rect x="398.6" y="31.6" width="50.4" height="2.3" fill="url(#g192)"/><rect x="398.6" y="33.6" width="50.4" height="2.3" fill="url(#g193)"/><rect x="398.6" y="35.6" width="50.4" height="2.3" fill="url(#g194)"/><rect x="398.6" y="37.6" width="50.4" height="2.3" fill="url(#g195)"/><rect x="398.6" y="39.6" width="50.4" height="2.3" fill="url(#g196)"/><rect x="398.6" y="41.6" width="50.4" height="2.3" fill="url(#g197)"/><rect x="398.6" y="43.6" width="50.4" height="2.3" fill="url(#g198)"/><rect x="398.6" y="45.6" width="50.4" height="2.3" fill="url(#g199)"/><rect x="398.6" y="47.6" width="50.4" height="2.3" fill="url(#g200)"/><rect x="398.6" y="49.6" width="50.4" height="2.3" fill="url(#g201)"/><rect x="398.6" y="51.6" width="50.4" height="2.3" fill="url(#g202)"/><rect x="398.6" y="53.6" width="50.4" height="2.3" fill="url(#g203)"/><rect x="398.6" y="55.6" width="50.4" height="2.3" fill="url(#g204)"/><rect x="398.6" y="57.6" width="50.4" height="2.3" fill="url(#g205)"/><rect x="398.6" y="59.6" width="50.4" height="2.3" fill="url(#g206)"/><rect x="398.6" y="61.6" width="50.4" height="2.3" fill="url(#g207)"/><rect x="398.6" y="63.6" width="50.4" height="2.3" fill="url(#g208)"/><rect x="398.6" y="65.6" width="50.4" height="2.3" fill="url(#g209)"/><rect x="398.6" y="67.6" width="50.4" height="2.3" fill="url(#g210)"/><rect x="398.6" y="69.6" width="50.4" height="2.3" fill="url(#g211)"/><rect x="398.6" y="71.6" width="50.4" height="2.3" fill="url(#g212)"/><rect x="398.6" y="73.6" width="50.4" height="2.3" fill="url(#g213)"/><rect x="398.6" y="75.6" width="50.4" height="2.3" fill="url(#g214)"/><rect x="398.6" y="77.6" width="50.4" height="2.3" fill="url(#g215)"/><rect x="398.6" y="79.6" width="50.4" height="0.4" fill="url(#g216)"/></g>
<path d="M449.6 28.3 L448.2 34.4 L444.2 43.9 L443.4 48.5 L444.2 53.1 L447.8 61.5 L449.2 66.0 L449.8 71.7 L450.0 81.3 M440.3 28.3 L439.5 33.3 L437.1 43.2 L436.6 48.9 L437.1 54.2 L440.1 67.6 L440.6 72.9 L440.7 81.3 M431.3 28.3 L430.2 48.5 L431.2 67.2 L431.4 81.3 M422.4 28.3 L423.6 41.7 L423.8 49.3 L423.5 55.8 L422.3 70.2 L422.1 81.3 M414.1 28.3 L417.6 41.3 L418.2 45.5 L418.4 49.3 L417.5 56.5 L413.6 71.4 L413.0 75.5 L412.8 81.3 M406.0 28.3 L410.7 36.7 L412.4 40.5 L413.6 45.1 L413.9 49.7 L413.3 53.5 L412.1 57.3 L406.5 67.6 L404.9 71.4 L403.9 75.5 L403.5 81.3 M397.3 29.9 L399.2 32.1 L404.6 37.2 L407.0 40.1 L409.0 44.3 L409.6 48.5 L409.0 52.7 L406.9 56.9 L404.6 59.8 L399.2 64.9 L397.3 67.1 M397.3 40.1 L400.4 41.6 L402.6 43.6 L404.0 45.9 L404.5 48.5 L404.0 51.2 L402.6 53.5 L400.4 55.4 L397.3 56.9" fill="none" stroke="#444" stroke-width="0.4" opacity="0.75" clip-path="url(#c190)"/>
<circle cx="423.8" cy="54.8" r="25.2" fill="none" stroke="#777" stroke-width="0.5"/>
<circle cx="404.9" cy="47.74" r="0.65" fill="#222"/>
<circle cx="443.2" cy="47.74" r="0.65" fill="#222"/>
<path d="M420.0 30.1 l-0.6 -1.2 M427.6 30.1 l0.6 -1.2 M398.9 49.5 l-1.9 -1.2 M399.3 61.9 l-1.9 0.8 M448.7 49.5 l1.9 -1.2 M448.3 61.9 l1.9 0.8" stroke="#333" stroke-width="0.75" fill="none"/>
<text x="424.3" y="24.8" font-size="7.9" text-anchor="middle" font-weight="bold" textLength="26.5" lengthAdjust="spacingAndGlyphs" fill="#111">100 ms</text>
<g clip-path="url(#c217)" shape-rendering="crispEdges"><rect x="491.4" y="29.6" width="50.4" height="2.3" fill="url(#g218)"/><rect x="491.4" y="31.6" width="50.4" height="2.3" fill="url(#g219)"/><rect x="491.4" y="33.6" width="50.4" height="2.3" fill="url(#g220)"/><rect x="491.4" y="35.6" width="50.4" height="2.3" fill="url(#g221)"/><rect x="491.4" y="37.6" width="50.4" height="2.3" fill="url(#g222)"/><rect x="491.4" y="39.6" width="50.4" height="2.3" fill="url(#g223)"/><rect x="491.4" y="41.6" width="50.4" height="2.3" fill="url(#g224)"/><rect x="491.4" y="43.6" width="50.4" height="2.3" fill="url(#g225)"/><rect x="491.4" y="45.6" width="50.4" height="2.3" fill="url(#g226)"/><rect x="491.4" y="47.6" width="50.4" height="2.3" fill="url(#g227)"/><rect x="491.4" y="49.6" width="50.4" height="2.3" fill="url(#g228)"/><rect x="491.4" y="51.6" width="50.4" height="2.3" fill="url(#g229)"/><rect x="491.4" y="53.6" width="50.4" height="2.3" fill="url(#g230)"/><rect x="491.4" y="55.6" width="50.4" height="2.3" fill="url(#g231)"/><rect x="491.4" y="57.6" width="50.4" height="2.3" fill="url(#g232)"/><rect x="491.4" y="59.6" width="50.4" height="2.3" fill="url(#g233)"/><rect x="491.4" y="61.6" width="50.4" height="2.3" fill="url(#g234)"/><rect x="491.4" y="63.6" width="50.4" height="2.3" fill="url(#g235)"/><rect x="491.4" y="65.6" width="50.4" height="2.3" fill="url(#g236)"/><rect x="491.4" y="67.6" width="50.4" height="2.3" fill="url(#g237)"/><rect x="491.4" y="69.6" width="50.4" height="2.3" fill="url(#g238)"/><rect x="491.4" y="71.6" width="50.4" height="2.3" fill="url(#g239)"/><rect x="491.4" y="73.6" width="50.4" height="2.3" fill="url(#g240)"/><rect x="491.4" y="75.6" width="50.4" height="2.3" fill="url(#g241)"/><rect x="491.4" y="77.6" width="50.4" height="2.3" fill="url(#g242)"/><rect x="491.4" y="79.6" width="50.4" height="0.4" fill="url(#g243)"/></g>
<path d="M490.1 54.5 L492.4 56.4 L495.1 57.5 L498.1 57.9 L501.2 57.2 L503.9 55.8 L506.0 53.5 L507.3 50.8 L507.8 47.8 L507.4 44.7 L506.1 42.0 L503.9 39.8 L501.2 38.2 L498.1 37.6 L495.1 38.0 L492.4 39.1 L490.1 41.0 M490.1 63.3 L494.3 64.7 L498.5 65.1 L502.7 64.3 L506.9 62.4 L510.3 59.6 L512.9 56.1 L514.5 51.9 L515.0 47.8 L514.5 43.6 L512.9 39.4 L510.3 35.9 L506.9 33.1 L502.7 31.2 L498.5 30.4 L494.3 30.7 L490.1 32.2 M490.1 70.5 L494.3 71.5 L498.5 71.7 L502.7 71.2 L506.5 70.0 L510.3 68.1 L513.7 65.5 L516.8 62.2 L518.9 58.8 L520.5 55.0 L521.5 50.8 L521.6 46.6 L521.0 42.1 L519.7 38.2 L517.6 34.4 L514.9 31.1 L511.7 28.3 M490.1 77.0 L494.7 77.8 L499.7 77.9 L504.2 77.3 L508.8 75.9 L513.0 73.8 L517.1 71.0 L520.6 67.6 L523.3 63.9 L525.4 59.9 L527.0 55.4 L527.8 50.8 L527.9 45.9 L527.2 41.3 L525.9 36.7 L523.6 32.2 L520.9 28.3 M512.2 81.3 L515.6 79.6 L519.1 77.4 L522.1 74.9 L524.9 72.1 L527.4 69.1 L529.5 65.7 L531.2 62.2 L532.6 58.4 L533.6 54.6 L534.1 50.8 L534.2 46.6 L533.9 42.8 L533.2 39.0 L532.0 35.2 L530.6 31.8 L528.7 28.3 M537.5 81.3 L540.4 77.4 L543.1 73.2" fill="none" stroke="#444" stroke-width="0.4" opacity="0.75" clip-path="url(#c217)"/>
<circle cx="516.6" cy="54.8" r="25.2" fill="none" stroke="#777" stroke-width="0.5"/>
<circle cx="497.7" cy="47.74" r="0.65" fill="#222"/>
<circle cx="536" cy="47.74" r="0.65" fill="#222"/>
<path d="M512.8 30.1 l-0.6 -1.2 M520.4 30.1 l0.6 -1.2 M491.7 49.5 l-1.9 -1.2 M492.1 61.9 l-1.9 0.8 M541.5 49.5 l1.9 -1.2 M541.1 61.9 l1.9 0.8" stroke="#333" stroke-width="0.75" fill="none"/>
<text x="517.1" y="24.8" font-size="7.9" text-anchor="middle" font-weight="bold" textLength="26.5" lengthAdjust="spacingAndGlyphs" fill="#111">200 ms</text>
<g clip-path="url(#c244)" shape-rendering="crispEdges"><rect x="305.8" y="104.4" width="50.4" height="2.3" fill="url(#g245)"/><rect x="305.8" y="106.4" width="50.4" height="2.3" fill="url(#g246)"/><rect x="305.8" y="108.4" width="50.4" height="2.3" fill="url(#g247)"/><rect x="305.8" y="110.4" width="50.4" height="2.3" fill="url(#g248)"/><rect x="305.8" y="112.4" width="50.4" height="2.3" fill="url(#g249)"/><rect x="305.8" y="114.4" width="50.4" height="2.3" fill="url(#g250)"/><rect x="305.8" y="116.4" width="50.4" height="2.3" fill="url(#g251)"/><rect x="305.8" y="118.4" width="50.4" height="2.3" fill="url(#g252)"/><rect x="305.8" y="120.4" width="50.4" height="2.3" fill="url(#g253)"/><rect x="305.8" y="122.4" width="50.4" height="2.3" fill="url(#g254)"/><rect x="305.8" y="124.4" width="50.4" height="2.3" fill="url(#g255)"/><rect x="305.8" y="126.4" width="50.4" height="2.3" fill="url(#g256)"/><rect x="305.8" y="128.4" width="50.4" height="2.3" fill="url(#g257)"/><rect x="305.8" y="130.4" width="50.4" height="2.3" fill="url(#g258)"/><rect x="305.8" y="132.4" width="50.4" height="2.3" fill="url(#g259)"/><rect x="305.8" y="134.4" width="50.4" height="2.3" fill="url(#g260)"/><rect x="305.8" y="136.4" width="50.4" height="2.3" fill="url(#g261)"/><rect x="305.8" y="138.4" width="50.4" height="2.3" fill="url(#g262)"/><rect x="305.8" y="140.4" width="50.4" height="2.3" fill="url(#g263)"/><rect x="305.8" y="142.4" width="50.4" height="2.3" fill="url(#g264)"/><rect x="305.8" y="144.4" width="50.4" height="2.3" fill="url(#g265)"/><rect x="305.8" y="146.4" width="50.4" height="2.3" fill="url(#g266)"/><rect x="305.8" y="148.4" width="50.4" height="2.3" fill="url(#g267)"/><rect x="305.8" y="150.4" width="50.4" height="2.3" fill="url(#g268)"/><rect x="305.8" y="152.4" width="50.4" height="2.3" fill="url(#g269)"/><rect x="305.8" y="154.4" width="50.4" height="0.4" fill="url(#g270)"/></g>
<path d="M304.5 135.1 L308.0 136.6 L311.4 137.0 L315.2 136.6 L318.6 135.2 L321.6 132.8 L323.7 130.2 L325.1 126.7 L325.6 122.9 L325.1 119.5 L323.7 116.1 L321.4 113.0 L318.6 110.9 L315.2 109.5 L311.4 109.0 L308.0 109.5 L304.5 111.0 M304.5 141.5 L309.1 142.6 L314.1 142.6 L318.6 141.5 L322.8 139.3 L326.6 135.9 L329.1 132.1 L330.8 127.5 L331.3 122.9 L330.8 118.4 L329.0 113.8 L326.4 110.0 L322.8 106.8 L318.6 104.6 L314.1 103.5 L309.1 103.5 L304.5 104.6 M304.5 147.3 L308.7 148.1 L313.3 148.2 L317.5 147.6 L321.7 146.2 L325.5 144.1 L328.9 141.4 L331.8 138.2 L334.2 134.4 L335.8 130.2 L336.7 126.0 L336.8 121.8 L336.2 117.6 L334.9 113.4 L333.0 109.6 L330.4 106.2 L327.1 103.1 M304.5 153.0 L309.1 153.7 L314.1 153.7 L319.0 152.9 L323.6 151.4 L327.8 149.2 L331.9 146.2 L335.2 142.7 L337.9 138.9 L340.0 134.7 L341.5 130.2 L342.2 125.6 L342.2 120.7 L341.4 115.7 L339.9 111.2 L337.8 106.9 L335.0 103.1 M328.2 156.1 L331.6 154.2 L334.6 152.0 L337.7 149.3 L340.1 146.5 L342.4 143.5 L344.4 140.1 L346.0 136.6 L347.3 132.8 L348.1 129.0 L348.5 125.2 L348.5 121.4 L348.2 117.6 L347.4 113.8 L346.2 110.0 L344.7 106.6 L342.8 103.1 M350.2 156.1 L354.2 150.7 L357.5 144.9" fill="none" stroke="#444" stroke-width="0.4" opacity="0.75" clip-path="url(#c244)"/>
<circle cx="331" cy="129.6" r="25.2" fill="none" stroke="#777" stroke-width="0.5"/>
<circle cx="312.1" cy="122.54" r="0.65" fill="#222"/>
<circle cx="350.4" cy="122.54" r="0.65" fill="#222"/>
<path d="M327.2 104.9 l-0.6 -1.2 M334.8 104.9 l0.6 -1.2 M306.1 124.3 l-1.9 -1.2 M306.5 136.7 l-1.9 0.8 M355.9 124.3 l1.9 -1.2 M355.5 136.7 l1.9 0.8" stroke="#333" stroke-width="0.75" fill="none"/>
<text x="331.5" y="99.6" font-size="7.9" text-anchor="middle" font-weight="bold" textLength="26.5" lengthAdjust="spacingAndGlyphs" fill="#111">300 ms</text>
<g clip-path="url(#c271)" shape-rendering="crispEdges"><rect x="398.6" y="104.4" width="50.4" height="2.3" fill="url(#g272)"/><rect x="398.6" y="106.4" width="50.4" height="2.3" fill="url(#g273)"/><rect x="398.6" y="108.4" width="50.4" height="2.3" fill="url(#g274)"/><rect x="398.6" y="110.4" width="50.4" height="2.3" fill="url(#g275)"/><rect x="398.6" y="112.4" width="50.4" height="2.3" fill="url(#g276)"/><rect x="398.6" y="114.4" width="50.4" height="2.3" fill="url(#g277)"/><rect x="398.6" y="116.4" width="50.4" height="2.3" fill="url(#g278)"/><rect x="398.6" y="118.4" width="50.4" height="2.3" fill="url(#g279)"/><rect x="398.6" y="120.4" width="50.4" height="2.3" fill="url(#g280)"/><rect x="398.6" y="122.4" width="50.4" height="2.3" fill="url(#g281)"/><rect x="398.6" y="124.4" width="50.4" height="2.3" fill="url(#g282)"/><rect x="398.6" y="126.4" width="50.4" height="2.3" fill="url(#g283)"/><rect x="398.6" y="128.4" width="50.4" height="2.3" fill="url(#g284)"/><rect x="398.6" y="130.4" width="50.4" height="2.3" fill="url(#g285)"/><rect x="398.6" y="132.4" width="50.4" height="2.3" fill="url(#g286)"/><rect x="398.6" y="134.4" width="50.4" height="2.3" fill="url(#g287)"/><rect x="398.6" y="136.4" width="50.4" height="2.3" fill="url(#g288)"/><rect x="398.6" y="138.4" width="50.4" height="2.3" fill="url(#g289)"/><rect x="398.6" y="140.4" width="50.4" height="2.3" fill="url(#g290)"/><rect x="398.6" y="142.4" width="50.4" height="2.3" fill="url(#g291)"/><rect x="398.6" y="144.4" width="50.4" height="2.3" fill="url(#g292)"/><rect x="398.6" y="146.4" width="50.4" height="2.3" fill="url(#g293)"/><rect x="398.6" y="148.4" width="50.4" height="2.3" fill="url(#g294)"/><rect x="398.6" y="150.4" width="50.4" height="2.3" fill="url(#g295)"/><rect x="398.6" y="152.4" width="50.4" height="2.3" fill="url(#g296)"/><rect x="398.6" y="154.4" width="50.4" height="0.4" fill="url(#g297)"/></g>
<path d="M441.9 103.1 L446.8 107.3 L450.3 111.8 M450.3 132.7 L448.4 135.5 L446.3 137.8 L441.2 142.0 L435.0 145.2 L427.8 147.6 L420.2 148.8 L412.2 148.8 L404.6 147.6 L397.3 145.2 M397.3 105.0 L401.3 103.1 M431.2 103.1 L436.4 105.8 L440.7 109.2 L443.9 113.0 L445.9 117.2 L446.8 121.8 L446.2 126.4 L444.5 130.6 L441.5 134.6 L437.3 138.2 L432.6 140.8 L427.0 142.8 L420.9 144.0 L414.5 144.2 L408.4 143.5 L402.7 142.0 L397.3 139.5 M397.3 111.0 L399.7 109.2 L402.7 107.6 L406.1 106.2 L409.5 105.3 L413.3 104.7 L417.1 104.6 L420.9 105.0 L424.4 105.6 L427.8 106.7 L430.8 108.1 L433.9 110.0 L436.2 112.0 L438.1 114.2 L439.6 116.8 L440.5 119.5 L440.8 122.2 L440.5 124.8 L439.7 127.5 L438.2 130.2 L436.3 132.5 L433.9 134.6 L431.2 136.3 L428.2 137.7 L424.8 138.9 L421.3 139.6 L417.5 139.9 L413.7 139.9 L409.9 139.4 L406.5 138.5 L403.1 137.2 L400.0 135.5 L397.3 133.6 M419.0 135.5 L413.3 135.5 L407.6 134.1 L403.1 131.7 L401.2 130.2 L399.6 128.3 L398.6 126.4 L397.8 124.1 L397.7 121.8 L398.0 119.9 L398.7 118.0 L399.8 116.1 L401.5 114.2 L403.4 112.6 L406.9 110.8 L410.7 109.5 L414.9 109.0 L419.4 109.1 L423.6 110.0 L427.4 111.6 L430.6 113.8 L432.9 116.5 L434.4 119.5 L434.8 122.6 L434.2 125.6 L432.6 128.6 L430.1 131.2 L426.9 133.2 L423.2 134.7 L419.0 135.5 M418.3 129.8 L414.9 129.9 L411.8 129.3 L408.9 127.9 L406.9 126.0 L405.7 123.7 L405.6 121.4 L406.5 119.1 L408.4 117.1 L410.3 115.9 L412.6 115.1 L414.9 114.7 L417.5 114.7 L419.8 115.0 L422.1 115.9 L424.0 117.0 L425.5 118.5 L426.5 120.3 L426.9 122.2 L426.6 124.1 L425.9 125.6 L424.5 127.1 L422.8 128.3 L420.6 129.3 L418.3 129.8" fill="none" stroke="#444" stroke-width="0.4" opacity="0.75" clip-path="url(#c271)"/>
<circle cx="423.8" cy="129.6" r="25.2" fill="none" stroke="#777" stroke-width="0.5"/>
<circle cx="404.9" cy="122.54" r="0.65" fill="#222"/>
<circle cx="443.2" cy="122.54" r="0.65" fill="#222"/>
<path d="M420.0 104.9 l-0.6 -1.2 M427.6 104.9 l0.6 -1.2 M398.9 124.3 l-1.9 -1.2 M399.3 136.7 l-1.9 0.8 M448.7 124.3 l1.9 -1.2 M448.3 136.7 l1.9 0.8" stroke="#333" stroke-width="0.75" fill="none"/>
<text x="424.3" y="99.6" font-size="7.9" text-anchor="middle" font-weight="bold" textLength="26.5" lengthAdjust="spacingAndGlyphs" fill="#111">400 ms</text>
<g clip-path="url(#c298)" shape-rendering="crispEdges"><rect x="491.4" y="104.4" width="50.4" height="2.3" fill="url(#g299)"/><rect x="491.4" y="106.4" width="50.4" height="2.3" fill="url(#g300)"/><rect x="491.4" y="108.4" width="50.4" height="2.3" fill="url(#g301)"/><rect x="491.4" y="110.4" width="50.4" height="2.3" fill="url(#g302)"/><rect x="491.4" y="112.4" width="50.4" height="2.3" fill="url(#g303)"/><rect x="491.4" y="114.4" width="50.4" height="2.3" fill="url(#g304)"/><rect x="491.4" y="116.4" width="50.4" height="2.3" fill="url(#g305)"/><rect x="491.4" y="118.4" width="50.4" height="2.3" fill="url(#g306)"/><rect x="491.4" y="120.4" width="50.4" height="2.3" fill="url(#g307)"/><rect x="491.4" y="122.4" width="50.4" height="2.3" fill="url(#g308)"/><rect x="491.4" y="124.4" width="50.4" height="2.3" fill="url(#g309)"/><rect x="491.4" y="126.4" width="50.4" height="2.3" fill="url(#g310)"/><rect x="491.4" y="128.4" width="50.4" height="2.3" fill="url(#g311)"/><rect x="491.4" y="130.4" width="50.4" height="2.3" fill="url(#g312)"/><rect x="491.4" y="132.4" width="50.4" height="2.3" fill="url(#g313)"/><rect x="491.4" y="134.4" width="50.4" height="2.3" fill="url(#g314)"/><rect x="491.4" y="136.4" width="50.4" height="2.3" fill="url(#g315)"/><rect x="491.4" y="138.4" width="50.4" height="2.3" fill="url(#g316)"/><rect x="491.4" y="140.4" width="50.4" height="2.3" fill="url(#g317)"/><rect x="491.4" y="142.4" width="50.4" height="2.3" fill="url(#g318)"/><rect x="491.4" y="144.4" width="50.4" height="2.3" fill="url(#g319)"/><rect x="491.4" y="146.4" width="50.4" height="2.3" fill="url(#g320)"/><rect x="491.4" y="148.4" width="50.4" height="2.3" fill="url(#g321)"/><rect x="491.4" y="150.4" width="50.4" height="2.3" fill="url(#g322)"/><rect x="491.4" y="152.4" width="50.4" height="2.3" fill="url(#g323)"/><rect x="491.4" y="154.4" width="50.4" height="0.4" fill="url(#g324)"/></g>
<path d="M527.9 103.1 L529.8 106.6 L531.4 110.4 L532.5 114.2 L533.3 118.4 L533.5 122.6 L533.2 126.4 L532.5 130.6 L531.4 134.4 L529.7 138.2 L527.8 141.6 L525.5 144.7 L522.8 147.7 L519.8 150.3 L516.4 152.7 L512.9 154.5 L509.0 156.1 M517.2 103.1 L520.1 106.6 L522.3 110.4 L524.0 114.6 L524.9 119.1 L525.1 123.7 L524.5 127.9 L523.3 132.1 L521.2 136.3 L518.7 139.8 L515.4 143.1 L511.8 145.6 L507.7 147.6 L503.5 148.9 L498.9 149.4 L494.3 149.2 L490.1 148.3 M490.1 103.8 L492.0 103.1 M503.9 103.1 L507.7 104.7 L510.9 106.9 L513.7 109.9 L515.9 113.4 L517.3 117.2 L518.0 121.0 L517.8 125.2 L516.8 129.0 L515.0 132.8 L512.7 135.9 L509.6 138.6 L506.1 140.6 L502.3 141.9 L498.1 142.3 L493.9 141.9 L490.1 140.8 M490.1 109.7 L493.6 108.1 L497.4 107.4 L501.2 107.8 L505.0 109.2 L508.2 111.5 L510.6 114.6 L512.3 118.4 L512.8 122.2 L512.3 126.0 L510.8 129.8 L508.4 132.8 L505.4 135.2 L501.6 136.7 L497.8 137.2 L493.9 136.6 L490.1 134.9 M500.0 129.5 L497.0 129.7 L494.3 128.8 L492.0 126.9 L490.8 124.5 L490.5 121.4 L491.4 118.7 L493.2 116.5 L495.9 115.1 L498.9 114.9 L501.6 115.7 L503.8 117.6 L505.2 120.3 L505.4 123.3 L504.5 126.0 L502.7 128.1 L500.0 129.5" fill="none" stroke="#444" stroke-width="0.4" opacity="0.75" clip-path="url(#c298)"/>
<circle cx="516.6" cy="129.6" r="25.2" fill="none" stroke="#777" stroke-width="0.5"/>
<circle cx="497.7" cy="122.54" r="0.65" fill="#222"/>
<circle cx="536" cy="122.54" r="0.65" fill="#222"/>
<path d="M512.8 104.9 l-0.6 -1.2 M520.4 104.9 l0.6 -1.2 M491.7 124.3 l-1.9 -1.2 M492.1 136.7 l-1.9 0.8 M541.5 124.3 l1.9 -1.2 M541.1 136.7 l1.9 0.8" stroke="#333" stroke-width="0.75" fill="none"/>
<text x="517.1" y="99.6" font-size="7.9" text-anchor="middle" font-weight="bold" textLength="26.5" lengthAdjust="spacingAndGlyphs" fill="#111">500 ms</text>
<rect x="267.7" y="102.8" width="2.6" height="53.7" fill="url(#g325)"/>
<text x="272" y="105.41" font-size="4.6" text-anchor="start" fill="#333">0.9</text>
<text x="272" y="118.83" font-size="4.6" text-anchor="start" fill="#333">0.45</text>
<text x="272" y="132.26" font-size="4.6" text-anchor="start" fill="#333">0</text>
<text x="272" y="145.69" font-size="4.6" text-anchor="start" fill="#333">-0.45</text>
<text x="272" y="159.11" font-size="4.6" text-anchor="start" fill="#333">-0.9</text>
<rect x="559.2" y="104" width="2.8" height="54.3" fill="url(#g326)"/>
<text x="563.5" y="106.61" font-size="4.6" text-anchor="start" fill="#333">1.6</text>
<text x="563.5" y="120.19" font-size="4.6" text-anchor="start" fill="#333">0.8</text>
<text x="563.5" y="133.76" font-size="4.6" text-anchor="start" fill="#333">0</text>
<text x="563.5" y="147.34" font-size="4.6" text-anchor="start" fill="#333">-0.8</text>
<text x="563.5" y="160.91" font-size="4.6" text-anchor="start" fill="#333">-1.6</text>
<g shape-rendering="crispEdges"><rect x="37" y="207.5" width="228.75" height="2.3" fill="url(#g327)"/><rect x="37" y="209.5" width="228.75" height="2.3" fill="url(#g328)"/><rect x="37" y="211.5" width="228.75" height="2.3" fill="url(#g329)"/><rect x="37" y="213.5" width="228.75" height="2.3" fill="url(#g330)"/><rect x="37" y="215.5" width="228.75" height="2.3" fill="url(#g331)"/><rect x="37" y="217.5" width="228.75" height="2.3" fill="url(#g332)"/><rect x="37" y="219.5" width="228.75" height="2.3" fill="url(#g333)"/><rect x="37" y="221.5" width="228.75" height="2.3" fill="url(#g334)"/><rect x="37" y="223.5" width="228.75" height="2.3" fill="url(#g335)"/><rect x="37" y="225.5" width="228.75" height="2.3" fill="url(#g336)"/><rect x="37" y="227.5" width="228.75" height="2.3" fill="url(#g337)"/><rect x="37" y="229.5" width="228.75" height="2.3" fill="url(#g338)"/><rect x="37" y="231.5" width="228.75" height="2.3" fill="url(#g339)"/><rect x="37" y="233.5" width="228.75" height="2.3" fill="url(#g340)"/><rect x="37" y="235.5" width="228.75" height="2.3" fill="url(#g341)"/><rect x="37" y="237.5" width="228.75" height="2.3" fill="url(#g342)"/><rect x="37" y="239.5" width="228.75" height="2.3" fill="url(#g343)"/><rect x="37" y="241.5" width="228.75" height="2.3" fill="url(#g344)"/><rect x="37" y="243.5" width="228.75" height="2.3" fill="url(#g345)"/><rect x="37" y="245.5" width="228.75" height="2.3" fill="url(#g346)"/><rect x="37" y="247.5" width="228.75" height="2.3" fill="url(#g347)"/><rect x="37" y="249.5" width="228.75" height="2.3" fill="url(#g348)"/><rect x="37" y="251.5" width="228.75" height="2.3" fill="url(#g349)"/><rect x="37" y="253.5" width="228.75" height="2.3" fill="url(#g350)"/><rect x="37" y="255.5" width="228.75" height="2.3" fill="url(#g351)"/><rect x="37" y="257.5" width="228.75" height="2.3" fill="url(#g352)"/><rect x="37" y="259.5" width="228.75" height="2.3" fill="url(#g353)"/><rect x="37" y="261.5" width="228.75" height="2.3" fill="url(#g354)"/><rect x="37" y="263.5" width="228.75" height="2.3" fill="url(#g355)"/><rect x="37" y="265.5" width="228.75" height="2.3" fill="url(#g356)"/><rect x="37" y="267.5" width="228.75" height="2.3" fill="url(#g357)"/><rect x="37" y="269.5" width="228.75" height="2.3" fill="url(#g358)"/><rect x="37" y="271.5" width="228.75" height="2.3" fill="url(#g359)"/><rect x="37" y="273.5" width="228.75" height="2.3" fill="url(#g360)"/><rect x="37" y="275.5" width="228.75" height="2.3" fill="url(#g361)"/><rect x="37" y="277.5" width="228.75" height="2.3" fill="url(#g362)"/><rect x="37" y="279.5" width="228.75" height="2.3" fill="url(#g363)"/><rect x="37" y="281.5" width="228.75" height="2.3" fill="url(#g364)"/><rect x="37" y="283.5" width="228.75" height="2.3" fill="url(#g365)"/><rect x="37" y="285.5" width="228.75" height="2.3" fill="url(#g366)"/><rect x="37" y="287.5" width="228.75" height="1.15" fill="url(#g367)"/></g>
<rect x="265.15" y="207.5" width="0.9" height="81.15" fill="#333"/>
<rect x="37" y="288.65" width="228.75" height="23.35" fill="#eef4fb"/>
<rect x="37" y="311.1" width="228.75" height="0.9" fill="#aaa"/>
<rect x="37" y="301.7" width="228.75" height="0.8" fill="#666"/>
<rect x="34.5" y="309.7" width="0.5" height="1.5" fill="#999"/>
<rect x="75.3" y="309.7" width="0.5" height="1.5" fill="#999"/>
<rect x="113.6" y="309.7" width="0.5" height="1.5" fill="#999"/>
<rect x="151.9" y="309.7" width="0.5" height="1.5" fill="#999"/>
<rect x="190.2" y="309.7" width="0.5" height="1.5" fill="#999"/>
<rect x="228.5" y="309.7" width="0.5" height="1.5" fill="#999"/>
<path d="M37.6 295.0 C38.6 295.1 41.6 294.9 43.8 295.5 C46.0 296.1 48.1 297.2 50.7 298.4 C53.3 299.5 56.8 301.1 59.4 302.4 C62.0 303.6 64.0 305.0 66.3 305.9 C68.6 306.8 71.2 307.6 73.2 307.6 C75.2 307.6 76.4 307.0 78.4 305.9 C80.4 304.8 83.0 302.4 85.3 300.7 C87.6 299.0 90.0 296.7 92.2 295.5 C94.4 294.3 96.2 293.4 98.2 293.3 C100.2 293.2 102.1 293.8 104.3 294.6 C106.5 295.4 108.9 297.3 111.2 298.1 C113.5 298.9 115.5 299.3 118.1 299.5 C120.7 299.7 124.3 299.0 126.7 299.1 C129.1 299.2 130.9 299.4 132.7 300.0 C134.5 300.6 135.6 301.8 137.7 302.7 C139.8 303.6 142.5 304.7 145.0 305.2 C147.5 305.7 150.0 305.8 152.5 305.7 C155.0 305.6 157.1 304.7 160.0 304.7 C162.9 304.7 167.1 305.6 170.0 305.7 C172.9 305.8 175.1 305.6 177.6 305.2 C180.1 304.8 182.5 303.8 185.0 303.2 C187.5 302.6 190.5 301.9 192.6 301.5 C194.7 301.1 195.5 300.7 197.6 300.7 C199.7 300.7 202.5 301.4 205.0 301.7 C207.5 301.9 210.1 302.2 212.6 302.2 C215.1 302.2 217.9 301.7 220.0 301.5 C222.1 301.3 223.1 301.0 225.0 301.2 C226.9 301.4 229.3 301.9 231.4 302.7 C233.5 303.5 235.6 305.0 237.7 306.0 C239.8 307.0 241.9 308.2 244.0 308.5 C246.1 308.8 247.9 308.4 250.2 307.7 C252.5 307.0 255.2 305.3 257.7 304.5 C260.2 303.7 263.9 303.0 265.2 302.7" fill="none" stroke="#4040e0" stroke-width="0.8" stroke-linejoin="round"/>
<rect x="36.5" y="207.5" width="0.9" height="104.5" fill="#444"/>
<rect x="271.2" y="207.5" width="8.8" height="81.15" fill="url(#g368)"/>
<text x="282.2" y="210.5" font-size="6.4" text-anchor="start" fill="#333">4.9</text>
<text x="282.2" y="230.79" font-size="6.4" text-anchor="start" fill="#333">2.4</text>
<text x="282.2" y="251.07" font-size="6.4" text-anchor="start" fill="#333">0</text>
<text x="282.2" y="271.36" font-size="6.4" text-anchor="start" fill="#333">-2.4</text>
<text x="282.2" y="291.65" font-size="6.4" text-anchor="start" fill="#333">-4.9</text>
<text x="34" y="221.2" font-size="9.8" text-anchor="end" font-weight="bold" fill="#1a1a1a">300</text>
<text x="34" y="247.8" font-size="9.8" text-anchor="end" font-weight="bold" fill="#1a1a1a">200</text>
<text x="34" y="273.6" font-size="9.8" text-anchor="end" font-weight="bold" fill="#1a1a1a">100</text>
<text x="34" y="297.3" font-size="9.8" text-anchor="end" font-weight="bold" fill="#1a1a1a">1</text>
<text x="34" y="306" font-size="9.8" text-anchor="end" font-weight="bold" fill="#1a1a1a">0</text>
<text x="34" y="314.8" font-size="9.8" text-anchor="end" font-weight="bold" fill="#1a1a1a">-1</text>
<text x="34.5" y="325.8" font-size="10" text-anchor="middle" font-weight="bold" fill="#1a1a1a">0</text>
<text x="75.3" y="325.8" font-size="10" text-anchor="middle" font-weight="bold" fill="#1a1a1a">100</text>
<text x="113.6" y="325.8" font-size="10" text-anchor="middle" font-weight="bold" fill="#1a1a1a">200</text>
<text x="151.9" y="325.8" font-size="10" text-anchor="middle" font-weight="bold" fill="#1a1a1a">300</text>
<text x="190.2" y="325.8" font-size="10" text-anchor="middle" font-weight="bold" fill="#1a1a1a">400</text>
<text x="228.5" y="325.8" font-size="10" text-anchor="middle" font-weight="bold" fill="#1a1a1a">500</text>
<text x="128.2" y="201" font-size="14" text-anchor="start" textLength="57.6" lengthAdjust="spacingAndGlyphs" fill="#111">std.FC5</text>
<g shape-rendering="crispEdges"><rect x="318.3" y="208" width="230.2" height="2.3" fill="url(#g369)"/><rect x="318.3" y="210" width="230.2" height="2.3" fill="url(#g370)"/><rect x="318.3" y="212" width="230.2" height="2.3" fill="url(#g371)"/><rect x="318.3" y="214" width="230.2" height="2.3" fill="url(#g372)"/><rect x="318.3" y="216" width="230.2" height="2.3" fill="url(#g373)"/><rect x="318.3" y="218" width="230.2" height="2.3" fill="url(#g374)"/><rect x="318.3" y="220" width="230.2" height="2.3" fill="url(#g375)"/><rect x="318.3" y="222" width="230.2" height="2.3" fill="url(#g376)"/><rect x="318.3" y="224" width="230.2" height="2.3" fill="url(#g377)"/><rect x="318.3" y="226" width="230.2" height="2.3" fill="url(#g378)"/><rect x="318.3" y="228" width="230.2" height="2.3" fill="url(#g379)"/><rect x="318.3" y="230" width="230.2" height="2.3" fill="url(#g380)"/><rect x="318.3" y="232" width="230.2" height="2.3" fill="url(#g381)"/><rect x="318.3" y="234" width="230.2" height="2.3" fill="url(#g382)"/><rect x="318.3" y="236" width="230.2" height="2.3" fill="url(#g383)"/><rect x="318.3" y="238" width="230.2" height="2.3" fill="url(#g384)"/><rect x="318.3" y="240" width="230.2" height="2.3" fill="url(#g385)"/><rect x="318.3" y="242" width="230.2" height="2.3" fill="url(#g386)"/><rect x="318.3" y="244" width="230.2" height="2.3" fill="url(#g387)"/><rect x="318.3" y="246" width="230.2" height="2.3" fill="url(#g388)"/><rect x="318.3" y="248" width="230.2" height="2.3" fill="url(#g389)"/><rect x="318.3" y="250" width="230.2" height="2.3" fill="url(#g390)"/><rect x="318.3" y="252" width="230.2" height="2.3" fill="url(#g391)"/><rect x="318.3" y="254" width="230.2" height="2.3" fill="url(#g392)"/><rect x="318.3" y="256" width="230.2" height="2.3" fill="url(#g393)"/><rect x="318.3" y="258" width="230.2" height="2.3" fill="url(#g394)"/><rect x="318.3" y="260" width="230.2" height="2.3" fill="url(#g395)"/><rect x="318.3" y="262" width="230.2" height="2.3" fill="url(#g396)"/><rect x="318.3" y="264" width="230.2" height="2.3" fill="url(#g397)"/><rect x="318.3" y="266" width="230.2" height="2.3" fill="url(#g398)"/><rect x="318.3" y="268" width="230.2" height="2.3" fill="url(#g399)"/><rect x="318.3" y="270" width="230.2" height="2.3" fill="url(#g400)"/><rect x="318.3" y="272" width="230.2" height="2.3" fill="url(#g401)"/><rect x="318.3" y="274" width="230.2" height="2.3" fill="url(#g402)"/><rect x="318.3" y="276" width="230.2" height="2.3" fill="url(#g403)"/><rect x="318.3" y="278" width="230.2" height="2.3" fill="url(#g404)"/><rect x="318.3" y="280" width="230.2" height="2.3" fill="url(#g405)"/><rect x="318.3" y="282" width="230.2" height="2.3" fill="url(#g406)"/><rect x="318.3" y="284" width="230.2" height="2.3" fill="url(#g407)"/><rect x="318.3" y="286" width="230.2" height="2.3" fill="url(#g408)"/><rect x="318.3" y="288" width="230.2" height="1" fill="url(#g409)"/></g>
<rect x="547.9" y="208" width="0.9" height="81" fill="#333"/>
<rect x="318.3" y="289" width="230.2" height="23" fill="#eef4fb"/>
<rect x="318.3" y="311.1" width="230.2" height="0.9" fill="#aaa"/>
<rect x="318.3" y="299.1" width="230.2" height="0.8" fill="#666"/>
<rect x="316.6" y="309.7" width="0.5" height="1.5" fill="#999"/>
<rect x="358" y="309.7" width="0.5" height="1.5" fill="#999"/>
<rect x="396.4" y="309.7" width="0.5" height="1.5" fill="#999"/>
<rect x="434.9" y="309.7" width="0.5" height="1.5" fill="#999"/>
<rect x="473.4" y="309.7" width="0.5" height="1.5" fill="#999"/>
<rect x="511.9" y="309.7" width="0.5" height="1.5" fill="#999"/>
<path d="M318.8 295.2 C319.6 295.4 321.9 296.4 323.8 296.5 C325.7 296.6 327.7 295.9 330.0 295.7 C332.3 295.5 335.1 295.1 337.6 295.2 C340.1 295.3 342.5 296.0 345.0 296.5 C347.5 297.0 350.3 298.1 352.6 298.2 C354.9 298.3 356.4 297.6 358.9 297.0 C361.4 296.4 364.9 295.1 367.6 294.5 C370.3 293.9 372.6 293.3 375.1 293.4 C377.6 293.5 380.2 294.5 382.7 295.2 C385.2 295.9 387.9 296.9 390.2 297.7 C392.5 298.5 394.1 299.5 396.4 300.2 C398.7 300.9 401.3 301.6 404.0 302.0 C406.7 302.4 409.6 302.8 412.7 302.7 C415.8 302.6 419.0 301.8 422.7 301.7 C426.4 301.6 431.3 301.4 435.0 301.8 C438.7 302.2 440.9 303.0 445.0 303.9 C449.1 304.8 456.2 306.5 459.9 306.9 C463.6 307.3 464.4 306.9 467.3 306.4 C470.2 305.9 474.0 304.6 477.3 303.9 C480.6 303.1 484.3 302.1 487.2 301.9 C490.1 301.6 492.4 302.3 494.7 302.4 C497.0 302.5 498.8 302.9 500.9 302.4 C503.0 301.9 504.8 300.5 507.1 299.4 C509.4 298.3 512.1 296.7 514.6 295.7 C517.1 294.7 519.6 293.8 522.1 293.2 C524.6 292.6 526.6 292.4 529.5 292.4 C532.4 292.3 536.4 292.7 539.5 292.9 C542.6 293.1 546.8 293.6 548.2 293.7" fill="none" stroke="#e04040" stroke-width="0.8" stroke-linejoin="round"/>
<rect x="317.8" y="208" width="0.9" height="104" fill="#444"/>
<rect x="554.2" y="208" width="8.4" height="81" fill="url(#g410)"/>
<text x="564.9" y="211" font-size="6.4" text-anchor="start" fill="#333">3.6</text>
<text x="564.9" y="231.25" font-size="6.4" text-anchor="start" fill="#333">1.8</text>
<text x="564.9" y="251.5" font-size="6.4" text-anchor="start" fill="#333">0</text>
<text x="564.9" y="271.75" font-size="6.4" text-anchor="start" fill="#333">-1.8</text>
<text x="564.9" y="292" font-size="6.4" text-anchor="start" fill="#333">-3.6</text>
<text x="315.3" y="218.5" font-size="9.8" text-anchor="end" font-weight="bold" fill="#1a1a1a">80</text>
<text x="315.3" y="232.8" font-size="9.8" text-anchor="end" font-weight="bold" fill="#1a1a1a">70</text>
<text x="315.3" y="246.6" font-size="9.8" text-anchor="end" font-weight="bold" fill="#1a1a1a">60</text>
<text x="315.3" y="260.6" font-size="9.8" text-anchor="end" font-weight="bold" fill="#1a1a1a">50</text>
<text x="315.3" y="274.2" font-size="9.8" text-anchor="end" font-weight="bold" fill="#1a1a1a">40</text>
<text x="315.3" y="287.4" font-size="9.8" text-anchor="end" font-weight="bold" fill="#1a1a1a">30</text>
<text x="315.3" y="296.2" font-size="9.8" text-anchor="end" font-weight="bold" fill="#1a1a1a">1.4</text>
<text x="315.3" y="303" font-size="9.8" text-anchor="end" font-weight="bold" fill="#1a1a1a">0</text>
<text x="315.3" y="312.5" font-size="9.8" text-anchor="end" font-weight="bold" fill="#1a1a1a">-1.4</text>
<text x="316.6" y="326" font-size="10" text-anchor="middle" font-weight="bold" fill="#1a1a1a">0</text>
<text x="358" y="326" font-size="10" text-anchor="middle" font-weight="bold" fill="#1a1a1a">100</text>
<text x="396.4" y="326" font-size="10" text-anchor="middle" font-weight="bold" fill="#1a1a1a">200</text>
<text x="434.9" y="326" font-size="10" text-anchor="middle" font-weight="bold" fill="#1a1a1a">300</text>
<text x="473.4" y="326" font-size="10" text-anchor="middle" font-weight="bold" fill="#1a1a1a">400</text>
<text x="511.9" y="326" font-size="10" text-anchor="middle" font-weight="bold" fill="#1a1a1a">500</text>
<text x="396.4" y="200.5" font-size="14" text-anchor="start" textLength="68" lengthAdjust="spacingAndGlyphs" fill="#111">stim.FC5</text>
<g shape-rendering="crispEdges"><rect x="37" y="358" width="228.75" height="2.3" fill="url(#g411)"/><rect x="37" y="360" width="228.75" height="2.3" fill="url(#g412)"/><rect x="37" y="362" width="228.75" height="2.3" fill="url(#g413)"/><rect x="37" y="364" width="228.75" height="2.3" fill="url(#g414)"/><rect x="37" y="366" width="228.75" height="2.3" fill="url(#g415)"/><rect x="37" y="368" width="228.75" height="2.3" fill="url(#g416)"/><rect x="37" y="370" width="228.75" height="2.3" fill="url(#g417)"/><rect x="37" y="372" width="228.75" height="2.3" fill="url(#g418)"/><rect x="37" y="374" width="228.75" height="2.3" fill="url(#g419)"/><rect x="37" y="376" width="228.75" height="2.3" fill="url(#g420)"/><rect x="37" y="378" width="228.75" height="2.3" fill="url(#g421)"/><rect x="37" y="380" width="228.75" height="2.3" fill="url(#g422)"/><rect x="37" y="382" width="228.75" height="2.3" fill="url(#g423)"/><rect x="37" y="384" width="228.75" height="2.3" fill="url(#g424)"/><rect x="37" y="386" width="228.75" height="2.3" fill="url(#g425)"/><rect x="37" y="388" width="228.75" height="2.3" fill="url(#g426)"/><rect x="37" y="390" width="228.75" height="2.3" fill="url(#g427)"/><rect x="37" y="392" width="228.75" height="2.3" fill="url(#g428)"/><rect x="37" y="394" width="228.75" height="2.3" fill="url(#g429)"/><rect x="37" y="396" width="228.75" height="2.3" fill="url(#g430)"/><rect x="37" y="398" width="228.75" height="2.3" fill="url(#g431)"/><rect x="37" y="400" width="228.75" height="2.3" fill="url(#g432)"/><rect x="37" y="402" width="228.75" height="2.3" fill="url(#g433)"/><rect x="37" y="404" width="228.75" height="2.3" fill="url(#g434)"/><rect x="37" y="406" width="228.75" height="2.3" fill="url(#g435)"/><rect x="37" y="408" width="228.75" height="2.3" fill="url(#g436)"/><rect x="37" y="410" width="228.75" height="2.3" fill="url(#g437)"/><rect x="37" y="412" width="228.75" height="2.3" fill="url(#g438)"/><rect x="37" y="414" width="228.75" height="2.3" fill="url(#g439)"/><rect x="37" y="416" width="228.75" height="2.3" fill="url(#g440)"/><rect x="37" y="418" width="228.75" height="2.3" fill="url(#g441)"/><rect x="37" y="420" width="228.75" height="2.3" fill="url(#g442)"/><rect x="37" y="422" width="228.75" height="2.3" fill="url(#g443)"/><rect x="37" y="424" width="228.75" height="2.3" fill="url(#g444)"/><rect x="37" y="426" width="228.75" height="2.3" fill="url(#g445)"/><rect x="37" y="428" width="228.75" height="2.3" fill="url(#g446)"/><rect x="37" y="430" width="228.75" height="2.3" fill="url(#g447)"/><rect x="37" y="432" width="228.75" height="2.3" fill="url(#g448)"/><rect x="37" y="434" width="228.75" height="2.3" fill="url(#g449)"/><rect x="37" y="436" width="228.75" height="2.3" fill="url(#g450)"/><rect x="37" y="438" width="228.75" height="1" fill="url(#g451)"/></g>
<rect x="265.15" y="358" width="0.9" height="81" fill="#333"/>
<rect x="37" y="439" width="228.75" height="23" fill="#eef4fb"/>
<rect x="37" y="461.1" width="228.75" height="0.9" fill="#aaa"/>
<rect x="37" y="447.8" width="228.75" height="0.8" fill="#666"/>
<rect x="34.5" y="459.7" width="0.5" height="1.5" fill="#999"/>
<rect x="75.3" y="459.7" width="0.5" height="1.5" fill="#999"/>
<rect x="113.6" y="459.7" width="0.5" height="1.5" fill="#999"/>
<rect x="151.9" y="459.7" width="0.5" height="1.5" fill="#999"/>
<rect x="190.2" y="459.7" width="0.5" height="1.5" fill="#999"/>
<rect x="228.5" y="459.7" width="0.5" height="1.5" fill="#999"/>
<path d="M37.2 451.5 C38.3 451.4 41.5 451.1 43.8 451.2 C46.0 451.3 48.1 451.8 50.7 452.4 C53.3 453.0 56.8 454.2 59.4 455.0 C62.0 455.8 64.3 457.0 66.3 457.1 C68.3 457.2 69.8 456.8 71.5 455.9 C73.2 455.0 74.9 452.9 76.6 451.5 C78.3 450.1 79.8 448.6 81.8 447.2 C83.8 445.8 86.7 444.0 88.7 443.4 C90.7 442.8 92.2 443.3 93.9 443.8 C95.6 444.3 97.4 445.4 99.1 446.4 C100.8 447.4 102.7 449.0 104.3 449.8 C105.9 450.6 107.2 451.2 108.6 451.2 C110.0 451.2 111.3 450.6 112.9 449.8 C114.5 449.1 116.2 447.6 118.1 446.7 C120.0 445.8 122.1 445.1 124.1 444.6 C126.1 444.1 127.6 443.8 130.0 443.9 C132.4 444.0 135.7 444.7 138.6 445.0 C141.5 445.3 144.4 445.5 147.3 445.8 C150.2 446.1 153.6 446.3 155.9 446.7 C158.2 447.1 159.4 447.8 161.1 448.1 C162.8 448.4 164.3 448.7 166.3 448.6 C168.3 448.5 170.9 448.4 173.2 447.7 C175.5 447.0 177.5 445.5 180.1 444.6 C182.7 443.7 186.1 442.6 188.7 442.4 C191.3 442.2 193.3 442.8 195.6 443.4 C197.9 444.0 200.2 445.3 202.5 446.0 C204.8 446.7 206.8 447.4 209.4 447.7 C212.0 448.0 215.5 447.8 218.1 447.7 C220.7 447.6 223.0 447.1 225.0 446.9 C227.0 446.7 227.6 446.3 230.1 446.4 C232.6 446.5 236.8 446.8 240.2 447.7 C243.5 448.6 247.3 450.4 250.2 451.5 C253.1 452.6 255.2 453.8 257.7 454.0 C260.2 454.2 263.9 452.9 265.2 452.7" fill="none" stroke="#4040e0" stroke-width="0.8" stroke-linejoin="round"/>
<rect x="36.5" y="358" width="0.9" height="104" fill="#444"/>
<rect x="271.5" y="358" width="8.7" height="81" fill="url(#g452)"/>
<text x="282.2" y="361" font-size="6.4" text-anchor="start" fill="#333">4.3</text>
<text x="282.2" y="381.25" font-size="6.4" text-anchor="start" fill="#333">2.2</text>
<text x="282.2" y="401.5" font-size="6.4" text-anchor="start" fill="#333">0</text>
<text x="282.2" y="421.75" font-size="6.4" text-anchor="start" fill="#333">-2.2</text>
<text x="282.2" y="442" font-size="6.4" text-anchor="start" fill="#333">-4.3</text>
<text x="34" y="371.5" font-size="9.8" text-anchor="end" font-weight="bold" fill="#1a1a1a">300</text>
<text x="34" y="398.1" font-size="9.8" text-anchor="end" font-weight="bold" fill="#1a1a1a">200</text>
<text x="34" y="424.2" font-size="9.8" text-anchor="end" font-weight="bold" fill="#1a1a1a">100</text>
<text x="34" y="443.7" font-size="9.8" text-anchor="end" font-weight="bold" fill="#1a1a1a">1.2</text>
<text x="34" y="451.7" font-size="9.8" text-anchor="end" font-weight="bold" fill="#1a1a1a">0</text>
<text x="34" y="461.2" font-size="9.8" text-anchor="end" font-weight="bold" fill="#1a1a1a">-1.2</text>
<text x="34.5" y="476.3" font-size="10" text-anchor="middle" font-weight="bold" fill="#1a1a1a">0</text>
<text x="75.3" y="476.3" font-size="10" text-anchor="middle" font-weight="bold" fill="#1a1a1a">100</text>
<text x="113.6" y="476.3" font-size="10" text-anchor="middle" font-weight="bold" fill="#1a1a1a">200</text>
<text x="151.9" y="476.3" font-size="10" text-anchor="middle" font-weight="bold" fill="#1a1a1a">300</text>
<text x="190.2" y="476.3" font-size="10" text-anchor="middle" font-weight="bold" fill="#1a1a1a">400</text>
<text x="228.5" y="476.3" font-size="10" text-anchor="middle" font-weight="bold" fill="#1a1a1a">500</text>
<text x="128.2" y="353" font-size="14" text-anchor="start" textLength="57.6" lengthAdjust="spacingAndGlyphs" fill="#111">std.FC6</text>
<g shape-rendering="crispEdges"><rect x="318.7" y="357.5" width="231.7" height="2.3" fill="url(#g453)"/><rect x="318.7" y="359.5" width="231.7" height="2.3" fill="url(#g454)"/><rect x="318.7" y="361.5" width="231.7" height="2.3" fill="url(#g455)"/><rect x="318.7" y="363.5" width="231.7" height="2.3" fill="url(#g456)"/><rect x="318.7" y="365.5" width="231.7" height="2.3" fill="url(#g457)"/><rect x="318.7" y="367.5" width="231.7" height="2.3" fill="url(#g458)"/><rect x="318.7" y="369.5" width="231.7" height="2.3" fill="url(#g459)"/><rect x="318.7" y="371.5" width="231.7" height="2.3" fill="url(#g460)"/><rect x="318.7" y="373.5" width="231.7" height="2.3" fill="url(#g461)"/><rect x="318.7" y="375.5" width="231.7" height="2.3" fill="url(#g462)"/><rect x="318.7" y="377.5" width="231.7" height="2.3" fill="url(#g463)"/><rect x="318.7" y="379.5" width="231.7" height="2.3" fill="url(#g464)"/><rect x="318.7" y="381.5" width="231.7" height="2.3" fill="url(#g465)"/><rect x="318.7" y="383.5" width="231.7" height="2.3" fill="url(#g466)"/><rect x="318.7" y="385.5" width="231.7" height="2.3" fill="url(#g467)"/><rect x="318.7" y="387.5" width="231.7" height="2.3" fill="url(#g468)"/><rect x="318.7" y="389.5" width="231.7" height="2.3" fill="url(#g469)"/><rect x="318.7" y="391.5" width="231.7" height="2.3" fill="url(#g470)"/><rect x="318.7" y="393.5" width="231.7" height="2.3" fill="url(#g471)"/><rect x="318.7" y="395.5" width="231.7" height="2.3" fill="url(#g472)"/><rect x="318.7" y="397.5" width="231.7" height="2.3" fill="url(#g473)"/><rect x="318.7" y="399.5" width="231.7" height="2.3" fill="url(#g474)"/><rect x="318.7" y="401.5" width="231.7" height="2.3" fill="url(#g475)"/><rect x="318.7" y="403.5" width="231.7" height="2.3" fill="url(#g476)"/><rect x="318.7" y="405.5" width="231.7" height="2.3" fill="url(#g477)"/><rect x="318.7" y="407.5" width="231.7" height="2.3" fill="url(#g478)"/><rect x="318.7" y="409.5" width="231.7" height="2.3" fill="url(#g479)"/><rect x="318.7" y="411.5" width="231.7" height="2.3" fill="url(#g480)"/><rect x="318.7" y="413.5" width="231.7" height="2.3" fill="url(#g481)"/><rect x="318.7" y="415.5" width="231.7" height="2.3" fill="url(#g482)"/><rect x="318.7" y="417.5" width="231.7" height="2.3" fill="url(#g483)"/><rect x="318.7" y="419.5" width="231.7" height="2.3" fill="url(#g484)"/><rect x="318.7" y="421.5" width="231.7" height="2.3" fill="url(#g485)"/><rect x="318.7" y="423.5" width="231.7" height="2.3" fill="url(#g486)"/><rect x="318.7" y="425.5" width="231.7" height="2.3" fill="url(#g487)"/><rect x="318.7" y="427.5" width="231.7" height="2.3" fill="url(#g488)"/><rect x="318.7" y="429.5" width="231.7" height="2.3" fill="url(#g489)"/><rect x="318.7" y="431.5" width="231.7" height="2.3" fill="url(#g490)"/><rect x="318.7" y="433.5" width="231.7" height="2.3" fill="url(#g491)"/><rect x="318.7" y="435.5" width="231.7" height="2.3" fill="url(#g492)"/><rect x="318.7" y="437.5" width="231.7" height="1.3" fill="url(#g493)"/></g>
<rect x="549.8" y="357.5" width="0.9" height="81.3" fill="#333"/>
<rect x="318.7" y="438.8" width="231.7" height="23.2" fill="#eef4fb"/>
<rect x="318.7" y="461.1" width="231.7" height="0.9" fill="#aaa"/>
<rect x="318.7" y="450.1" width="231.7" height="0.8" fill="#666"/>
<rect x="316.6" y="459.7" width="0.5" height="1.5" fill="#999"/>
<rect x="358" y="459.7" width="0.5" height="1.5" fill="#999"/>
<rect x="396.4" y="459.7" width="0.5" height="1.5" fill="#999"/>
<rect x="434.9" y="459.7" width="0.5" height="1.5" fill="#999"/>
<rect x="473.4" y="459.7" width="0.5" height="1.5" fill="#999"/>
<rect x="511.9" y="459.7" width="0.5" height="1.5" fill="#999"/>
<path d="M318.8 454.0 C319.8 453.7 322.5 452.6 325.0 452.0 C327.5 451.4 330.9 450.8 333.8 450.7 C336.7 450.6 339.5 451.2 342.6 451.7 C345.7 452.2 349.7 453.5 352.6 453.5 C355.5 453.5 357.6 452.5 360.1 451.5 C362.6 450.5 364.7 448.8 367.6 447.7 C370.5 446.6 373.9 445.7 377.7 445.2 C381.5 444.7 386.4 444.9 390.2 444.7 C393.9 444.5 396.9 444.0 400.2 444.0 C403.5 444.0 406.9 444.2 410.2 444.7 C413.5 445.2 416.9 446.9 420.2 447.0 C423.5 447.1 427.7 445.8 430.2 445.2 C432.7 444.6 433.4 443.7 435.0 443.2 C436.6 442.7 438.1 442.1 440.0 442.4 C441.9 442.7 443.7 443.3 446.2 444.9 C448.7 446.5 451.8 449.8 454.9 451.9 C458.0 454.0 461.6 456.1 464.9 457.4 C468.2 458.6 471.5 459.4 474.8 459.4 C478.1 459.4 481.5 457.5 484.8 457.4 C488.1 457.3 491.6 458.4 494.7 458.6 C497.8 458.9 500.5 459.6 503.4 458.9 C506.3 458.2 509.2 456.2 512.1 454.4 C515.0 452.6 517.9 449.4 520.8 448.2 C523.7 446.9 526.4 447.0 529.5 446.9 C532.6 446.8 536.2 447.3 539.5 447.4 C542.8 447.5 547.8 447.6 549.4 447.7" fill="none" stroke="#e04040" stroke-width="0.8" stroke-linejoin="round"/>
<rect x="318.2" y="357.5" width="0.9" height="104.5" fill="#444"/>
<rect x="556.6" y="357.5" width="8.5" height="81.3" fill="url(#g494)"/>
<text x="566.8" y="360.5" font-size="6.4" text-anchor="start" fill="#333">3.1</text>
<text x="566.8" y="380.82" font-size="6.4" text-anchor="start" fill="#333">1.6</text>
<text x="566.8" y="401.15" font-size="6.4" text-anchor="start" fill="#333">0</text>
<text x="566.8" y="421.48" font-size="6.4" text-anchor="start" fill="#333">-1.6</text>
<text x="566.8" y="441.8" font-size="6.4" text-anchor="start" fill="#333">-3.1</text>
<text x="315.7" y="367.8" font-size="9.8" text-anchor="end" font-weight="bold" fill="#1a1a1a">80</text>
<text x="315.7" y="381.8" font-size="9.8" text-anchor="end" font-weight="bold" fill="#1a1a1a">70</text>
<text x="315.7" y="396.1" font-size="9.8" text-anchor="end" font-weight="bold" fill="#1a1a1a">60</text>
<text x="315.7" y="409.9" font-size="9.8" text-anchor="end" font-weight="bold" fill="#1a1a1a">50</text>
<text x="315.7" y="423.7" font-size="9.8" text-anchor="end" font-weight="bold" fill="#1a1a1a">40</text>
<text x="315.7" y="436.9" font-size="9.8" text-anchor="end" font-weight="bold" fill="#1a1a1a">30</text>
<text x="315.7" y="445.5" font-size="9.8" text-anchor="end" font-weight="bold" fill="#1a1a1a">1.6</text>
<text x="315.7" y="454.5" font-size="9.8" text-anchor="end" font-weight="bold" fill="#1a1a1a">0</text>
<text x="315.7" y="463.2" font-size="9.8" text-anchor="end" font-weight="bold" fill="#1a1a1a">1.6</text>
<text x="316.6" y="476.3" font-size="10" text-anchor="middle" font-weight="bold" fill="#1a1a1a">0</text>
<text x="358" y="476.3" font-size="10" text-anchor="middle" font-weight="bold" fill="#1a1a1a">100</text>
<text x="396.4" y="476.3" font-size="10" text-anchor="middle" font-weight="bold" fill="#1a1a1a">200</text>
<text x="434.9" y="476.3" font-size="10" text-anchor="middle" font-weight="bold" fill="#1a1a1a">300</text>
<text x="473.4" y="476.3" font-size="10" text-anchor="middle" font-weight="bold" fill="#1a1a1a">400</text>
<text x="511.9" y="476.3" font-size="10" text-anchor="middle" font-weight="bold" fill="#1a1a1a">500</text>
<text x="396.4" y="352" font-size="14" text-anchor="start" textLength="68" lengthAdjust="spacingAndGlyphs" fill="#111">stim.FC6</text>
<text transform="translate(14.2 248.3) rotate(-90)" font-size="11" text-anchor="middle" font-weight="bold" textLength="29.8" lengthAdjust="spacingAndGlyphs" fill="#222">Trials</text>
<text transform="translate(14.2 398.9) rotate(-90)" font-size="11" text-anchor="middle" font-weight="bold" textLength="29.8" lengthAdjust="spacingAndGlyphs" fill="#222">Trials</text>
<text transform="translate(15.2 301.3) rotate(-90)" font-size="6" text-anchor="middle" textLength="8.5" lengthAdjust="spacingAndGlyphs" fill="#222">&#956;V</text>
<text transform="translate(15.2 450.5) rotate(-90)" font-size="6" text-anchor="middle" textLength="8.5" lengthAdjust="spacingAndGlyphs" fill="#222">&#956;V</text>
<text x="125.9" y="491" font-size="14" text-anchor="start" textLength="64.2" lengthAdjust="spacingAndGlyphs" fill="#111">Time (ms)</text>
<text x="398.6" y="490.8" font-size="14" text-anchor="start" textLength="63.9" lengthAdjust="spacingAndGlyphs" fill="#111">Time (ms)</text>
<rect x="130.2" y="542.9" width="122.3" height="116.5" fill="none" stroke="#aaa" stroke-width="0.8"/>
<line x1="130.2" y1="653.7" x2="252.5" y2="653.7" stroke="#bbb" stroke-width="0.8"/>
<path d="M130.2 561.5 h1.6 M252.5 561.5 h-1.6 M130.2 581.2 h1.6 M252.5 581.2 h-1.6 M130.2 600.9 h1.6 M252.5 600.9 h-1.6 M130.2 620.6 h1.6 M252.5 620.6 h-1.6 M130.2 640.4 h1.6 M252.5 640.4 h-1.6 M133.8 659.4 v-1.6 M133.8 542.9 v1.6 M158.0 659.4 v-1.6 M158.0 542.9 v1.6 M182.4 659.4 v-1.6 M182.4 542.9 v1.6 M206.6 659.4 v-1.6 M206.6 542.9 v1.6 M230.5 659.4 v-1.6 M230.5 542.9 v1.6" stroke="#aaa" stroke-width="0.6"/>
<polyline points="139.4,542.9 160.0,591.2 190.4,615.4 223.0,617.9 252.5,634.4" fill="none" stroke="#1a1aff" stroke-width="1.3" stroke-linejoin="round" clip-path="url(#c495)"/>
<polyline points="144.4,542.9 160.0,575.0 190.4,605.5 221.4,615.7 252.5,639.0" fill="none" stroke="#ff1a1a" stroke-width="1.3" stroke-linejoin="round" clip-path="url(#c495)"/>
<line x1="136" y1="628.5" x2="147.8" y2="628.5" stroke="#1a1aff" stroke-width="1.3"/>
<line x1="136" y1="641" x2="147.8" y2="641" stroke="#ff1a1a" stroke-width="1.3"/>
<text x="150.2" y="632" font-size="10" text-anchor="start" font-weight="bold" textLength="15.5" lengthAdjust="spacingAndGlyphs" fill="#222">std</text>
<text x="150.2" y="644.5" font-size="10" text-anchor="start" font-weight="bold" textLength="20" lengthAdjust="spacingAndGlyphs" fill="#222">stim</text>
<text x="126.2" y="565.1" font-size="10.2" text-anchor="end" font-weight="bold" fill="#222">46</text>
<text x="126.2" y="584.8" font-size="10.2" text-anchor="end" font-weight="bold" fill="#222">45</text>
<text x="126.2" y="604.5" font-size="10.2" text-anchor="end" font-weight="bold" fill="#222">44</text>
<text x="126.2" y="624.2" font-size="10.2" text-anchor="end" font-weight="bold" fill="#222">43</text>
<text x="126.2" y="644" font-size="10.2" text-anchor="end" font-weight="bold" fill="#222">42</text>
<text x="133.8" y="674.7" font-size="10.2" text-anchor="middle" font-weight="bold" fill="#222">2</text>
<text x="158" y="674.7" font-size="10.2" text-anchor="middle" font-weight="bold" fill="#222">4</text>
<text x="182.4" y="674.7" font-size="10.2" text-anchor="middle" font-weight="bold" fill="#222">6</text>
<text x="206.6" y="674.7" font-size="10.2" text-anchor="middle" font-weight="bold" fill="#222">8</text>
<text x="230.5" y="674.7" font-size="10.2" text-anchor="middle" font-weight="bold" fill="#222">10</text>
<text x="142.9" y="536.8" font-size="11.2" text-anchor="start" font-weight="bold" textLength="97.2" lengthAdjust="spacingAndGlyphs" fill="#111">Spectrum - FC5</text>
<text x="143.5" y="691.7" font-size="13" text-anchor="start" font-weight="bold" textLength="95.7" lengthAdjust="spacingAndGlyphs" fill="#222">Frequency (Hz)</text>
<text transform="translate(103.2 671.6) rotate(-90)" font-size="12.6" font-weight="bold" fill="#222"><tspan textLength="105.7" lengthAdjust="spacingAndGlyphs">Log Power 10*log</tspan><tspan font-size="8.8" dy="2.8">10</tspan><tspan dy="-2.8" font-weight="normal" font-size="13.5">(</tspan><tspan font-style="italic" font-family="Liberation Serif, serif" font-weight="normal" font-size="14">&#956;</tspan><tspan font-size="13">V</tspan><tspan font-size="9" dy="-5">2</tspan><tspan dy="5" font-weight="normal" font-size="13.5">)</tspan></text>
<rect x="340.4" y="542.6" width="111.6" height="118.2" fill="none" stroke="#aaa" stroke-width="0.8"/>
<line x1="340.4" y1="654.8" x2="452" y2="654.8" stroke="#bbb" stroke-width="0.8"/>
<path d="M340.4 548.6 h1.6 M452.0 548.6 h-1.6 M340.4 578.1 h1.6 M452.0 578.1 h-1.6 M340.4 607.8 h1.6 M452.0 607.8 h-1.6 M340.4 637.5 h1.6 M452.0 637.5 h-1.6 M343.8 660.8 v-1.6 M343.8 542.6 v1.6 M365.5 660.8 v-1.6 M365.5 542.6 v1.6 M387.9 660.8 v-1.6 M387.9 542.6 v1.6 M410.3 660.8 v-1.6 M410.3 542.6 v1.6 M432.4 660.8 v-1.6 M432.4 542.6 v1.6" stroke="#aaa" stroke-width="0.6"/>
<rect x="340.4" y="655.2" width="18.6" height="5.6" fill="#000"/>
<polyline points="340.4,563.5 359.0,542.9 378.6,576.0 397.2,588.4 414.3,586.2 434.5,613.3 452.0,644.3" fill="none" stroke="#1a1aff" stroke-width="1.3" stroke-linejoin="round" clip-path="url(#c496)"/>
<polyline points="340.4,577.5 359.0,542.9 378.6,569.1 397.2,583.1 414.3,586.2 434.5,616.4 452.0,654.6" fill="none" stroke="#ff1a1a" stroke-width="1.3" stroke-linejoin="round" clip-path="url(#c496)"/>
<line x1="347.5" y1="628.8" x2="359" y2="628.8" stroke="#1a1aff" stroke-width="1.3"/>
<line x1="347.5" y1="641.9" x2="359" y2="641.9" stroke="#ff1a1a" stroke-width="1.3"/>
<text x="361.5" y="632.3" font-size="10" text-anchor="start" font-weight="bold" textLength="15.5" lengthAdjust="spacingAndGlyphs" fill="#222">std</text>
<text x="361.5" y="645.4" font-size="10" text-anchor="start" font-weight="bold" textLength="20" lengthAdjust="spacingAndGlyphs" fill="#222">stim</text>
<text x="336.4" y="552.2" font-size="10.2" text-anchor="end" font-weight="bold" fill="#222">48</text>
<text x="336.4" y="581.7" font-size="10.2" text-anchor="end" font-weight="bold" fill="#222">46</text>
<text x="336.4" y="611.4" font-size="10.2" text-anchor="end" font-weight="bold" fill="#222">44</text>
<text x="336.4" y="641.1" font-size="10.2" text-anchor="end" font-weight="bold" fill="#222">42</text>
<text x="343.8" y="675.9" font-size="10.2" text-anchor="middle" font-weight="bold" fill="#222">2</text>
<text x="365.5" y="675.9" font-size="10.2" text-anchor="middle" font-weight="bold" fill="#222">4</text>
<text x="387.9" y="675.9" font-size="10.2" text-anchor="middle" font-weight="bold" fill="#222">6</text>
<text x="410.3" y="675.9" font-size="10.2" text-anchor="middle" font-weight="bold" fill="#222">8</text>
<text x="432.4" y="675.9" font-size="10.2" text-anchor="middle" font-weight="bold" fill="#222">10</text>
<text x="350" y="537" font-size="11.2" text-anchor="start" font-weight="bold" textLength="93.9" lengthAdjust="spacingAndGlyphs" fill="#111">Spectrum - FC6</text>
<text x="350.6" y="691.7" font-size="13" text-anchor="start" font-weight="bold" textLength="91.7" lengthAdjust="spacingAndGlyphs" fill="#222">Frequency (Hz)</text>
<text transform="translate(316 672.3) rotate(-90)" font-size="12.6" font-weight="bold" fill="#222"><tspan textLength="105.7" lengthAdjust="spacingAndGlyphs">Log Power 10*log</tspan><tspan font-size="8.8" dy="2.8">10</tspan><tspan dy="-2.8" font-weight="normal" font-size="13.5">(</tspan><tspan font-style="italic" font-family="Liberation Serif, serif" font-weight="normal" font-size="14">&#956;</tspan><tspan font-size="13">V</tspan><tspan font-size="9" dy="-5">2</tspan><tspan dy="5" font-weight="normal" font-size="13.5">)</tspan></text>
<rect x="29.6" y="752" width="244.8" height="117.2" fill="none" stroke="#aaa" stroke-width="0.9"/>
<line x1="29.6" y1="863.3" x2="274.4" y2="863.3" stroke="#aaa" stroke-width="0.9"/>
<path d="M29.6 765.2 h1.8 M274.4 765.2 h-1.8 M29.6 781.9 h1.8 M274.4 781.9 h-1.8 M29.6 798.7 h1.8 M274.4 798.7 h-1.8 M29.6 815.5 h1.8 M274.4 815.5 h-1.8 M29.6 832.2 h1.8 M274.4 832.2 h-1.8 M29.6 849.0 h1.8 M274.4 849.0 h-1.8 M29.3 869.2 V863.8 M70.3 869.2 V863.8 M111.2 869.2 V863.8 M152.5 869.2 V863.8 M193.0 869.2 V863.8 M233.8 869.2 V863.8" stroke="#aaa" stroke-width="0.6"/>
<path d="M29.6 781.8 C30.5 781.2 33.5 778.4 35.1 778.2 C36.7 778.0 38.0 779.1 39.4 780.4 C40.8 781.7 42.1 783.6 43.8 786.1 C45.5 788.6 47.6 792.2 49.5 795.5 C51.4 798.8 53.4 802.5 55.3 805.6 C57.2 808.7 58.9 811.7 61.1 814.3 C63.3 816.9 66.1 820.6 68.3 821.2 C70.5 821.8 72.2 820.5 74.1 817.9 C76.0 815.3 77.9 810.5 79.8 805.6 C81.7 800.7 83.9 793.6 85.6 788.3 C87.3 783.0 88.1 777.9 90.0 773.9 C91.9 769.9 94.8 764.9 97.2 764.5 C99.6 764.1 102.0 768.7 104.4 771.7 C106.8 774.7 109.2 779.6 111.6 782.5 C114.0 785.4 116.5 787.5 118.9 789.0 C121.3 790.5 123.7 789.6 126.1 791.2 C128.5 792.8 130.9 795.0 133.3 798.4 C135.7 801.8 138.1 808.1 140.5 811.4 C142.9 814.6 145.3 817.9 147.7 817.9 C150.1 817.9 153.0 813.3 154.9 811.4 C156.8 809.5 157.7 807.6 159.3 806.3 C160.9 805.0 162.5 803.0 164.4 803.5 C166.3 804.0 168.5 807.1 170.9 809.2 C173.3 811.3 176.4 815.6 178.8 816.0 C181.2 816.4 183.2 814.6 185.3 811.4 C187.4 808.2 189.3 801.6 191.1 797.0 C192.9 792.4 194.4 787.0 196.1 784.0 C197.8 781.0 199.4 779.0 201.2 778.9 C203.0 778.8 205.1 781.2 207.0 783.2 C208.9 785.2 211.1 789.5 212.7 791.2 C214.2 792.9 214.9 793.9 216.3 793.6 C217.8 793.4 220.0 791.4 221.4 789.7 C222.8 788.0 223.2 785.5 225.0 783.2 C226.8 780.9 229.8 776.1 232.0 776.0 C234.2 775.9 236.1 778.5 238.1 782.5 C240.1 786.5 242.0 793.8 243.9 799.8 C245.8 805.8 247.9 814.0 249.6 818.6 C251.3 823.2 252.6 827.1 254.3 827.3 C256.0 827.5 257.8 823.6 259.7 820.0 C261.6 816.4 263.7 809.3 265.5 805.6 C267.3 801.9 269.1 799.1 270.6 797.7 C272.1 796.3 273.9 797.1 274.6 797.0" fill="none" stroke="#2020ff" stroke-width="1.1" stroke-linejoin="round" clip-path="url(#c497)"/>
<path d="M29.6 771.7 C30.3 772.7 32.1 775.3 33.7 777.5 C35.3 779.7 37.5 782.2 39.4 784.7 C41.3 787.2 43.3 789.1 45.2 792.6 C47.1 796.1 48.8 801.8 51.0 805.6 C53.2 809.5 56.3 814.2 58.2 815.7 C60.1 817.2 60.8 816.0 62.5 814.3 C64.2 812.6 66.4 809.2 68.3 805.6 C70.2 802.0 72.2 796.2 74.1 792.6 C76.0 789.0 78.2 785.7 79.8 784.0 C81.4 782.3 82.0 782.4 83.5 782.5 C85.0 782.6 86.2 783.6 88.5 784.7 C90.8 785.8 94.5 788.3 97.2 789.0 C99.9 789.7 102.0 787.9 104.4 789.0 C106.8 790.1 109.2 792.2 111.6 795.5 C114.0 798.8 116.6 805.1 118.9 808.5 C121.2 811.9 123.0 815.7 125.4 815.7 C127.8 815.7 130.8 812.1 133.3 808.5 C135.8 804.9 138.2 797.6 140.5 794.1 C142.8 790.6 144.8 787.9 147.0 787.6 C149.2 787.4 151.2 789.8 153.5 792.6 C155.8 795.4 158.4 801.1 160.8 804.2 C163.2 807.3 165.7 809.0 168.0 811.4 C170.3 813.8 172.3 816.5 174.5 818.6 C176.7 820.7 179.1 823.7 181.0 823.7 C182.9 823.7 184.3 822.1 186.0 818.6 C187.7 815.1 189.5 808.5 191.1 802.7 C192.7 796.9 194.0 790.5 195.4 784.0 C196.8 777.5 198.1 769.1 199.7 763.8 C201.3 758.4 203.2 752.9 204.8 751.9 C206.4 750.9 207.8 753.9 209.1 758.0 C210.4 762.1 211.5 769.8 212.7 776.8 C213.9 783.8 215.1 791.1 216.3 799.8 C217.5 808.4 218.9 820.7 220.0 828.7 C221.1 836.7 221.7 842.2 223.0 848.0 C224.3 853.8 226.1 863.0 227.7 863.6 C229.2 864.2 230.8 858.6 232.3 851.8 C233.8 845.0 235.2 832.5 236.6 822.9 C238.0 813.3 239.6 803.2 241.0 794.1 C242.4 785.0 243.5 774.6 245.3 768.1 C247.1 761.6 249.6 756.4 251.8 755.4 C254.0 754.4 256.1 759.2 258.3 762.3 C260.5 765.4 262.9 771.7 264.8 773.9 C266.7 776.1 268.2 775.5 269.8 775.6 C271.4 775.7 273.8 774.8 274.6 774.6" fill="none" stroke="#ff2020" stroke-width="1.1" stroke-linejoin="round" clip-path="url(#c497)"/>
<text x="26.1" y="768.5" font-size="9.3" text-anchor="end" font-weight="bold" fill="#222">2</text>
<text x="26.1" y="785.2" font-size="9.3" text-anchor="end" font-weight="bold" fill="#222">1</text>
<text x="26.1" y="802" font-size="9.3" text-anchor="end" font-weight="bold" fill="#222">0</text>
<text x="26.1" y="818.8" font-size="9.3" text-anchor="end" font-weight="bold" fill="#222">-1</text>
<text x="26.1" y="835.5" font-size="9.3" text-anchor="end" font-weight="bold" fill="#222">-2</text>
<text x="26.1" y="852.3" font-size="9.3" text-anchor="end" font-weight="bold" fill="#222">-3</text>
<text x="29.3" y="882" font-size="9.3" text-anchor="middle" font-weight="bold" fill="#222">0</text>
<text x="70.3" y="882" font-size="9.3" text-anchor="middle" font-weight="bold" fill="#222">100</text>
<text x="111.2" y="882" font-size="9.3" text-anchor="middle" font-weight="bold" fill="#222">200</text>
<text x="152.5" y="882" font-size="9.3" text-anchor="middle" font-weight="bold" fill="#222">300</text>
<text x="193" y="882" font-size="9.3" text-anchor="middle" font-weight="bold" fill="#222">400</text>
<text x="233.8" y="882" font-size="9.3" text-anchor="middle" font-weight="bold" fill="#222">500</text>
<text x="126.3" y="747.4" font-size="10" text-anchor="start" font-weight="bold" textLength="51.6" lengthAdjust="spacingAndGlyphs" fill="#111">ERP - FC5</text>
<text x="127.1" y="895.4" font-size="10.7" text-anchor="start" font-weight="bold" textLength="50.4" lengthAdjust="spacingAndGlyphs" fill="#222">Time (ms)</text>
<text transform="translate(15 807.7) rotate(-90)" font-size="10.9" text-anchor="middle" font-weight="bold" fill="#222" textLength="70" lengthAdjust="spacingAndGlyphs">Potential (<tspan font-family="Liberation Serif, serif" font-style="italic" font-weight="normal">&#956;</tspan>V)</text>
<rect x="308.5" y="753.2" width="245.8" height="117.1" fill="none" stroke="#aaa" stroke-width="0.9"/>
<line x1="308.5" y1="864.8" x2="554.3" y2="864.8" stroke="#aaa" stroke-width="0.9"/>
<path d="M308.5 764.5 h1.8 M554.3 764.5 h-1.8 M308.5 796.4 h1.8 M554.3 796.4 h-1.8 M308.5 828.4 h1.8 M554.3 828.4 h-1.8 M308.5 860.5 h1.8 M554.3 860.5 h-1.8 M308.3 870.3 V865.3 M349.6 870.3 V865.3 M390.7 870.3 V865.3 M431.7 870.3 V865.3 M472.3 870.3 V865.3 M514.1 870.3 V865.3" stroke="#aaa" stroke-width="0.6"/>
<rect x="356.3" y="864.8" width="11.5" height="5.5" fill="#000"/>
<rect x="454.5" y="864.8" width="34" height="5.5" fill="#000"/>
<path d="M308.4 787.3 C309.2 786.3 311.3 782.9 313.0 781.1 C314.7 779.3 317.0 776.5 318.8 776.5 C320.6 776.5 322.1 778.4 323.8 781.1 C325.5 783.8 327.1 788.3 328.9 792.6 C330.7 796.9 332.6 802.7 334.6 807.1 C336.6 811.5 339.2 818.1 341.1 819.3 C343.0 820.5 344.4 818.3 346.2 814.3 C348.0 810.3 350.1 802.7 352.0 795.5 C353.9 788.3 355.7 778.1 357.7 771.0 C359.7 763.9 362.3 754.4 364.2 752.9 C366.1 751.4 367.7 758.1 369.3 762.3 C370.9 766.5 372.0 772.2 373.7 778.2 C375.4 784.2 377.5 793.7 379.4 798.4 C381.3 803.1 383.3 806.1 385.2 806.3 C387.1 806.5 389.1 803.8 391.0 799.8 C392.9 795.8 394.9 787.3 396.8 782.5 C398.7 777.7 400.8 773.4 402.5 771.0 C404.2 768.6 405.2 767.6 406.9 768.1 C408.6 768.6 410.7 771.7 412.6 773.9 C414.5 776.1 416.7 779.2 418.4 781.1 C420.1 783.0 421.0 784.4 422.7 785.4 C424.4 786.4 426.3 786.2 428.5 786.9 C430.7 787.6 433.4 788.2 435.8 789.7 C438.2 791.2 440.7 794.3 443.0 796.2 C445.3 798.1 447.6 800.9 449.5 801.3 C451.4 801.7 452.7 800.8 454.5 798.4 C456.3 796.0 458.2 791.7 460.3 786.9 C462.4 782.1 464.6 774.0 466.8 769.5 C469.0 765.0 471.2 760.9 473.3 760.2 C475.4 759.5 477.1 762.2 479.1 765.2 C481.2 768.2 483.7 774.1 485.6 778.2 C487.5 782.3 488.9 786.8 490.6 789.7 C492.3 792.6 494.0 795.0 495.7 795.5 C497.4 796.0 499.0 794.5 500.8 792.6 C502.6 790.7 504.6 786.8 506.5 784.0 C508.4 781.2 510.5 777.7 512.3 776.0 C514.1 774.3 515.7 773.4 517.4 773.6 C519.1 773.9 520.6 775.0 522.4 777.5 C524.2 780.0 526.3 784.3 528.2 788.3 C530.1 792.3 532.2 797.7 534.0 801.3 C535.8 804.9 537.3 808.1 539.0 810.0 C540.7 811.9 542.4 813.3 544.1 812.8 C545.8 812.3 547.4 809.7 549.1 807.1 C550.8 804.5 553.4 798.7 554.2 797.0" fill="none" stroke="#2020ff" stroke-width="1.1" stroke-linejoin="round" clip-path="url(#c498)"/>
<path d="M308.4 772.4 C308.8 772.3 309.3 771.1 310.8 771.7 C312.3 772.3 315.2 774.0 317.3 776.0 C319.4 778.0 321.2 781.0 323.1 784.0 C325.0 787.0 327.0 790.7 328.9 794.1 C330.8 797.5 332.7 801.1 334.6 804.2 C336.5 807.3 338.5 810.4 340.4 812.8 C342.3 815.1 344.3 818.3 346.2 818.3 C348.1 818.3 350.1 816.3 352.0 812.8 C353.9 809.2 355.8 801.8 357.7 797.0 C359.6 792.2 361.3 787.2 363.5 784.0 C365.7 780.8 368.9 778.1 370.8 777.5 C372.7 776.9 373.4 778.4 375.1 780.4 C376.8 782.4 379.0 786.7 380.9 789.7 C382.8 792.7 384.8 796.5 386.6 798.4 C388.4 800.3 390.0 801.4 391.7 801.3 C393.4 801.2 394.8 800.1 396.8 797.7 C398.9 795.3 401.6 790.0 404.0 786.9 C406.4 783.8 408.8 780.9 411.2 778.9 C413.6 776.9 416.2 776.2 418.4 774.6 C420.6 773.0 422.3 771.4 424.2 769.5 C426.1 767.6 428.2 765.4 429.9 763.5 C431.6 761.6 432.8 759.3 434.3 758.0 C435.8 756.7 437.1 755.2 438.7 755.8 C440.3 756.4 442.0 757.6 443.7 761.6 C445.4 765.6 447.2 772.5 448.8 779.6 C450.4 786.7 451.7 796.0 453.1 804.2 C454.5 812.4 455.8 820.5 457.4 828.7 C459.0 836.9 460.8 847.2 462.5 853.2 C464.2 859.2 465.7 864.5 467.5 864.8 C469.3 865.0 471.4 860.2 473.3 854.7 C475.2 849.2 477.2 838.8 479.1 831.6 C481.0 824.4 482.9 816.0 484.8 811.4 C486.7 806.8 488.8 805.1 490.6 804.2 C492.4 803.4 494.0 805.2 495.7 806.3 C497.4 807.4 499.0 811.1 500.8 810.7 C502.6 810.4 504.6 807.9 506.5 804.2 C508.4 800.5 510.4 793.1 512.3 788.3 C514.2 783.5 516.0 778.2 518.1 775.3 C520.2 772.4 522.4 770.7 524.6 770.7 C526.8 770.7 528.8 773.8 531.1 775.3 C533.4 776.8 536.1 779.0 538.3 779.6 C540.5 780.2 542.4 779.0 544.1 778.9 C545.8 778.8 546.7 778.2 548.4 778.9 C550.1 779.6 553.2 782.5 554.2 783.2" fill="none" stroke="#ff2020" stroke-width="1.1" stroke-linejoin="round" clip-path="url(#c498)"/>
<text x="305" y="767.8" font-size="9.3" text-anchor="end" font-weight="bold" fill="#222">2</text>
<text x="305" y="799.7" font-size="9.3" text-anchor="end" font-weight="bold" fill="#222">0</text>
<text x="305" y="831.7" font-size="9.3" text-anchor="end" font-weight="bold" fill="#222">-2</text>
<text x="305" y="863.8" font-size="9.3" text-anchor="end" font-weight="bold" fill="#222">-4</text>
<text x="308.3" y="882.3" font-size="9.3" text-anchor="middle" font-weight="bold" fill="#222">0</text>
<text x="349.6" y="882.3" font-size="9.3" text-anchor="middle" font-weight="bold" fill="#222">100</text>
<text x="390.7" y="882.3" font-size="9.3" text-anchor="middle" font-weight="bold" fill="#222">200</text>
<text x="431.7" y="882.3" font-size="9.3" text-anchor="middle" font-weight="bold" fill="#222">300</text>
<text x="472.3" y="882.3" font-size="9.3" text-anchor="middle" font-weight="bold" fill="#222">400</text>
<text x="514.1" y="882.3" font-size="9.3" text-anchor="middle" font-weight="bold" fill="#222">500</text>
<text x="405.7" y="748.2" font-size="10" text-anchor="start" font-weight="bold" textLength="51.2" lengthAdjust="spacingAndGlyphs" fill="#111">ERP - FC6</text>
<text x="405.7" y="895.6" font-size="10.7" text-anchor="start" font-weight="bold" textLength="51.2" lengthAdjust="spacingAndGlyphs" fill="#222">Time (ms)</text>
<text transform="translate(293.1 808.9) rotate(-90)" font-size="10.9" text-anchor="middle" font-weight="bold" fill="#222" textLength="70" lengthAdjust="spacingAndGlyphs">Potential (<tspan font-family="Liberation Serif, serif" font-style="italic" font-weight="normal">&#956;</tspan>V)</text>
</svg></body></html>
